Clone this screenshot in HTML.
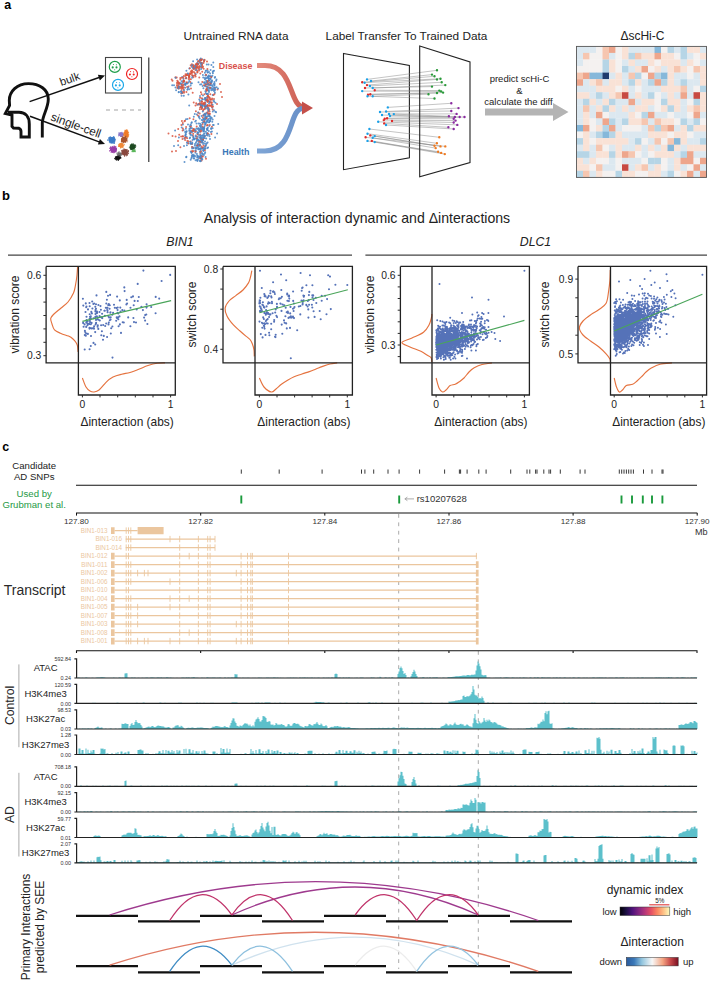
<!DOCTYPE html>
<html><head><meta charset="utf-8"><style>
html,body{margin:0;padding:0;background:#fff;}
svg{display:block;font-family:"Liberation Sans", sans-serif;}
</style></head><body>
<svg width="710" height="981" viewBox="0 0 710 981">
<rect width="710" height="981" fill="#fff"/>
<text x="4.3" y="9.3" font-size="12.5" fill="#000" font-weight="bold" >a</text>
<path d="M42.3 137.5 L42.3 123 C42.3 116 48.3 108 48.3 99 C48.3 89.5 39.5 83.6 28.5 83.6 C17 83.6 9.3 91.5 9.3 100.5 L9.6 105.5 L5.3 113.6 L12 115.2 L12 126.5 L13.5 128 L19 128.3 Q21 129 21 131.5 L21 137 L29.3 137 L29.3 124 C29.3 117 25.5 112.3 19 112.3 L8 112.3" fill="none" stroke="#111" stroke-width="2.9" stroke-linejoin="miter"/>
<line x1="29.6" y1="101.6" x2="99.8" y2="77.3" stroke="#111" stroke-width="1.5" /><path d="M105 75.5 L99.8 80.5 L97.9 74.8Z" fill="#111"/>
<line x1="30" y1="116.3" x2="99.8" y2="142.1" stroke="#111" stroke-width="1.5" /><path d="M105 144 L97.9 144.6 L99.9 138.9Z" fill="#111"/>
<text x="70" y="82.8" font-size="11.2" text-anchor="middle" fill="#222" transform="rotate(-19.5 70 79.8)">bulk</text>
<text x="75.8" y="129.3" font-size="11.8" text-anchor="middle" fill="#222" transform="rotate(20 76 126)">single-cell</text>
<rect x="105.5" y="57.5" width="36" height="35.5" fill="none" stroke="#444" stroke-width="1.1"/>
<circle cx="114.8" cy="66.9" r="5.5" fill="none" stroke="#1f9e4a" stroke-width="1.2"/>
<path d="M112.7 67.4h0M116.5 67.4h0" stroke="#1f9e4a" stroke-width="2.1" stroke-linecap="round"/>
<path d="M113.4 64.5h0M116.4 64.8h0M114.7 69.7h0" stroke="#1f9e4a" stroke-width="1.1" stroke-linecap="round"/>
<circle cx="132" cy="74" r="5.5" fill="none" stroke="#ee2222" stroke-width="1.2"/>
<path d="M129.9 74.5h0M133.7 74.5h0" stroke="#ee2222" stroke-width="2.1" stroke-linecap="round"/>
<path d="M130.6 71.6h0M133.6 71.9h0M131.9 76.8h0" stroke="#ee2222" stroke-width="1.1" stroke-linecap="round"/>
<circle cx="118" cy="84.9" r="5.5" fill="none" stroke="#1ca8e8" stroke-width="1.2"/>
<path d="M115.9 85.4h0M119.7 85.4h0" stroke="#1ca8e8" stroke-width="2.1" stroke-linecap="round"/>
<path d="M116.6 82.5h0M119.6 82.8h0M117.9 87.7h0" stroke="#1ca8e8" stroke-width="1.1" stroke-linecap="round"/>
<line x1="106" y1="110" x2="141" y2="110" stroke="#999" stroke-width="0.9" stroke-dasharray="4 4"/>
<line x1="148.8" y1="57.5" x2="148.8" y2="162" stroke="#222" stroke-width="1.1" />
<ellipse cx="112" cy="140.1" rx="3.44" ry="3.04" fill="#3d7dc8"/>
<path d="M107.8 139.8h0M114.6 143h0M110.9 142.4h0M113.3 138h0M111.3 139.9h0M112.1 137.3h0M110.2 143.1h0M111.1 142.5h0M113.8 141.9h0M112.6 142h0M112 138.1h0M107.8 140.4h0M115.6 139.3h0M109.8 139.6h0M114.3 143.3h0M110.5 140h0M109.3 137.8h0M108.9 137.7h0M115 140.8h0M111 140.3h0M109.5 137.4h0M110.2 139h0M113.6 137.8h0M108.3 139.9h0M114.3 142.9h0M110.4 137h0M113.4 143.3h0M112.4 141.1h0M114.5 137.3h0M114.1 138.3h0M111.9 140.4h0M109.8 137.5h0M113.2 138.4h0M112.7 143.1h0M113.4 136.6h0M113.7 142.2h0M114.2 138.6h0M111.4 139.8h0M110.1 136.9h0M113.9 136.9h0M110.9 138.5h0M112.2 138.4h0M112.5 139.3h0M112.8 138.7h0M110.3 141.6h0M111.3 138.6h0M111.7 140.3h0M111.8 142.6h0M114.7 142h0M109.3 142.3h0M110.4 138h0M114.3 137.9h0M112.9 138h0M110.2 139.6h0M114.1 140.1h0M111.9 141.1h0M111.8 143.4h0M111.5 138.8h0M110 141.8h0M110.5 137.9h0M108.6 138.3h0M111.6 137.8h0M109.5 140.8h0M113.5 141.2h0M111.5 142.2h0" stroke="#3d7dc8" stroke-width="1" stroke-linecap="round"/>
<ellipse cx="121.2" cy="134.3" rx="2.5600000000000005" ry="1.92" fill="#8c78c8"/>
<path d="M120.3 136h0M124 133.9h0M121.9 132.3h0M118.7 133h0M120.4 132.7h0M123.2 135.1h0M121.5 135.2h0M118.4 134.2h0M120.4 136.3h0M120 134.2h0M123.2 134h0M120.4 136.4h0M123.1 135.7h0M122 135.7h0M121.5 136.5h0M118.8 135.8h0M119.3 132.9h0M119.4 134.1h0M118.7 135.7h0M122.2 136.6h0M121.3 132.9h0M120 133.1h0M119.5 135.5h0M123.4 134.5h0M122.9 134.1h0M121.2 132.7h0M122 136.5h0M123 134.4h0M122.8 134.3h0M122.7 132.8h0" stroke="#8c78c8" stroke-width="1" stroke-linecap="round"/>
<ellipse cx="126.3" cy="133.8" rx="2.2399999999999998" ry="3.6" fill="#f07c28"/>
<path d="M127.1 130.4h0M124.7 136.8h0M128.1 134.3h0M125 136h0M127.2 135.3h0M124.7 132.7h0M126.9 130.4h0M127.8 130.9h0M125.1 132.4h0M126.6 131.6h0M128.7 135.8h0M123.9 132.8h0M124.1 133.2h0M127.5 134.2h0M125.3 130.8h0M127.8 137.5h0M127.4 136.5h0M127.8 136.8h0M126.1 135.4h0M127.4 134.3h0M127 136.9h0M123.7 135.1h0M128.7 132.7h0M125.1 130.2h0M126.7 133.5h0M127.5 135.6h0M128.1 135.7h0M126.2 136.1h0M126.1 135.2h0M126.2 130.2h0M125.9 133.3h0M124.2 135.4h0M127.3 136.1h0M127.1 134h0M126.7 136.6h0M123.7 134.8h0M126.1 134.4h0M126.6 132.8h0M128.6 136.2h0M126.3 131.2h0M127.5 135.9h0M124.9 137.4h0M125.6 134.4h0M128.3 132.2h0M127 134.8h0M125.5 134.1h0M124.8 131.2h0M128.8 134.6h0M126.9 129.6h0M125.2 130.5h0" stroke="#f07c28" stroke-width="1" stroke-linecap="round"/>
<ellipse cx="124.3" cy="139.5" rx="3.04" ry="2.8000000000000003" fill="#a8552e"/>
<path d="M124.6 140h0M127.7 140.9h0M122 136.8h0M122.4 142h0M125.7 140.1h0M123.8 142.1h0M121.8 138.6h0M121.7 140.7h0M126.8 139h0M124.8 138.8h0M122.2 141.2h0M122.9 138.3h0M121.3 141.5h0M122.6 137.3h0M125.1 139.8h0M124.6 140.8h0M124.5 139.5h0M123.7 140.1h0M123.8 138.9h0M125.3 139.9h0M123.9 142.1h0M125 137.8h0M123.6 142.6h0M124.3 138.3h0M125.5 136.5h0M125.6 142h0M124.9 141.1h0M121.6 139.6h0M121.5 139.8h0M125.1 142.5h0M123.7 142.8h0M122.2 139.3h0M125.5 141.7h0M122.2 141.4h0M123.6 139.5h0M124.7 138.8h0M125.9 136.7h0M127.1 138.2h0M125.6 141.5h0M121.5 140.5h0M122 141.5h0M124.9 141.5h0M121.9 138.9h0M127 141.9h0M123 136.5h0M122 142.2h0M125.7 136.3h0M125.2 141.8h0M122.1 141.3h0M124.3 140.6h0M121.3 139.9h0M121.5 141.8h0M122.6 140.6h0" stroke="#a8552e" stroke-width="1" stroke-linecap="round"/>
<ellipse cx="121.3" cy="145.3" rx="2.5600000000000005" ry="2.2399999999999998" fill="#f08a38"/>
<path d="M122.2 143.5h0M121.1 146.8h0M124.3 144.4h0M120.3 144.1h0M120.9 144h0M120.3 147.2h0M119.8 146.3h0M122.6 145.1h0M120.8 144.9h0M122.5 146h0M124 145.2h0M121.8 144.8h0M120.4 143.6h0M119 146.5h0M120.5 147.2h0M121.2 147h0M120.1 145.1h0M121 147.1h0M118.5 145.7h0M119.8 143.7h0M122.3 144.4h0M122.9 146.4h0M122.9 146.9h0M120.3 144.8h0M120.8 143.3h0M118.6 146.5h0M122.2 144.3h0M122.8 147.6h0M122.8 147.3h0M120.6 146.9h0M118.4 144.4h0M122.6 145.3h0M120.9 143.6h0M120.6 148h0M121.1 147.7h0" stroke="#f08a38" stroke-width="1" stroke-linecap="round"/>
<ellipse cx="132.5" cy="146.8" rx="2.8000000000000003" ry="2.64" fill="#1e4a22"/>
<path d="M135.5 146.2h0M131.7 144.1h0M133.1 145.2h0M130.3 144.7h0M135 144.8h0M133.4 146.2h0M130.8 148.4h0M134.3 145.5h0M132.5 147.3h0M131.8 149.6h0M133.9 147h0M131.5 149h0M130.4 149.2h0M133.2 149.2h0M133.1 143.7h0M133.4 145.9h0M133.2 144.2h0M132 147h0M134 149.3h0M134.2 147.7h0M132.4 149.6h0M131.8 147.6h0M131.1 148.2h0M132.1 145h0M131.6 144.5h0M134.8 145h0M130.5 148.1h0M129.3 147.4h0M134 148.4h0M130.2 146.3h0M130.5 145.5h0M130 148.2h0M131.2 149.1h0M132.3 145.6h0M130.9 149.6h0M135.9 146.1h0M135.6 147.6h0M135.6 145.6h0M131.9 144.2h0M132 144.3h0M133.1 144.5h0M132.7 147.8h0M135 145.2h0M133.9 149.5h0M131.6 149.3h0M131.5 148h0" stroke="#1e4a22" stroke-width="1" stroke-linecap="round"/>
<ellipse cx="133.8" cy="151" rx="1.7600000000000002" ry="1.2000000000000002" fill="#5cb85c"/>
<path d="M134.1 151.4h0M134.3 151.2h0M135.5 151.7h0M133 150.9h0M132.2 150.8h0M132.8 151h0M131.9 151.6h0M132.6 151.7h0M134.8 150.7h0M133.6 150h0M134.1 150.1h0M132.5 150.8h0M135.2 149.9h0" stroke="#5cb85c" stroke-width="1" stroke-linecap="round"/>
<ellipse cx="113.5" cy="149.6" rx="3.44" ry="2.8000000000000003" fill="#9a3fa8"/>
<path d="M110.6 147h0M113.1 146.4h0M115.3 148.5h0M116.2 149.4h0M111.7 149.6h0M114.6 147.8h0M112.8 148.1h0M111.9 151.3h0M113.6 150.3h0M114 146.2h0M113.8 151h0M112.8 150.4h0M112 147.9h0M109.7 148.3h0M116.2 147h0M116.5 148.5h0M112.7 149.6h0M116 151.1h0M115.2 147.8h0M115.5 149.6h0M113.6 148.2h0M114.2 151.4h0M110.5 147.6h0M114.1 152.3h0M110.7 149.2h0M110.1 148.1h0M114.1 152h0M116 151h0M114.6 146.2h0M111.2 149.9h0M111.2 148.6h0M115.8 151.3h0M114.7 146.5h0M116.1 149.3h0M113.5 150.8h0M109.9 150.8h0M113.9 152.8h0M113 148.1h0M110.9 147.3h0M115.1 149h0M115.2 146.8h0M113.6 151.5h0M116 149h0M112.6 152.5h0M115.5 151.4h0M111.5 151.6h0M110.8 147.9h0M109.8 151h0M115.6 146.7h0M110 150.6h0M111.4 150.4h0M111.1 146.8h0M114.3 147.8h0M114 152.6h0M112.4 146.5h0M115.9 152.2h0M111.5 150.4h0M111.1 152.5h0M114.7 149.3h0M112 152.3h0" stroke="#9a3fa8" stroke-width="1" stroke-linecap="round"/>
<ellipse cx="124.8" cy="152.4" rx="3.2" ry="3.04" fill="#8a4a40"/>
<path d="M125.5 152.6h0M128.4 153.4h0M123.7 154.3h0M125.4 150.3h0M124.6 150.1h0M124.1 154.7h0M125.3 153.3h0M127.4 149.8h0M121.6 153.2h0M126.4 150.6h0M124 149.2h0M126.1 153.1h0M124.8 149.2h0M126.2 155.6h0M125.5 150.3h0M124.1 153.5h0M123.6 152.8h0M121.8 151.6h0M123.9 151.9h0M122.3 150.1h0M126.7 154.7h0M125.5 150.9h0M128.2 150.5h0M123.9 149h0M124.4 155.5h0M125.6 152h0M125.6 150.7h0M125.8 149.5h0M125.6 150.1h0M121.1 153.5h0M126.2 153h0M128.6 151.8h0M127.2 155.4h0M124.4 156h0M125.3 152.1h0M127.1 152.5h0M128 151h0M122 154.7h0M124 154.5h0M126.2 155.9h0M125.7 150h0M124.4 156.1h0M123.3 153.5h0M121.8 153.9h0M125 151.2h0M127.9 151.4h0M128.2 153.7h0M128.4 151.8h0M127.5 152.6h0M121.6 150.5h0M123.7 152.4h0M128.4 150.9h0M123.9 152.5h0M126.6 149.6h0M125.1 152.3h0M122.8 153.2h0M127.5 154.4h0M124.4 153h0M127.2 154.9h0M123.3 151.3h0" stroke="#8a4a40" stroke-width="1" stroke-linecap="round"/>
<ellipse cx="119.3" cy="154.5" rx="2.2399999999999998" ry="2.08" fill="#707070"/>
<path d="M119 153.6h0M118.2 152.6h0M121.3 154.6h0M118.9 152.3h0M118.6 152.1h0M119.4 152h0M118.9 154.7h0M119.9 155.8h0M120.2 154.7h0M117.9 154.3h0M118.8 156.7h0M120.9 152.6h0M117.7 156.1h0M120 153.7h0M120 156.5h0M119.2 155.6h0M119.1 154.7h0M118.7 154.7h0M119.3 155.7h0M118.8 155.3h0M117 154.9h0M117.9 156.6h0M120.3 153.4h0M121.7 155.1h0M119.4 156h0M116.8 153.3h0M118.7 156.2h0M117.7 153h0M119.8 156.4h0" stroke="#707070" stroke-width="1" stroke-linecap="round"/>
<ellipse cx="117.8" cy="158" rx="2.5600000000000005" ry="2.08" fill="#111"/>
<path d="M115.3 157.4h0M118.7 158.6h0M120.7 157.6h0M119.2 155.8h0M119.7 157.6h0M117.9 155.9h0M115.3 157.2h0M116.5 160.2h0M116.8 158.6h0M120.4 158.1h0M118.2 160.5h0M118.4 159.4h0M120.1 157.8h0M120.3 156.9h0M118.9 158.8h0M115.5 159.6h0M116.7 159.5h0M116 158.2h0M118 157.4h0M118.2 160.3h0M116.1 156.8h0M117 158.7h0M114.7 158.7h0M115.8 156.9h0M120.8 157.8h0M120.9 158h0M116.9 156.8h0M116.5 156.9h0M118.2 157.1h0M114.9 158.6h0M115.4 158.6h0M119.2 158.8h0M120.3 157.4h0" stroke="#111" stroke-width="1" stroke-linecap="round"/>
<text x="236" y="39.5" font-size="11.8" text-anchor="middle" fill="#222" >Untrained RNA data</text>
<text x="406.5" y="39.5" font-size="11.8" text-anchor="middle" fill="#222" >Label Transfer To Trained Data</text>
<text x="642.4" y="39.5" font-size="12" text-anchor="middle" fill="#222" >ΔscHi-C</text>
<path d="M207.2 121.8h0M201 158.6h0M207.6 93.7h0M197.1 157.5h0M202.1 148h0M200.3 126.5h0M212.7 94.9h0M193.7 129.5h0M203 130h0M212.3 107.8h0M200.1 141.2h0M202 129h0M189.4 76.9h0M206.9 89.5h0M196.6 141.5h0M204.5 126.3h0M203.8 138.3h0M204.8 118.1h0M190.7 134.6h0M201.3 105.7h0M198.9 116.3h0M210.4 88h0M209.9 76.2h0M204.9 72.7h0M192 128.3h0M194.7 155.5h0M204.6 136.7h0M200 148.5h0M200.7 150.1h0M189.3 68.4h0M185.6 133.9h0M207 113.5h0M213 125.1h0M182.5 83h0M199.9 101h0M206.1 117.7h0M207.5 135.4h0" stroke="#4a86c5" stroke-width="2" stroke-linecap="round" stroke-opacity="0.85"/>
<path d="M192 73.1h0M199.3 77.5h0M193.7 102.6h0M208 95.2h0M189.3 76.7h0M192.7 75.8h0M203.1 110.4h0M200.1 134.5h0M188.7 78.9h0M205.6 98h0M207.9 106.1h0M168.5 133.5h0M205.8 100.3h0M199.7 113.4h0M186.3 77.9h0M212.1 98.4h0M214 99h0M189.5 79h0M190.7 65.3h0M203.7 68.8h0M189.1 75.7h0M205.1 113.4h0M179.7 86.4h0" stroke="#d9553f" stroke-width="2" stroke-linecap="round" stroke-opacity="0.85"/>
<path d="M202.9 75h0M211.3 76.4h0M202.9 99.2h0M207.4 120.3h0M195.4 152.8h0M203.9 155h0M187.5 119h0M195 144.1h0M193.7 158.3h0M198.7 142.8h0M202.2 107.2h0M206 118.4h0M200.9 104.4h0M203.3 150.1h0M193.5 156.3h0M215.5 102.7h0M183.6 130.1h0M195.2 150.8h0M192.6 147.1h0M200.9 106.5h0M202.1 140h0M206.8 116.7h0M181.6 95.7h0M214.8 77.8h0M185.8 134.3h0M199.6 156.9h0M201.1 59.4h0M190.7 159.7h0M200.9 136.3h0M207.6 70.5h0M199.7 145.5h0M211.3 82.1h0M209 134.7h0M199.9 137.7h0" stroke="#4a86c5" stroke-width="2" stroke-linecap="round" stroke-opacity="0.85"/>
<path d="M192.3 71.1h0M196.4 67.3h0M196.8 67h0M209.7 105.8h0M190.7 141.6h0M189.6 74.8h0M205.6 99.1h0M208.8 108.6h0M206.6 94.1h0M193.4 119.2h0M198.4 67.5h0M193 75.7h0M178.1 82.5h0M180.3 78.1h0M202 142.2h0M207.7 107.6h0M205.3 145.9h0M182.5 87.7h0M204.7 135.9h0M182.2 87.9h0M217.5 89.5h0M183.9 75.9h0M198.9 67.1h0M209.3 109.7h0M193.3 147.9h0M200.3 104.7h0" stroke="#d9553f" stroke-width="2" stroke-linecap="round" stroke-opacity="0.85"/>
<path d="M204.9 82.2h0M214.6 85h0M210.4 84h0M205.4 148.5h0M201.6 116.1h0M185.1 83.9h0M202.6 85.9h0M195.6 160.2h0M200.5 158h0M206.6 112.8h0M181.7 127.5h0M196.3 128.4h0M200.9 66.4h0M207.7 76.8h0M178.5 83.8h0M200.4 155.8h0M183.4 80.6h0M184.5 81.7h0M209.2 113.7h0M205.4 75.6h0M209.9 85h0M203.4 88.2h0M200.5 142.6h0M205.7 71h0M199.4 69.2h0M202.2 99.3h0M193.8 116.8h0M206.6 118.1h0M212.4 75.8h0M213.9 88.1h0M214.1 101.8h0M211.4 77.1h0M184 145.9h0M205.6 98.4h0M174 85.3h0M182.9 124.6h0M191.4 158.2h0M200.9 59.8h0M208.8 78.6h0M216.5 79.4h0M206.8 64.6h0M208.5 75.6h0M214 91.1h0" stroke="#4a86c5" stroke-width="2" stroke-linecap="round" stroke-opacity="0.85"/>
<path d="M178 87.6h0M176.9 85.8h0M208.6 96.7h0M193.2 65h0M200.1 107.4h0M211.9 126.8h0M207.7 100.2h0M210.4 102.6h0M183.6 81h0M182.4 92.9h0M207.4 69h0M178 141h0M196.2 103.2h0M211.5 103.1h0M182.5 139.1h0M187.1 86.9h0M196.9 64.6h0" stroke="#d9553f" stroke-width="2" stroke-linecap="round" stroke-opacity="0.85"/>
<path d="M210.9 117.2h0M195.5 138.5h0M186.2 157.2h0M209.7 116.4h0M189.2 130.8h0M200.7 127.9h0M207.4 97.8h0M195.2 65.2h0M214.5 116.1h0M191 83.4h0M209.5 136.2h0M202.3 140.2h0M209.1 122.2h0M210.4 120.4h0M212.8 86.3h0M196.9 114.5h0M193.1 61.3h0M199.8 148.7h0M202.7 147.9h0M193.5 137.1h0M213.3 67h0M197.4 138.9h0M197.4 160.2h0M193.5 139h0M210.8 79.1h0M190.1 141.8h0M178.8 92h0M206.7 135h0M176.1 90.3h0M204.1 129.2h0M208.4 109.8h0M209 80.6h0M195.9 142.7h0M209 89h0M203.4 118.9h0M207.7 116.2h0M206.8 143.3h0M208.1 84.5h0M198.1 149.1h0M188 142.9h0" stroke="#4a86c5" stroke-width="2" stroke-linecap="round" stroke-opacity="0.85"/>
<path d="M204.6 109.1h0M183.8 84.4h0M172 151.5h0M201.5 63.1h0M191.7 72.3h0M179.2 82.7h0M209.8 82.6h0M203 66.7h0M199 104.4h0M191.9 147h0M182.9 128.4h0M210.6 105.8h0M201.5 63.9h0M201.6 94.3h0M201.5 60.1h0M175.5 77.3h0M209.6 98h0M177 82.8h0M190.3 82.1h0M193.9 72h0" stroke="#d9553f" stroke-width="2" stroke-linecap="round" stroke-opacity="0.85"/>
<path d="M186.3 83.3h0M200.4 148.5h0M205.8 93h0M206.8 121.3h0M172.2 85.3h0M206 117h0M206.8 81.5h0M204.2 127.8h0M200.1 84.6h0M214.5 87.3h0M197.7 144.7h0M211.1 129.1h0M205.3 107.2h0M190.3 128.2h0M199.7 148.7h0M197.8 128.9h0M196.5 148h0M213.1 89.2h0M206.1 84.4h0M209.2 116.3h0M175.5 87.6h0M213.7 124.9h0M189.6 133.2h0M202.1 140.9h0M203.4 150.4h0M212.8 88.9h0M205.6 124.6h0M212.1 80.4h0M214 70.8h0M197.9 136.9h0M202.7 105h0M183.5 78.8h0M208.6 80.1h0M210.1 73.6h0M211.9 131.4h0M208.1 147.5h0M198.9 144.4h0M197 147.3h0M204.5 133.2h0" stroke="#4a86c5" stroke-width="2" stroke-linecap="round" stroke-opacity="0.85"/>
<path d="M199.8 109.3h0M203.5 122.2h0M199.6 144.4h0M179 83.7h0M206.2 106.8h0M211.8 102.2h0M196 64.3h0M194.7 72.9h0M201.4 130.4h0M203.9 60.8h0M199.2 66h0M182.6 88.1h0M201.5 146.4h0M183.8 80.6h0M198.4 64.1h0M177.1 84h0M208.9 84.8h0M183.6 89.3h0M205.5 83.9h0M210.3 94.3h0M209.4 114.6h0" stroke="#d9553f" stroke-width="2" stroke-linecap="round" stroke-opacity="0.85"/>
<path d="M202.4 135.7h0M188 124.6h0M195.2 121.4h0M197 140.6h0M210.4 76.2h0M186.3 132.3h0M191.6 66.8h0M197.9 61.9h0M195.9 151h0M195 132.1h0M192.5 139.9h0M204.9 114.1h0M195 66h0M210.1 118.5h0M201.3 148.5h0M203.4 150.9h0M211.2 89.2h0M214 110.2h0M211.3 90.2h0M215.4 111.8h0M194.2 139.2h0M196.6 145.6h0M204.1 59.7h0M189.2 80.9h0M201.1 138h0M203 95.4h0M201.2 140.9h0M199.7 118.4h0M199.4 140.5h0M199.9 131.5h0M195.9 120.8h0M200.8 135.6h0" stroke="#4a86c5" stroke-width="2" stroke-linecap="round" stroke-opacity="0.85"/>
<path d="M199.3 61.5h0M185.4 75.9h0M196 64.5h0M210 102h0M185.1 140.1h0M187.1 75.1h0M178.1 85.8h0M202.3 82h0M171.7 79.6h0M179.2 134.8h0M177.3 88.1h0M188.6 86.4h0M181.7 84.5h0M207.9 101h0M207.8 105h0M208.3 110.8h0M217 104h0M211.9 104.5h0M202 108.4h0M203.6 145.8h0M192.2 65.8h0M209.9 113.8h0M215 89h0M202.1 64.2h0M202.4 67.6h0M208.3 114.5h0M192.7 92.7h0M198.2 112.7h0" stroke="#d9553f" stroke-width="2" stroke-linecap="round" stroke-opacity="0.85"/>
<path d="M203.4 142.9h0M191.8 131.1h0M199.7 59.9h0M210.3 84.3h0M204.5 138h0M197.5 143.9h0M202.4 135.4h0M205.5 119.4h0M205.2 85.4h0M204.9 147.1h0M197.9 132.2h0M207.1 128.7h0M206.2 138.4h0M205.8 117.9h0M199 128.5h0M203.1 144.1h0M206.3 106.2h0M205.2 123.2h0M206.6 89.7h0M204.1 130.9h0M193.7 138.4h0M208.4 90.5h0M188.4 94.4h0M186.1 131.5h0M206.2 80.7h0M211.9 87.9h0M198.8 123.6h0M207.3 133.2h0M216.2 80.8h0M193.3 154.7h0M192.4 76.1h0" stroke="#4a86c5" stroke-width="2" stroke-linecap="round" stroke-opacity="0.85"/>
<path d="M202.9 156.5h0M194.9 75.5h0M190.9 79.2h0M188.8 75.2h0M180.4 147.3h0M201.7 67.5h0M203.8 103.6h0M207.6 112.3h0M207 61.6h0M187.3 141.1h0M187.3 73.8h0M193.5 129.3h0M191.9 143.9h0M202.2 59.2h0M192.3 75.2h0M211.5 105.4h0M206.8 84.2h0M203.7 109.4h0M207.2 90.2h0M208.3 96.8h0M177.9 81.5h0M183.3 81.7h0M212 105.9h0M197.2 104.8h0M198.5 141h0M195.9 131.5h0M188.3 143.5h0M199.9 62.5h0M193.4 77.2h0" stroke="#d9553f" stroke-width="2" stroke-linecap="round" stroke-opacity="0.85"/>
<path d="M190.6 143.5h0M186.7 136.9h0M212.3 121.8h0M192.4 131.4h0M198.2 64.1h0M184.3 138.4h0M185.1 132.1h0M205.3 114.6h0M211.1 128.2h0M195.3 147.6h0M203.5 128.6h0M198.3 112.5h0M193.3 137.2h0M187.4 89.8h0M175.1 130.5h0M182.2 76.9h0M191.8 157.3h0M207.2 129.4h0M191 125.4h0M182.1 92.9h0M198.8 149.3h0M210.6 85.3h0M201 129.5h0M199.9 61h0M217.1 133.4h0M200 131.7h0M195.7 66.9h0M194.8 114h0M189.7 138.3h0M201.2 64.4h0M208.7 118.9h0M203.2 77.4h0M197.1 59.5h0M200.3 59.5h0M208.6 111h0M200.8 58.6h0" stroke="#4a86c5" stroke-width="2" stroke-linecap="round" stroke-opacity="0.85"/>
<path d="M185.5 74.2h0M178.2 129h0M205.1 106.5h0M183 85.6h0M196.7 136.6h0M196.6 68.9h0M203.6 103.3h0M201.6 157.7h0M207.8 95.9h0M186.4 92h0M196.8 138.4h0M205.3 108.3h0M196.7 126.5h0M189.9 68.2h0M220 84h0M186.1 127.1h0M207.5 105.8h0M181 87.1h0M210.3 99.6h0M203.1 127.6h0M206.2 89.8h0M203 139.2h0M208.6 101.3h0M212 99.8h0" stroke="#d9553f" stroke-width="2" stroke-linecap="round" stroke-opacity="0.85"/>
<path d="M198.1 157.3h0M204.7 83.6h0M190.4 134.7h0M200.7 158.3h0M213.6 84h0M211.4 65.1h0M193.5 148.3h0M198.5 144.9h0M205.8 131.7h0M207.2 96.9h0M198.6 158.7h0M204.5 105.8h0M205.1 104.8h0M197.1 63.2h0M201.9 159h0M203 153.9h0M210.7 119.1h0M212 85.3h0M178.9 137.5h0M190.6 143.5h0M187.7 74.3h0M194.4 68.4h0M203.6 134.4h0M210.2 78.7h0M208.7 76.1h0M191.7 152.3h0M186.9 142.7h0M212.6 104.7h0M211.8 85.6h0M200.1 123.7h0M204 134.1h0M206.4 99.7h0M189.2 105.4h0M207.6 142.6h0M184.5 162h0M214.2 85.1h0M202.4 105.2h0M201.2 125h0M198.9 146.1h0M192.2 142.4h0" stroke="#4a86c5" stroke-width="2" stroke-linecap="round" stroke-opacity="0.85"/>
<path d="M176.7 77.6h0M202.3 126.5h0M204.4 94.2h0M194.4 130.7h0M191.4 151.2h0M197.5 70.9h0M192.9 135.5h0M201.6 160.5h0M206.3 90.9h0M182.3 85.9h0M178.4 86.4h0M176.1 77.7h0M200 103h0M209.8 105.2h0M203.7 104.5h0M199.2 70.6h0M200.3 59.6h0M182.6 130.6h0M181 88.2h0M199.9 141.7h0" stroke="#d9553f" stroke-width="2" stroke-linecap="round" stroke-opacity="0.85"/>
<path d="M181.5 86h0M208.5 64.5h0M201.2 65.9h0M207.2 130.1h0M204.7 119.3h0M175.5 77.8h0M207.3 148h0M199.9 125.7h0M202.5 138.9h0M198.8 140.4h0M190.3 130.4h0M202.3 159.3h0M189.8 126.3h0M193.9 68.6h0M201.8 106.3h0M210.8 82.8h0M203.3 115.6h0M206 108.6h0M209 103.2h0M205.4 91.2h0M201.9 155.8h0M190.1 137.6h0M198.1 128.3h0M201.1 156.9h0M191.9 132h0M206.1 86.4h0M174 146h0M178.4 88.6h0M207.5 133.7h0M207.9 127.7h0M203.1 137.4h0M198.7 156.6h0M203 140h0M195.7 73.9h0M203.9 115.8h0M203.7 118.7h0M190.6 132.6h0M211.8 117.9h0" stroke="#4a86c5" stroke-width="2" stroke-linecap="round" stroke-opacity="0.85"/>
<path d="M184 92.7h0M195.7 67.4h0M208.4 113.5h0M211.4 134.1h0M186.5 75.2h0M188.9 77.3h0M197.7 64.1h0M182.8 123h0M209.5 97.4h0M204.7 104.6h0M172.5 80.8h0M193.5 68.3h0M181.7 90h0M207.4 105.7h0M172.5 136h0M183.3 77.6h0M181.9 121h0M195.5 69.9h0M181.8 77.8h0M185.1 137.8h0M195.4 68.2h0M202.5 103.5h0" stroke="#d9553f" stroke-width="2" stroke-linecap="round" stroke-opacity="0.85"/>
<path d="M210 139.1h0M202.3 148.5h0M199.9 161.1h0M192.2 155h0M213.7 100.6h0M203.3 131.5h0M200.9 105.4h0M178.2 145.2h0M206.8 133.6h0M209.8 87.7h0M204.7 99.5h0M196.1 66.5h0M213.3 62.4h0M188.2 87.4h0M203.5 147.9h0M201.7 119.9h0M208 77h0M188.4 82.6h0M208.8 87.2h0M206.2 100.9h0M195.9 136.6h0M205.8 145.7h0M206.4 122.8h0M206.3 78.1h0M195.7 148.8h0M192.1 148.4h0M202 107.3h0M202 62.9h0M206.8 93.9h0M216.6 87.2h0M180.6 83.5h0M201.4 101h0M196.4 70.2h0M185.9 128.8h0M197.2 139.8h0M198.1 147.5h0M205.2 116.2h0M190.6 143.5h0" stroke="#4a86c5" stroke-width="2" stroke-linecap="round" stroke-opacity="0.85"/>
<path d="M197.3 67h0M202.2 71.8h0M199.9 130.1h0M185 120.7h0M204.9 106.5h0M193 151.1h0M201.3 107.2h0M203.4 115.2h0M201.1 151.4h0M182.3 92.1h0M199.9 144.9h0M191 74.1h0M181.1 136.4h0M184.1 81.1h0M210.3 99.5h0M209.8 124.9h0M221 92h0M198.5 104h0M201 106.8h0M208.2 108.7h0M206 158.7h0M210.1 87.8h0" stroke="#d9553f" stroke-width="2" stroke-linecap="round" stroke-opacity="0.85"/>
<path d="M210.1 121.3h0M181.6 81.2h0M186.4 156.8h0M204.7 78h0M211.8 81.5h0M203.5 137.3h0M200.4 160.6h0M204.6 121.8h0M203.5 130.7h0M206.1 105.3h0M211.1 81h0M186.4 70.7h0M199.6 129.5h0M204.9 79.2h0M202 127.8h0M185.4 85h0M218 88.4h0M204.8 153.5h0M212.7 72h0M206.1 75.3h0M185.4 135.5h0M197.7 133.4h0M200.2 154h0M200.6 156.1h0M205.4 103h0M186.5 83.2h0M202.1 153.9h0M197.1 159.7h0M195.6 135.4h0M197.4 145.7h0M208.9 90.7h0M203.3 137.4h0M194.9 130.1h0M186.2 78.3h0M214.4 81.9h0M207.8 78.1h0M197.5 155.8h0M200 95.9h0" stroke="#4a86c5" stroke-width="2" stroke-linecap="round" stroke-opacity="0.85"/>
<path d="M188.3 141.2h0M197.1 65.6h0M200.9 60.5h0M200.9 92.2h0M201.8 156.5h0M211.2 77h0M199.3 104h0M195.5 105.4h0M210.9 83.4h0M179.6 87.5h0M214.5 93.9h0M193.3 131h0M190.8 71.5h0M191 88.4h0M203.5 63h0M206.8 99.9h0M193.4 69h0M191.9 64.2h0M178.9 88.5h0M197.4 71.9h0M202.5 147.6h0M193.2 133.8h0" stroke="#d9553f" stroke-width="2" stroke-linecap="round" stroke-opacity="0.85"/>
<path d="M190.7 127.5h0M190.6 85.6h0M206.8 133.5h0M199.3 99.4h0M178.7 92.2h0M203.9 135.7h0M185.7 83.8h0M191.6 152.9h0M186.9 145.3h0M187.4 83.5h0M188 73.5h0M191.8 122.3h0M203.3 128.8h0M201.4 84.2h0M207.9 107.7h0M198.3 134.4h0M203.8 82.4h0M205 135.8h0M207.5 72.3h0M212.6 128.3h0M205.1 148.6h0M185.2 87.8h0M206.7 82.6h0M205 143.8h0M200.7 161.3h0M200 151.4h0M212.9 89.9h0M214.9 89.4h0M199 117.3h0M207.4 88.4h0M186.7 131.2h0M202.8 111.5h0M199.9 157h0M209.2 126.1h0" stroke="#4a86c5" stroke-width="2" stroke-linecap="round" stroke-opacity="0.85"/>
<path d="M181.6 84.6h0M204.9 150.2h0M197.5 134.3h0M191.7 72.3h0M204.8 103.1h0M176 151h0M200.9 131.6h0M183.4 81.7h0M197 67.7h0M195.4 74.8h0M195.5 151.4h0M185.8 78.3h0M190.4 133.1h0M184 91.5h0M210.6 99.5h0M190.2 73.5h0M186.5 75h0M193.6 67.1h0M196.8 63.5h0M203.1 139.7h0M207.9 99h0M180.3 79.6h0M181.2 93.6h0M181.4 124.9h0M207.7 102.1h0M200.3 152.6h0" stroke="#d9553f" stroke-width="2" stroke-linecap="round" stroke-opacity="0.85"/>
<path d="M200.2 145.6h0M214.9 90.4h0M203.4 128h0M189.4 129h0M194.3 139.2h0M197.6 160.2h0M196.6 123.4h0M190.8 151.7h0M198.1 104.5h0M195 156.6h0M216.1 112.3h0M208.8 131.1h0M181.3 91.5h0M205.2 152.2h0M200.2 137.4h0M200.5 104.1h0M212.7 119.4h0M189.2 89.2h0M205.6 157h0M205.8 78.4h0M197.4 161.1h0M214.9 92.8h0M192.3 143.8h0M209 92.1h0M205 85.9h0M206.1 70.6h0M211.4 82.5h0M208 120.1h0M209 72h0M213.2 71.1h0M192.1 65.3h0M207.4 129.4h0M210.6 70h0M196.5 148.4h0M204.9 97.9h0M180.5 83.4h0M204.9 122.5h0" stroke="#4a86c5" stroke-width="2" stroke-linecap="round" stroke-opacity="0.85"/>
<path d="M204.7 59.9h0M187.1 138.3h0M209.6 111.4h0M204.1 61.6h0M207 125.4h0M190.8 126.5h0M200.3 73.5h0M207.4 100.4h0M204.7 102.6h0M199.8 67.2h0M206.6 118.3h0M200.1 97.7h0M200.8 138.9h0M197.9 115.4h0M208.4 84.6h0M193.9 129.4h0M182.8 136.5h0M202.7 117.6h0M195.6 76.4h0M191.7 70.6h0M193.9 129.1h0M213.6 95h0M202.2 65.4h0" stroke="#d9553f" stroke-width="2" stroke-linecap="round" stroke-opacity="0.85"/>
<path d="M209.6 115.9h0M193.3 155.9h0M205.1 124.6h0M215.1 77.1h0M199.5 135.8h0M212.9 73.3h0M197.4 132.9h0M209.5 120.9h0M202 153.1h0M190.5 124.7h0M207.7 82h0M202.9 120.2h0M180.8 91.6h0M209.1 78.3h0M183.8 95.8h0M195.7 130.3h0M207.9 94.1h0M208.3 83.9h0M192.1 77.8h0M199.3 135.6h0M191.4 123.1h0M192.8 67.7h0M206.2 144.4h0M191.8 156h0M202 142.6h0M201.1 138.9h0M215.2 87.8h0M198.8 130.3h0M194.9 145.6h0M203.4 121.9h0M192.1 135.5h0M218.2 123.9h0M185 84.6h0M208.7 80.7h0M178.8 86.6h0M184 90.2h0M194.2 158.5h0M204.3 106.3h0M178.8 88.1h0M196.9 154.1h0" stroke="#4a86c5" stroke-width="2" stroke-linecap="round" stroke-opacity="0.85"/>
<path d="M202.1 101.4h0M201.1 62.8h0M213 106.4h0M175.6 136.5h0M188.9 76.3h0M201.5 109.1h0M207.9 82.9h0M200.3 158.2h0M204.3 121h0M198.2 61.1h0M207.2 86.8h0M198.8 68.8h0M211.9 106.9h0M202.7 124.1h0M193.8 65.9h0M195.9 111.2h0M197.4 145.4h0M206 74.7h0M187.2 74.8h0M179.1 83.8h0" stroke="#d9553f" stroke-width="2" stroke-linecap="round" stroke-opacity="0.85"/>
<path d="M201.1 68.9h0M209.1 122.2h0M200.9 126.5h0M202.3 122.8h0M194.6 68.3h0M204.3 128.5h0M186 119.3h0M204.5 119.8h0M202.8 140.8h0M207.8 72.4h0M207.5 87.4h0M200.6 63.3h0M215.1 137.4h0M212.8 111.6h0M185.3 136.1h0M204.4 149.1h0M181.5 92.7h0M191.9 83.3h0M209.6 101.6h0M197.3 156h0M201.1 157.2h0M198 139.5h0M214.6 83.4h0M198.1 132.5h0M198.5 82.2h0M187.7 88.9h0M210.9 132.1h0M190.3 131.4h0M207.2 128.4h0M208.8 115.1h0M205.5 115.1h0M205 141.5h0M208.3 109.2h0M208.9 80.6h0M203.9 114.5h0M207.7 84.4h0" stroke="#4a86c5" stroke-width="2" stroke-linecap="round" stroke-opacity="0.85"/>
<path d="M182 86.9h0M207.7 125h0M189.9 73.4h0M207.7 80.9h0M184.5 121.3h0M212.7 109.6h0M182.9 136.2h0M177.3 80.7h0M207.5 96.5h0M206.6 88.7h0M186.8 82.2h0M207.9 133.5h0M201.9 98.2h0M183.8 87.3h0M185.6 137.5h0M192.3 130.6h0M192.7 151.4h0M201.6 101.7h0M189 76.1h0M197.4 72.6h0M201.5 103.6h0M204 85.3h0M189.7 118.2h0M193.7 67h0" stroke="#d9553f" stroke-width="2" stroke-linecap="round" stroke-opacity="0.85"/>
<path d="M201.5 137.7h0" stroke="#4a86c5" stroke-width="2" stroke-linecap="round" stroke-opacity="0.85"/>
<path d="M222 97h0" stroke="#d9553f" stroke-width="2" stroke-linecap="round" stroke-opacity="0.85"/>
<text x="218.8" y="68.9" font-size="8.9" fill="#d9504a" font-weight="bold" >Disease</text>
<text x="222.3" y="154.7" font-size="8.9" fill="#3a78b8" font-weight="bold" >Health</text>
<defs><linearGradient id="ga" x1="0" x2="1" y1="0" y2="0"><stop offset="0" stop-color="#e48c7e"/><stop offset="1" stop-color="#cc5d52"/></linearGradient><linearGradient id="gb" x1="0" x2="1" y1="0" y2="0"><stop offset="0" stop-color="#80a6d6"/><stop offset="1" stop-color="#6890c8"/></linearGradient></defs>
<path d="M257 65.5 L265 65.5 C295 65.5 288 107.5 305 107.5" fill="none" stroke="url(#ga)" stroke-width="5.2"/>
<path d="M257 151 L265 151 C295 151 288 108.5 303 108.5" fill="none" stroke="url(#gb)" stroke-width="5.2"/>
<path d="M313 108 L302 101.5 L302 114.5Z" fill="#c4504a"/>
<path d="M343.5 53.5 L409.4 65.5 L409.4 157.7 L343.5 169.7Z" fill="none" stroke="#222" stroke-width="1.1"/>
<path d="M367 79.4L437 70.3M371 81L432 74.6M362.2 82.3L434.5 76.3M364.6 82.7L440.5 78.7M367 85.1L437 79.4M369.9 85.9L441.7 82.3M372.7 88L445.3 85.1M365 88L432 86.6M374.7 90.2L439.3 90.6M362.2 91.1L441.2 91.4M370.3 94.2L443.1 92.6M368 94.7L437 93M372.7 96.2L428.5 94.2M367.5 96.2L434.5 98.5M387.8 107.4L451.3 103.3M386.1 111.5L458.5 108.1M380 112L451.3 111M389 113.9L456.6 113.9M393.8 114.1L448.9 116.3M382 115L454.9 117M390 116L459.7 117M387.1 118.2L464.5 117M384.7 118.7L453.7 118.7M383.8 120.1L455.6 120.6M392 121L453.7 122.5M378.2 121.8L457.3 124.9M384.2 123.4L448.4 127.3M386 125L453.7 129M369.4 129L439.3 137.3M367.5 133.7L436.9 143.3M370.3 135.4L434.5 145.7M374.7 136.1L440.5 146.4M365.6 137.3L445.3 146.4M372.7 137.8L435.7 148.1M367.5 140.9L438.1 151.7M371.8 140.9L441.2 152.9M374.7 142.1L444.8 154.1" stroke="#8a8a8a" stroke-width="0.5" fill="none"/>
<path d="M362.2 82.3h0M367 85.1h0M365 88h0M374.7 90.2h0M370.3 94.2h0M368 94.7h0M387.1 118.2h0M384.7 118.7h0M383.8 120.1h0M392 121h0M384.2 123.4h0M370.3 135.4h0M365.6 137.3h0M371.8 140.9h0" stroke="#e02a2a" stroke-width="2.4" stroke-linecap="round"/>
<path d="M367 79.4h0M371 81h0M364.6 82.7h0M369.9 85.9h0M372.7 88h0M362.2 91.1h0M372.7 96.2h0M367.5 96.2h0M387.8 107.4h0M386.1 111.5h0M380 112h0M389 113.9h0M393.8 114.1h0M382 115h0M390 116h0M378.2 121.8h0M386 125h0M369.4 129h0M367.5 133.7h0M374.7 136.1h0M372.7 137.8h0M367.5 140.9h0M374.7 142.1h0" stroke="#1aa0e8" stroke-width="2.4" stroke-linecap="round"/>
<path d="M419.7 45.9 L470 61.9 L470 162.5 L419.7 176.8Z" fill="none" stroke="#222" stroke-width="1.1"/>
<path d="M437 70.3h0M432 74.6h0M434.5 76.3h0M440.5 78.7h0M437 79.4h0M441.7 82.3h0M445.3 85.1h0M432 86.6h0M439.3 90.6h0M441.2 91.4h0M443.1 92.6h0M437 93h0M428.5 94.2h0M434.5 98.5h0" stroke="#2a9a3a" stroke-width="2.4" stroke-linecap="round"/>
<path d="M451.3 103.3h0M458.5 108.1h0M451.3 111h0M456.6 113.9h0M448.9 116.3h0M454.9 117h0M459.7 117h0M464.5 117h0M453.7 118.7h0M455.6 120.6h0M453.7 122.5h0M457.3 124.9h0M448.4 127.3h0M453.7 129h0" stroke="#8a2aa0" stroke-width="2.4" stroke-linecap="round"/>
<path d="M439.3 137.3h0M436.9 143.3h0M434.5 145.7h0M440.5 146.4h0M445.3 146.4h0M435.7 148.1h0M438.1 151.7h0M441.2 152.9h0M444.8 154.1h0" stroke="#f07a20" stroke-width="2.4" stroke-linecap="round"/>
<path d="M485 108.5 L553 108.5 L553 103 L568.5 112 L553 121 L553 115.5 L485 115.5Z" fill="#b4b4b4"/>
<text x="519.5" y="81.5" font-size="9.5" text-anchor="middle" fill="#222" >predict scHi-C</text>
<text x="519.5" y="93.5" font-size="9.5" text-anchor="middle" fill="#222" >&amp;</text>
<text x="518.5" y="105" font-size="9.5" text-anchor="middle" fill="#222" >calculate the diff</text>
<g><rect x="576.5" y="46.4" width="6.8" height="6.8" fill="#dce8f0"/><rect x="583" y="46.4" width="6.8" height="6.8" fill="#dce8f0"/><rect x="589.5" y="46.4" width="6.8" height="6.8" fill="#dce8f0"/><rect x="596" y="46.4" width="6.8" height="6.8" fill="#f4f1f0"/><rect x="602.5" y="46.4" width="6.8" height="6.8" fill="#f6c6b0"/><rect x="609" y="46.4" width="6.8" height="6.8" fill="#eea68c"/><rect x="615.5" y="46.4" width="6.8" height="6.8" fill="#f4f1f0"/><rect x="622" y="46.4" width="6.8" height="6.8" fill="#f9e2d6"/><rect x="628.5" y="46.4" width="6.8" height="6.8" fill="#dce8f0"/><rect x="635" y="46.4" width="6.8" height="6.8" fill="#dce8f0"/><rect x="641.5" y="46.4" width="6.8" height="6.8" fill="#dce8f0"/><rect x="648" y="46.4" width="6.8" height="6.8" fill="#dce8f0"/><rect x="654.5" y="46.4" width="6.8" height="6.8" fill="#86b8da"/><rect x="661" y="46.4" width="6.8" height="6.8" fill="#f4f1f0"/><rect x="667.5" y="46.4" width="6.8" height="6.8" fill="#b6d5e6"/><rect x="674" y="46.4" width="6.8" height="6.8" fill="#dce8f0"/><rect x="680.5" y="46.4" width="6.8" height="6.8" fill="#b6d5e6"/><rect x="687" y="46.4" width="6.8" height="6.8" fill="#f9e2d6"/><rect x="693.5" y="46.4" width="6.8" height="6.8" fill="#f9e2d6"/><rect x="700" y="46.4" width="6.8" height="6.8" fill="#dce8f0"/><rect x="576.5" y="52.9" width="6.8" height="6.8" fill="#dce8f0"/><rect x="583" y="52.9" width="6.8" height="6.8" fill="#f6c6b0"/><rect x="589.5" y="52.9" width="6.8" height="6.8" fill="#f4f1f0"/><rect x="596" y="52.9" width="6.8" height="6.8" fill="#f4f1f0"/><rect x="602.5" y="52.9" width="6.8" height="6.8" fill="#f6c6b0"/><rect x="609" y="52.9" width="6.8" height="6.8" fill="#dce8f0"/><rect x="615.5" y="52.9" width="6.8" height="6.8" fill="#f4f1f0"/><rect x="622" y="52.9" width="6.8" height="6.8" fill="#f9e2d6"/><rect x="628.5" y="52.9" width="6.8" height="6.8" fill="#b6d5e6"/><rect x="635" y="52.9" width="6.8" height="6.8" fill="#f6c6b0"/><rect x="641.5" y="52.9" width="6.8" height="6.8" fill="#f9e2d6"/><rect x="648" y="52.9" width="6.8" height="6.8" fill="#f9e2d6"/><rect x="654.5" y="52.9" width="6.8" height="6.8" fill="#eea68c"/><rect x="661" y="52.9" width="6.8" height="6.8" fill="#f9e2d6"/><rect x="667.5" y="52.9" width="6.8" height="6.8" fill="#f9e2d6"/><rect x="674" y="52.9" width="6.8" height="6.8" fill="#f4f1f0"/><rect x="680.5" y="52.9" width="6.8" height="6.8" fill="#b6d5e6"/><rect x="687" y="52.9" width="6.8" height="6.8" fill="#dce8f0"/><rect x="693.5" y="52.9" width="6.8" height="6.8" fill="#f4f1f0"/><rect x="700" y="52.9" width="6.8" height="6.8" fill="#f9e2d6"/><rect x="576.5" y="59.5" width="6.8" height="6.8" fill="#dce8f0"/><rect x="583" y="59.5" width="6.8" height="6.8" fill="#f4f1f0"/><rect x="589.5" y="59.5" width="6.8" height="6.8" fill="#f4f1f0"/><rect x="596" y="59.5" width="6.8" height="6.8" fill="#f4f1f0"/><rect x="602.5" y="59.5" width="6.8" height="6.8" fill="#b6d5e6"/><rect x="609" y="59.5" width="6.8" height="6.8" fill="#f9e2d6"/><rect x="615.5" y="59.5" width="6.8" height="6.8" fill="#f4f1f0"/><rect x="622" y="59.5" width="6.8" height="6.8" fill="#dce8f0"/><rect x="628.5" y="59.5" width="6.8" height="6.8" fill="#f9e2d6"/><rect x="635" y="59.5" width="6.8" height="6.8" fill="#dce8f0"/><rect x="641.5" y="59.5" width="6.8" height="6.8" fill="#dce8f0"/><rect x="648" y="59.5" width="6.8" height="6.8" fill="#f9e2d6"/><rect x="654.5" y="59.5" width="6.8" height="6.8" fill="#f4f1f0"/><rect x="661" y="59.5" width="6.8" height="6.8" fill="#f9e2d6"/><rect x="667.5" y="59.5" width="6.8" height="6.8" fill="#f9e2d6"/><rect x="674" y="59.5" width="6.8" height="6.8" fill="#f9e2d6"/><rect x="680.5" y="59.5" width="6.8" height="6.8" fill="#dce8f0"/><rect x="687" y="59.5" width="6.8" height="6.8" fill="#f9e2d6"/><rect x="693.5" y="59.5" width="6.8" height="6.8" fill="#f4f1f0"/><rect x="700" y="59.5" width="6.8" height="6.8" fill="#dce8f0"/><rect x="576.5" y="66" width="6.8" height="6.8" fill="#f4f1f0"/><rect x="583" y="66" width="6.8" height="6.8" fill="#f4f1f0"/><rect x="589.5" y="66" width="6.8" height="6.8" fill="#f4f1f0"/><rect x="596" y="66" width="6.8" height="6.8" fill="#f4f1f0"/><rect x="602.5" y="66" width="6.8" height="6.8" fill="#b6d5e6"/><rect x="609" y="66" width="6.8" height="6.8" fill="#f9e2d6"/><rect x="615.5" y="66" width="6.8" height="6.8" fill="#f4f1f0"/><rect x="622" y="66" width="6.8" height="6.8" fill="#b6d5e6"/><rect x="628.5" y="66" width="6.8" height="6.8" fill="#dce8f0"/><rect x="635" y="66" width="6.8" height="6.8" fill="#f9e2d6"/><rect x="641.5" y="66" width="6.8" height="6.8" fill="#eea68c"/><rect x="648" y="66" width="6.8" height="6.8" fill="#f4f1f0"/><rect x="654.5" y="66" width="6.8" height="6.8" fill="#f9e2d6"/><rect x="661" y="66" width="6.8" height="6.8" fill="#dce8f0"/><rect x="667.5" y="66" width="6.8" height="6.8" fill="#f9e2d6"/><rect x="674" y="66" width="6.8" height="6.8" fill="#f6c6b0"/><rect x="680.5" y="66" width="6.8" height="6.8" fill="#f9e2d6"/><rect x="687" y="66" width="6.8" height="6.8" fill="#f4f1f0"/><rect x="693.5" y="66" width="6.8" height="6.8" fill="#f6c6b0"/><rect x="700" y="66" width="6.8" height="6.8" fill="#f9e2d6"/><rect x="576.5" y="72.6" width="6.8" height="6.8" fill="#f6c6b0"/><rect x="583" y="72.6" width="6.8" height="6.8" fill="#eea68c"/><rect x="589.5" y="72.6" width="6.8" height="6.8" fill="#86b8da"/><rect x="596" y="72.6" width="6.8" height="6.8" fill="#86b8da"/><rect x="602.5" y="72.6" width="6.8" height="6.8" fill="#1e3a6c"/><rect x="609" y="72.6" width="6.8" height="6.8" fill="#dce8f0"/><rect x="615.5" y="72.6" width="6.8" height="6.8" fill="#f9e2d6"/><rect x="622" y="72.6" width="6.8" height="6.8" fill="#dce8f0"/><rect x="628.5" y="72.6" width="6.8" height="6.8" fill="#f6c6b0"/><rect x="635" y="72.6" width="6.8" height="6.8" fill="#b6d5e6"/><rect x="641.5" y="72.6" width="6.8" height="6.8" fill="#f4f1f0"/><rect x="648" y="72.6" width="6.8" height="6.8" fill="#eea68c"/><rect x="654.5" y="72.6" width="6.8" height="6.8" fill="#b6d5e6"/><rect x="661" y="72.6" width="6.8" height="6.8" fill="#86b8da"/><rect x="667.5" y="72.6" width="6.8" height="6.8" fill="#f9e2d6"/><rect x="674" y="72.6" width="6.8" height="6.8" fill="#dce8f0"/><rect x="680.5" y="72.6" width="6.8" height="6.8" fill="#dce8f0"/><rect x="687" y="72.6" width="6.8" height="6.8" fill="#f4f1f0"/><rect x="693.5" y="72.6" width="6.8" height="6.8" fill="#dce8f0"/><rect x="700" y="72.6" width="6.8" height="6.8" fill="#f9e2d6"/><rect x="576.5" y="79.2" width="6.8" height="6.8" fill="#eea68c"/><rect x="583" y="79.2" width="6.8" height="6.8" fill="#dce8f0"/><rect x="589.5" y="79.2" width="6.8" height="6.8" fill="#f9e2d6"/><rect x="596" y="79.2" width="6.8" height="6.8" fill="#f6c6b0"/><rect x="602.5" y="79.2" width="6.8" height="6.8" fill="#dce8f0"/><rect x="609" y="79.2" width="6.8" height="6.8" fill="#f9e2d6"/><rect x="615.5" y="79.2" width="6.8" height="6.8" fill="#f9e2d6"/><rect x="622" y="79.2" width="6.8" height="6.8" fill="#dce8f0"/><rect x="628.5" y="79.2" width="6.8" height="6.8" fill="#b6d5e6"/><rect x="635" y="79.2" width="6.8" height="6.8" fill="#f9e2d6"/><rect x="641.5" y="79.2" width="6.8" height="6.8" fill="#dce8f0"/><rect x="648" y="79.2" width="6.8" height="6.8" fill="#b6d5e6"/><rect x="654.5" y="79.2" width="6.8" height="6.8" fill="#eea68c"/><rect x="661" y="79.2" width="6.8" height="6.8" fill="#b6d5e6"/><rect x="667.5" y="79.2" width="6.8" height="6.8" fill="#f9e2d6"/><rect x="674" y="79.2" width="6.8" height="6.8" fill="#dce8f0"/><rect x="680.5" y="79.2" width="6.8" height="6.8" fill="#b6d5e6"/><rect x="687" y="79.2" width="6.8" height="6.8" fill="#dce8f0"/><rect x="693.5" y="79.2" width="6.8" height="6.8" fill="#dce8f0"/><rect x="700" y="79.2" width="6.8" height="6.8" fill="#f9e2d6"/><rect x="576.5" y="85.7" width="6.8" height="6.8" fill="#dce8f0"/><rect x="583" y="85.7" width="6.8" height="6.8" fill="#dce8f0"/><rect x="589.5" y="85.7" width="6.8" height="6.8" fill="#dce8f0"/><rect x="596" y="85.7" width="6.8" height="6.8" fill="#f9e2d6"/><rect x="602.5" y="85.7" width="6.8" height="6.8" fill="#f9e2d6"/><rect x="609" y="85.7" width="6.8" height="6.8" fill="#f9e2d6"/><rect x="615.5" y="85.7" width="6.8" height="6.8" fill="#f4f1f0"/><rect x="622" y="85.7" width="6.8" height="6.8" fill="#f9e2d6"/><rect x="628.5" y="85.7" width="6.8" height="6.8" fill="#dce8f0"/><rect x="635" y="85.7" width="6.8" height="6.8" fill="#f4f1f0"/><rect x="641.5" y="85.7" width="6.8" height="6.8" fill="#dce8f0"/><rect x="648" y="85.7" width="6.8" height="6.8" fill="#dce8f0"/><rect x="654.5" y="85.7" width="6.8" height="6.8" fill="#dce8f0"/><rect x="661" y="85.7" width="6.8" height="6.8" fill="#f9e2d6"/><rect x="667.5" y="85.7" width="6.8" height="6.8" fill="#f9e2d6"/><rect x="674" y="85.7" width="6.8" height="6.8" fill="#f9e2d6"/><rect x="680.5" y="85.7" width="6.8" height="6.8" fill="#f6c6b0"/><rect x="687" y="85.7" width="6.8" height="6.8" fill="#dce8f0"/><rect x="693.5" y="85.7" width="6.8" height="6.8" fill="#f4f1f0"/><rect x="700" y="85.7" width="6.8" height="6.8" fill="#b6d5e6"/><rect x="576.5" y="92.2" width="6.8" height="6.8" fill="#f9e2d6"/><rect x="583" y="92.2" width="6.8" height="6.8" fill="#f9e2d6"/><rect x="589.5" y="92.2" width="6.8" height="6.8" fill="#dce8f0"/><rect x="596" y="92.2" width="6.8" height="6.8" fill="#b6d5e6"/><rect x="602.5" y="92.2" width="6.8" height="6.8" fill="#dce8f0"/><rect x="609" y="92.2" width="6.8" height="6.8" fill="#f9e2d6"/><rect x="615.5" y="92.2" width="6.8" height="6.8" fill="#f6c6b0"/><rect x="622" y="92.2" width="6.8" height="6.8" fill="#c84a42"/><rect x="628.5" y="92.2" width="6.8" height="6.8" fill="#dce8f0"/><rect x="635" y="92.2" width="6.8" height="6.8" fill="#f9e2d6"/><rect x="641.5" y="92.2" width="6.8" height="6.8" fill="#dce8f0"/><rect x="648" y="92.2" width="6.8" height="6.8" fill="#b6d5e6"/><rect x="654.5" y="92.2" width="6.8" height="6.8" fill="#f4f1f0"/><rect x="661" y="92.2" width="6.8" height="6.8" fill="#dce8f0"/><rect x="667.5" y="92.2" width="6.8" height="6.8" fill="#f9e2d6"/><rect x="674" y="92.2" width="6.8" height="6.8" fill="#dce8f0"/><rect x="680.5" y="92.2" width="6.8" height="6.8" fill="#eea68c"/><rect x="687" y="92.2" width="6.8" height="6.8" fill="#dce8f0"/><rect x="693.5" y="92.2" width="6.8" height="6.8" fill="#c84a42"/><rect x="700" y="92.2" width="6.8" height="6.8" fill="#f9e2d6"/><rect x="576.5" y="98.8" width="6.8" height="6.8" fill="#dce8f0"/><rect x="583" y="98.8" width="6.8" height="6.8" fill="#b6d5e6"/><rect x="589.5" y="98.8" width="6.8" height="6.8" fill="#f9e2d6"/><rect x="596" y="98.8" width="6.8" height="6.8" fill="#dce8f0"/><rect x="602.5" y="98.8" width="6.8" height="6.8" fill="#f9e2d6"/><rect x="609" y="98.8" width="6.8" height="6.8" fill="#b6d5e6"/><rect x="615.5" y="98.8" width="6.8" height="6.8" fill="#dce8f0"/><rect x="622" y="98.8" width="6.8" height="6.8" fill="#dce8f0"/><rect x="628.5" y="98.8" width="6.8" height="6.8" fill="#eea68c"/><rect x="635" y="98.8" width="6.8" height="6.8" fill="#dce8f0"/><rect x="641.5" y="98.8" width="6.8" height="6.8" fill="#f9e2d6"/><rect x="648" y="98.8" width="6.8" height="6.8" fill="#f9e2d6"/><rect x="654.5" y="98.8" width="6.8" height="6.8" fill="#f4f1f0"/><rect x="661" y="98.8" width="6.8" height="6.8" fill="#b6d5e6"/><rect x="667.5" y="98.8" width="6.8" height="6.8" fill="#f9e2d6"/><rect x="674" y="98.8" width="6.8" height="6.8" fill="#f9e2d6"/><rect x="680.5" y="98.8" width="6.8" height="6.8" fill="#dce8f0"/><rect x="687" y="98.8" width="6.8" height="6.8" fill="#f4f1f0"/><rect x="693.5" y="98.8" width="6.8" height="6.8" fill="#b6d5e6"/><rect x="700" y="98.8" width="6.8" height="6.8" fill="#f9e2d6"/><rect x="576.5" y="105.3" width="6.8" height="6.8" fill="#dce8f0"/><rect x="583" y="105.3" width="6.8" height="6.8" fill="#f6c6b0"/><rect x="589.5" y="105.3" width="6.8" height="6.8" fill="#dce8f0"/><rect x="596" y="105.3" width="6.8" height="6.8" fill="#f9e2d6"/><rect x="602.5" y="105.3" width="6.8" height="6.8" fill="#b6d5e6"/><rect x="609" y="105.3" width="6.8" height="6.8" fill="#f9e2d6"/><rect x="615.5" y="105.3" width="6.8" height="6.8" fill="#dce8f0"/><rect x="622" y="105.3" width="6.8" height="6.8" fill="#f9e2d6"/><rect x="628.5" y="105.3" width="6.8" height="6.8" fill="#dce8f0"/><rect x="635" y="105.3" width="6.8" height="6.8" fill="#f9e2d6"/><rect x="641.5" y="105.3" width="6.8" height="6.8" fill="#f9e2d6"/><rect x="648" y="105.3" width="6.8" height="6.8" fill="#dce8f0"/><rect x="654.5" y="105.3" width="6.8" height="6.8" fill="#f4f1f0"/><rect x="661" y="105.3" width="6.8" height="6.8" fill="#f9e2d6"/><rect x="667.5" y="105.3" width="6.8" height="6.8" fill="#b6d5e6"/><rect x="674" y="105.3" width="6.8" height="6.8" fill="#f9e2d6"/><rect x="680.5" y="105.3" width="6.8" height="6.8" fill="#dce8f0"/><rect x="687" y="105.3" width="6.8" height="6.8" fill="#f9e2d6"/><rect x="693.5" y="105.3" width="6.8" height="6.8" fill="#f6c6b0"/><rect x="700" y="105.3" width="6.8" height="6.8" fill="#f9e2d6"/><rect x="576.5" y="111.9" width="6.8" height="6.8" fill="#dce8f0"/><rect x="583" y="111.9" width="6.8" height="6.8" fill="#f9e2d6"/><rect x="589.5" y="111.9" width="6.8" height="6.8" fill="#dce8f0"/><rect x="596" y="111.9" width="6.8" height="6.8" fill="#eea68c"/><rect x="602.5" y="111.9" width="6.8" height="6.8" fill="#f4f1f0"/><rect x="609" y="111.9" width="6.8" height="6.8" fill="#dce8f0"/><rect x="615.5" y="111.9" width="6.8" height="6.8" fill="#dce8f0"/><rect x="622" y="111.9" width="6.8" height="6.8" fill="#dce8f0"/><rect x="628.5" y="111.9" width="6.8" height="6.8" fill="#f9e2d6"/><rect x="635" y="111.9" width="6.8" height="6.8" fill="#f4f1f0"/><rect x="641.5" y="111.9" width="6.8" height="6.8" fill="#b6d5e6"/><rect x="648" y="111.9" width="6.8" height="6.8" fill="#eea68c"/><rect x="654.5" y="111.9" width="6.8" height="6.8" fill="#dce8f0"/><rect x="661" y="111.9" width="6.8" height="6.8" fill="#dce8f0"/><rect x="667.5" y="111.9" width="6.8" height="6.8" fill="#f4f1f0"/><rect x="674" y="111.9" width="6.8" height="6.8" fill="#dce8f0"/><rect x="680.5" y="111.9" width="6.8" height="6.8" fill="#dce8f0"/><rect x="687" y="111.9" width="6.8" height="6.8" fill="#f4f1f0"/><rect x="693.5" y="111.9" width="6.8" height="6.8" fill="#eea68c"/><rect x="700" y="111.9" width="6.8" height="6.8" fill="#dce8f0"/><rect x="576.5" y="118.4" width="6.8" height="6.8" fill="#dce8f0"/><rect x="583" y="118.4" width="6.8" height="6.8" fill="#f9e2d6"/><rect x="589.5" y="118.4" width="6.8" height="6.8" fill="#f4f1f0"/><rect x="596" y="118.4" width="6.8" height="6.8" fill="#dce8f0"/><rect x="602.5" y="118.4" width="6.8" height="6.8" fill="#eea68c"/><rect x="609" y="118.4" width="6.8" height="6.8" fill="#b6d5e6"/><rect x="615.5" y="118.4" width="6.8" height="6.8" fill="#dce8f0"/><rect x="622" y="118.4" width="6.8" height="6.8" fill="#b6d5e6"/><rect x="628.5" y="118.4" width="6.8" height="6.8" fill="#f9e2d6"/><rect x="635" y="118.4" width="6.8" height="6.8" fill="#f9e2d6"/><rect x="641.5" y="118.4" width="6.8" height="6.8" fill="#f6c6b0"/><rect x="648" y="118.4" width="6.8" height="6.8" fill="#dce8f0"/><rect x="654.5" y="118.4" width="6.8" height="6.8" fill="#f6c6b0"/><rect x="661" y="118.4" width="6.8" height="6.8" fill="#f9e2d6"/><rect x="667.5" y="118.4" width="6.8" height="6.8" fill="#f9e2d6"/><rect x="674" y="118.4" width="6.8" height="6.8" fill="#f4f1f0"/><rect x="680.5" y="118.4" width="6.8" height="6.8" fill="#b6d5e6"/><rect x="687" y="118.4" width="6.8" height="6.8" fill="#dce8f0"/><rect x="693.5" y="118.4" width="6.8" height="6.8" fill="#b6d5e6"/><rect x="700" y="118.4" width="6.8" height="6.8" fill="#f4f1f0"/><rect x="576.5" y="125" width="6.8" height="6.8" fill="#86b8da"/><rect x="583" y="125" width="6.8" height="6.8" fill="#eea68c"/><rect x="589.5" y="125" width="6.8" height="6.8" fill="#f4f1f0"/><rect x="596" y="125" width="6.8" height="6.8" fill="#f9e2d6"/><rect x="602.5" y="125" width="6.8" height="6.8" fill="#b6d5e6"/><rect x="609" y="125" width="6.8" height="6.8" fill="#eea68c"/><rect x="615.5" y="125" width="6.8" height="6.8" fill="#dce8f0"/><rect x="622" y="125" width="6.8" height="6.8" fill="#f4f1f0"/><rect x="628.5" y="125" width="6.8" height="6.8" fill="#f4f1f0"/><rect x="635" y="125" width="6.8" height="6.8" fill="#f4f1f0"/><rect x="641.5" y="125" width="6.8" height="6.8" fill="#dce8f0"/><rect x="648" y="125" width="6.8" height="6.8" fill="#f6c6b0"/><rect x="654.5" y="125" width="6.8" height="6.8" fill="#b6d5e6"/><rect x="661" y="125" width="6.8" height="6.8" fill="#f6c6b0"/><rect x="667.5" y="125" width="6.8" height="6.8" fill="#eea68c"/><rect x="674" y="125" width="6.8" height="6.8" fill="#dce8f0"/><rect x="680.5" y="125" width="6.8" height="6.8" fill="#f9e2d6"/><rect x="687" y="125" width="6.8" height="6.8" fill="#b6d5e6"/><rect x="693.5" y="125" width="6.8" height="6.8" fill="#f9e2d6"/><rect x="700" y="125" width="6.8" height="6.8" fill="#f9e2d6"/><rect x="576.5" y="131.5" width="6.8" height="6.8" fill="#f4f1f0"/><rect x="583" y="131.5" width="6.8" height="6.8" fill="#f9e2d6"/><rect x="589.5" y="131.5" width="6.8" height="6.8" fill="#dce8f0"/><rect x="596" y="131.5" width="6.8" height="6.8" fill="#b6d5e6"/><rect x="602.5" y="131.5" width="6.8" height="6.8" fill="#86b8da"/><rect x="609" y="131.5" width="6.8" height="6.8" fill="#b6d5e6"/><rect x="615.5" y="131.5" width="6.8" height="6.8" fill="#f9e2d6"/><rect x="622" y="131.5" width="6.8" height="6.8" fill="#dce8f0"/><rect x="628.5" y="131.5" width="6.8" height="6.8" fill="#dce8f0"/><rect x="635" y="131.5" width="6.8" height="6.8" fill="#dce8f0"/><rect x="641.5" y="131.5" width="6.8" height="6.8" fill="#dce8f0"/><rect x="648" y="131.5" width="6.8" height="6.8" fill="#f9e2d6"/><rect x="654.5" y="131.5" width="6.8" height="6.8" fill="#f9e2d6"/><rect x="661" y="131.5" width="6.8" height="6.8" fill="#f9e2d6"/><rect x="667.5" y="131.5" width="6.8" height="6.8" fill="#f4f1f0"/><rect x="674" y="131.5" width="6.8" height="6.8" fill="#f9e2d6"/><rect x="680.5" y="131.5" width="6.8" height="6.8" fill="#f9e2d6"/><rect x="687" y="131.5" width="6.8" height="6.8" fill="#f4f1f0"/><rect x="693.5" y="131.5" width="6.8" height="6.8" fill="#dce8f0"/><rect x="700" y="131.5" width="6.8" height="6.8" fill="#dce8f0"/><rect x="576.5" y="138.1" width="6.8" height="6.8" fill="#b6d5e6"/><rect x="583" y="138.1" width="6.8" height="6.8" fill="#f9e2d6"/><rect x="589.5" y="138.1" width="6.8" height="6.8" fill="#f4f1f0"/><rect x="596" y="138.1" width="6.8" height="6.8" fill="#f9e2d6"/><rect x="602.5" y="138.1" width="6.8" height="6.8" fill="#f9e2d6"/><rect x="609" y="138.1" width="6.8" height="6.8" fill="#f9e2d6"/><rect x="615.5" y="138.1" width="6.8" height="6.8" fill="#f9e2d6"/><rect x="622" y="138.1" width="6.8" height="6.8" fill="#f9e2d6"/><rect x="628.5" y="138.1" width="6.8" height="6.8" fill="#dce8f0"/><rect x="635" y="138.1" width="6.8" height="6.8" fill="#b6d5e6"/><rect x="641.5" y="138.1" width="6.8" height="6.8" fill="#f4f1f0"/><rect x="648" y="138.1" width="6.8" height="6.8" fill="#dce8f0"/><rect x="654.5" y="138.1" width="6.8" height="6.8" fill="#f6c6b0"/><rect x="661" y="138.1" width="6.8" height="6.8" fill="#f4f1f0"/><rect x="667.5" y="138.1" width="6.8" height="6.8" fill="#f6c6b0"/><rect x="674" y="138.1" width="6.8" height="6.8" fill="#86b8da"/><rect x="680.5" y="138.1" width="6.8" height="6.8" fill="#f9e2d6"/><rect x="687" y="138.1" width="6.8" height="6.8" fill="#dce8f0"/><rect x="693.5" y="138.1" width="6.8" height="6.8" fill="#dce8f0"/><rect x="700" y="138.1" width="6.8" height="6.8" fill="#b6d5e6"/><rect x="576.5" y="144.7" width="6.8" height="6.8" fill="#dce8f0"/><rect x="583" y="144.7" width="6.8" height="6.8" fill="#f9e2d6"/><rect x="589.5" y="144.7" width="6.8" height="6.8" fill="#dce8f0"/><rect x="596" y="144.7" width="6.8" height="6.8" fill="#f6c6b0"/><rect x="602.5" y="144.7" width="6.8" height="6.8" fill="#f4f1f0"/><rect x="609" y="144.7" width="6.8" height="6.8" fill="#dce8f0"/><rect x="615.5" y="144.7" width="6.8" height="6.8" fill="#f9e2d6"/><rect x="622" y="144.7" width="6.8" height="6.8" fill="#dce8f0"/><rect x="628.5" y="144.7" width="6.8" height="6.8" fill="#dce8f0"/><rect x="635" y="144.7" width="6.8" height="6.8" fill="#f9e2d6"/><rect x="641.5" y="144.7" width="6.8" height="6.8" fill="#dce8f0"/><rect x="648" y="144.7" width="6.8" height="6.8" fill="#f9e2d6"/><rect x="654.5" y="144.7" width="6.8" height="6.8" fill="#dce8f0"/><rect x="661" y="144.7" width="6.8" height="6.8" fill="#f9e2d6"/><rect x="667.5" y="144.7" width="6.8" height="6.8" fill="#86b8da"/><rect x="674" y="144.7" width="6.8" height="6.8" fill="#f9e2d6"/><rect x="680.5" y="144.7" width="6.8" height="6.8" fill="#dce8f0"/><rect x="687" y="144.7" width="6.8" height="6.8" fill="#f9e2d6"/><rect x="693.5" y="144.7" width="6.8" height="6.8" fill="#f9e2d6"/><rect x="700" y="144.7" width="6.8" height="6.8" fill="#f9e2d6"/><rect x="576.5" y="151.2" width="6.8" height="6.8" fill="#b6d5e6"/><rect x="583" y="151.2" width="6.8" height="6.8" fill="#b6d5e6"/><rect x="589.5" y="151.2" width="6.8" height="6.8" fill="#dce8f0"/><rect x="596" y="151.2" width="6.8" height="6.8" fill="#f9e2d6"/><rect x="602.5" y="151.2" width="6.8" height="6.8" fill="#f9e2d6"/><rect x="609" y="151.2" width="6.8" height="6.8" fill="#b6d5e6"/><rect x="615.5" y="151.2" width="6.8" height="6.8" fill="#f9e2d6"/><rect x="622" y="151.2" width="6.8" height="6.8" fill="#eea68c"/><rect x="628.5" y="151.2" width="6.8" height="6.8" fill="#f6c6b0"/><rect x="635" y="151.2" width="6.8" height="6.8" fill="#f4f1f0"/><rect x="641.5" y="151.2" width="6.8" height="6.8" fill="#dce8f0"/><rect x="648" y="151.2" width="6.8" height="6.8" fill="#f4f1f0"/><rect x="654.5" y="151.2" width="6.8" height="6.8" fill="#f9e2d6"/><rect x="661" y="151.2" width="6.8" height="6.8" fill="#f9e2d6"/><rect x="667.5" y="151.2" width="6.8" height="6.8" fill="#f9e2d6"/><rect x="674" y="151.2" width="6.8" height="6.8" fill="#dce8f0"/><rect x="680.5" y="151.2" width="6.8" height="6.8" fill="#b6d5e6"/><rect x="687" y="151.2" width="6.8" height="6.8" fill="#eea68c"/><rect x="693.5" y="151.2" width="6.8" height="6.8" fill="#dce8f0"/><rect x="700" y="151.2" width="6.8" height="6.8" fill="#dce8f0"/><rect x="576.5" y="157.8" width="6.8" height="6.8" fill="#f9e2d6"/><rect x="583" y="157.8" width="6.8" height="6.8" fill="#dce8f0"/><rect x="589.5" y="157.8" width="6.8" height="6.8" fill="#f9e2d6"/><rect x="596" y="157.8" width="6.8" height="6.8" fill="#f4f1f0"/><rect x="602.5" y="157.8" width="6.8" height="6.8" fill="#f4f1f0"/><rect x="609" y="157.8" width="6.8" height="6.8" fill="#dce8f0"/><rect x="615.5" y="157.8" width="6.8" height="6.8" fill="#f4f1f0"/><rect x="622" y="157.8" width="6.8" height="6.8" fill="#dce8f0"/><rect x="628.5" y="157.8" width="6.8" height="6.8" fill="#dce8f0"/><rect x="635" y="157.8" width="6.8" height="6.8" fill="#dce8f0"/><rect x="641.5" y="157.8" width="6.8" height="6.8" fill="#f4f1f0"/><rect x="648" y="157.8" width="6.8" height="6.8" fill="#b6d5e6"/><rect x="654.5" y="157.8" width="6.8" height="6.8" fill="#b6d5e6"/><rect x="661" y="157.8" width="6.8" height="6.8" fill="#f4f1f0"/><rect x="667.5" y="157.8" width="6.8" height="6.8" fill="#dce8f0"/><rect x="674" y="157.8" width="6.8" height="6.8" fill="#f9e2d6"/><rect x="680.5" y="157.8" width="6.8" height="6.8" fill="#eea68c"/><rect x="687" y="157.8" width="6.8" height="6.8" fill="#eea68c"/><rect x="693.5" y="157.8" width="6.8" height="6.8" fill="#f4f1f0"/><rect x="700" y="157.8" width="6.8" height="6.8" fill="#eea68c"/><rect x="576.5" y="164.3" width="6.8" height="6.8" fill="#f9e2d6"/><rect x="583" y="164.3" width="6.8" height="6.8" fill="#f9e2d6"/><rect x="589.5" y="164.3" width="6.8" height="6.8" fill="#f4f1f0"/><rect x="596" y="164.3" width="6.8" height="6.8" fill="#f6c6b0"/><rect x="602.5" y="164.3" width="6.8" height="6.8" fill="#dce8f0"/><rect x="609" y="164.3" width="6.8" height="6.8" fill="#dce8f0"/><rect x="615.5" y="164.3" width="6.8" height="6.8" fill="#f4f1f0"/><rect x="622" y="164.3" width="6.8" height="6.8" fill="#c84a42"/><rect x="628.5" y="164.3" width="6.8" height="6.8" fill="#dce8f0"/><rect x="635" y="164.3" width="6.8" height="6.8" fill="#f9e2d6"/><rect x="641.5" y="164.3" width="6.8" height="6.8" fill="#f6c6b0"/><rect x="648" y="164.3" width="6.8" height="6.8" fill="#dce8f0"/><rect x="654.5" y="164.3" width="6.8" height="6.8" fill="#f9e2d6"/><rect x="661" y="164.3" width="6.8" height="6.8" fill="#f4f1f0"/><rect x="667.5" y="164.3" width="6.8" height="6.8" fill="#dce8f0"/><rect x="674" y="164.3" width="6.8" height="6.8" fill="#f9e2d6"/><rect x="680.5" y="164.3" width="6.8" height="6.8" fill="#dce8f0"/><rect x="687" y="164.3" width="6.8" height="6.8" fill="#f4f1f0"/><rect x="693.5" y="164.3" width="6.8" height="6.8" fill="#eea68c"/><rect x="700" y="164.3" width="6.8" height="6.8" fill="#dce8f0"/><rect x="576.5" y="170.8" width="6.8" height="6.8" fill="#b6d5e6"/><rect x="583" y="170.8" width="6.8" height="6.8" fill="#f6c6b0"/><rect x="589.5" y="170.8" width="6.8" height="6.8" fill="#dce8f0"/><rect x="596" y="170.8" width="6.8" height="6.8" fill="#f9e2d6"/><rect x="602.5" y="170.8" width="6.8" height="6.8" fill="#f4f1f0"/><rect x="609" y="170.8" width="6.8" height="6.8" fill="#f4f1f0"/><rect x="615.5" y="170.8" width="6.8" height="6.8" fill="#b6d5e6"/><rect x="622" y="170.8" width="6.8" height="6.8" fill="#f9e2d6"/><rect x="628.5" y="170.8" width="6.8" height="6.8" fill="#f9e2d6"/><rect x="635" y="170.8" width="6.8" height="6.8" fill="#f4f1f0"/><rect x="641.5" y="170.8" width="6.8" height="6.8" fill="#f4f1f0"/><rect x="648" y="170.8" width="6.8" height="6.8" fill="#f9e2d6"/><rect x="654.5" y="170.8" width="6.8" height="6.8" fill="#f9e2d6"/><rect x="661" y="170.8" width="6.8" height="6.8" fill="#dce8f0"/><rect x="667.5" y="170.8" width="6.8" height="6.8" fill="#b6d5e6"/><rect x="674" y="170.8" width="6.8" height="6.8" fill="#f4f1f0"/><rect x="680.5" y="170.8" width="6.8" height="6.8" fill="#f9e2d6"/><rect x="687" y="170.8" width="6.8" height="6.8" fill="#eea68c"/><rect x="693.5" y="170.8" width="6.8" height="6.8" fill="#dce8f0"/><rect x="700" y="170.8" width="6.8" height="6.8" fill="#eea68c"/></g>
<rect x="576.5" y="46.4" width="130" height="131" fill="none" stroke="#555" stroke-width="0.9"/>
<text x="2" y="199.8" font-size="13" fill="#000" font-weight="bold" >b</text>
<text x="357" y="222.8" font-size="14.1" text-anchor="middle" fill="#222" >Analysis of interaction dynamic and Δinteractions</text>
<text x="180" y="246" font-size="12.3" text-anchor="middle" fill="#222" font-style="italic" >BIN1</text>
<text x="535.5" y="246" font-size="12.3" text-anchor="middle" fill="#222" font-style="italic" >DLC1</text>
<line x1="8" y1="255.1" x2="352" y2="255.1" stroke="#444" stroke-width="1.1" />
<line x1="365.4" y1="255.1" x2="707" y2="255.1" stroke="#444" stroke-width="1.1" />
<path d="M107.1 307.9h0M95.6 324.5h0M92.4 308.5h0M106.3 291.9h0M95.5 314.1h0M85.8 303.4h0M127.1 303.5h0M118.1 317.3h0M87.7 323.8h0M101.3 335.2h0M130.5 307.8h0M92.2 301.5h0M85.5 312h0M109 304.6h0M96 304.2h0M87.5 325.2h0M137.8 301h0M96.5 295.4h0M89.5 327.8h0M99.6 316.1h0M89.2 323.9h0M108.5 316.5h0M116.2 320.7h0M146.7 306.8h0M84.8 335.1h0M90.8 324.3h0M96.1 322.7h0M116.9 318h0M89.5 303h0M122.3 310.1h0M102.1 313.8h0M109.1 317.5h0M83.3 305.6h0M110.8 333.5h0M102 318h0M86.5 306.5h0M108 295.7h0M107.6 312.3h0M95.4 317.3h0M134.6 300.9h0M89.8 320.7h0M100.9 309.7h0M118.3 319.3h0M95.5 310h0M97.6 317.4h0M98.3 328.9h0M89.6 349.3h0M95.3 306.8h0M104.8 310.8h0M109.8 305.3h0M155.6 313.3h0M86.2 307.3h0M104.4 310.7h0M86.6 320.1h0M108.8 304h0M100.5 306.1h0M89.7 314.2h0M124.3 287.4h0M117.1 296.6h0M159.2 298.6h0M83.1 322.9h0M146.6 304.2h0M124.6 291.1h0M99.5 312h0M91.5 328.4h0M86.2 326.9h0M141.4 306.7h0M108.2 305.1h0M108.8 322.5h0M126.4 304.4h0M89.7 306.2h0M114 304.8h0M91 336h0M110.7 317.3h0M118.6 326.3h0M107.2 310.1h0M123.8 322.5h0M95.4 311.4h0M96.8 316.2h0M84.7 349.5h0M97.6 326.7h0M91.9 313.4h0M124.4 310.6h0M119.5 316.4h0M145.1 320.6h0M96.8 312.4h0M110.1 294.9h0M90.8 316.2h0M101.2 317.2h0M146.5 307.6h0M85.8 335.7h0M91.6 322.9h0M92.9 328.3h0M131.3 297.3h0M105.2 326h0M93.5 342.9h0M89.5 328.6h0M142.9 310.1h0M151.2 307h0M121 332.9h0M88 309.4h0M113.1 312.9h0M109.8 320.3h0M90.2 328.1h0M97.1 312.9h0M84.6 324.4h0M117.6 310h0M102.3 318.1h0M95.4 316.8h0M133 296.4h0M117.5 312.9h0M84.9 330.9h0M126.7 299.9h0M90 316.8h0M97.8 325.4h0M106.3 303.5h0M98.5 319.7h0M119.8 300.4h0M86.4 333.5h0M90.8 346h0M103 339.8h0M110.5 312.3h0M133.4 318h0M97.7 319.2h0M87.6 321.4h0M147.4 324h0M94.1 303.5h0M112.4 326.5h0M93.5 318.2h0M130.4 326.3h0M86.3 322.6h0M107.5 307.8h0M99.8 320.5h0M103.2 325h0M118.3 313.4h0M83.6 326.7h0M114.8 307.8h0M137.7 283.9h0M122.7 322.3h0M146.3 314.5h0M96 319.9h0M136.7 309.5h0M85.4 332.6h0M116.6 308.1h0M105.8 307.8h0M110.3 312.7h0M111.2 328.3h0M106.9 299.7h0M95.2 332.1h0M155.7 296.9h0M98.4 305h0M101.9 331.3h0M90.9 318.3h0M93.4 303.9h0M133.7 305.2h0M144.1 317.6h0M136 322.5h0M120.3 307.6h0M110.6 319.5h0M101.1 325.2h0M91.3 311.9h0M116.7 317.4h0M104.9 315.7h0M109.6 308.8h0M117.7 307.5h0M86.7 321.2h0M112.3 314.7h0M97 311.5h0M107.5 310.6h0M134 322.1h0M90 322.1h0M94 328.8h0M87.9 333.9h0M128.2 317.4h0M95.2 344.5h0M96 308.7h0M93.7 328.1h0M86.5 316.8h0M107.1 337h0M103.8 335.9h0M82.9 298.8h0M138.8 297h0M106.2 323.5h0M108.5 324.4h0M145.2 315.1h0M120.5 311.6h0M96 323.5h0M94.1 326.2h0M89.6 318.8h0M119.9 324.4h0M112.5 357.6h0M143.4 270.6h0M170.2 274.9h0M161.6 281h0" stroke="#5572b8" stroke-width="2.1" stroke-linecap="round"/>
<line x1="82.4" y1="321.4" x2="171.1" y2="300.6" stroke="#4aa55a" stroke-width="1.1" />
<path d="M77.6 266.4C77.5 267.8 77.3 271.9 77 275C76.7 278.1 76.1 282 75.5 285C74.9 288 74.8 290.2 73.5 293C72.2 295.8 70.1 299.5 68 302C65.9 304.5 63.1 306.2 60.8 308.2C58.5 310.2 55.7 312.3 54 314C52.3 315.7 51 316.7 50.7 318.4C50.4 320.1 51.4 322.1 52 324C52.6 325.9 53 328.2 54.5 329.8C56 331.4 58.7 332.4 61 333.5C63.3 334.6 66.5 335.2 68.5 336.1C70.5 337 71.8 337.9 73 339C74.2 340.1 75.2 341.3 76 342.5C76.8 343.7 77.2 344.4 77.5 346C77.8 347.6 78 351 78.1 352" fill="none" stroke="#e5733f" stroke-width="1.15"/>
<path d="M82.4 378C83 379.5 84.7 384.8 86 387C87.3 389.2 88.7 390.2 90 391C91.3 391.8 92.3 392.2 93.8 392C95.3 391.8 96.9 391.7 99 390C101.1 388.3 104.2 384 106.5 381.8C108.8 379.6 110.5 378.3 113 377C115.5 375.7 118.9 374.9 121.7 374.2C124.5 373.4 127 373.4 130 372.5C132.9 371.6 136.4 370.2 139.4 369C142.4 367.8 145 366.5 148 365.5C151 364.5 154.4 363.6 157.2 363.2C160 362.8 163.7 362.9 165 362.9" fill="none" stroke="#e5733f" stroke-width="1.15"/>
<path d="M46.1 266.4H175.3V395H78.4V266.4M46.1 266.4V362.9H175.3" fill="none" stroke="#222" stroke-width="1.3"/>
<path d="M46.1 275.3h-2.7M46.1 288.7h-2.7M46.1 302.1h-2.7M46.1 315.5h-2.7M46.1 328.9h-2.7M46.1 342.3h-2.7M46.1 355.7h-2.7M82.4 395v2.4M100 395v2.4M117.7 395v2.4M135.3 395v2.4M153 395v2.4M170.6 395v2.4" stroke="#2a2a2a" stroke-width="1"/>
<text x="41.3" y="279" font-size="10.3" text-anchor="end" fill="#222" >0.6</text>
<text x="41.3" y="359.4" font-size="10.3" text-anchor="end" fill="#222" >0.3</text>
<text x="82.4" y="408.3" font-size="10.3" text-anchor="middle" fill="#222" >0</text>
<text x="170.6" y="408.3" font-size="10.3" text-anchor="middle" fill="#222" >1</text>
<text x="127.1" y="425.5" font-size="11.9" text-anchor="middle" fill="#222" >Δinteraction (abs)</text>
<text x="19" y="314.5" font-size="12" text-anchor="middle" fill="#222" transform="rotate(-90 19 314.5)">vibration score</text>
<path d="M273.3 291.4h0M266.5 323.2h0M278.8 299.3h0M275.5 337.1h0M275.7 309.5h0M268.5 302.4h0M265.8 321.1h0M320.7 319.3h0M287.8 311.5h0M264.6 296.2h0M269.9 314.7h0M264.6 328.6h0M272 303.3h0M262.9 302.2h0M288.5 317.9h0M266.7 312.6h0M312.4 285.2h0M308.9 295.1h0M260.2 303.1h0M265.8 314.8h0M264.4 312.9h0M294 318.1h0M259.5 321.6h0M328.2 275.3h0M316.3 303h0M274.2 320.1h0M311.9 304.8h0M267.7 323.5h0M268 303.7h0M260.1 300.7h0M264.3 323.2h0M271.2 296.4h0M273.1 282.2h0M274.1 321.8h0M288.5 296.2h0M280.4 303.5h0M272.9 291.8h0M274.4 292.3h0M268.8 295.9h0M303.8 296.7h0M293 308.7h0M308.3 309.4h0M265.6 296.4h0M267.9 297.3h0M312.3 307.5h0M266.1 310.1h0M270.5 290.7h0M290 327.9h0M259.5 302h0M267.6 313.7h0M266.1 313.5h0M286.2 323.4h0M303.4 295.6h0M293 316.6h0M279.3 298.3h0M263.9 325.7h0M289 295.5h0M266.6 306.4h0M265.5 334.9h0M327.1 299.1h0M313.5 300h0M275 336.7h0M293.7 308.3h0M281.9 296.7h0M266.6 320.1h0M274.9 294h0M271.2 323.8h0M264.2 326.6h0M262.4 304.8h0M309.3 291.9h0M290.5 306.9h0M308.8 300.1h0M271.5 297.4h0M293.6 311h0M286.2 280.3h0M329 289.2h0M263.8 306.6h0M280.6 303.8h0M275.2 312.5h0M306.4 285.2h0M263.9 319h0M282.6 304.5h0M335.4 284.8h0M281.3 290h0M260.4 297.7h0M270.4 314.4h0M287.2 293.5h0M307.8 301h0M291.8 317.6h0M264.9 324.3h0M271.2 329.2h0M312.3 295.3h0M302.1 288.1h0M290.6 317.4h0M300.4 306h0M284 320.4h0M325.1 295.8h0M330.8 309.1h0M261.9 322.7h0M277.1 317.1h0M307.6 306.5h0M309.1 304.8h0M302.6 304.4h0M265.9 313.9h0M289.6 317.3h0M289.3 298.6h0M260.8 334.1h0M301.5 300.5h0M300.3 314.4h0M284.3 305.2h0M293.2 300.9h0M262.6 337.4h0M264.4 307.6h0M264.8 295.4h0M280.7 298.3h0M288.9 301.1h0M282.3 333.8h0M268.1 313.1h0M290.9 316.3h0M259.7 300.2h0M306.3 304.9h0M267.7 319h0M269.1 332.8h0M289.1 296.3h0M288 312.9h0M269 314.1h0M267.4 297.9h0M293.9 303.5h0M313.2 295.4h0M300.6 273h0M276.4 315.8h0M269.1 317h0M260.6 307h0M270.3 293.2h0M314.6 316.9h0M294.5 307h0M313.6 311.3h0M281.7 324.6h0M263.1 305.3h0M285.4 316.2h0M261.5 309.2h0M321.7 295.7h0M303.6 300.2h0M267 310.8h0M319.7 311h0M302.8 303h0M260.1 310.7h0M280.5 303.8h0M321.7 300.8h0M287.2 294.4h0M259.8 306.4h0M260.6 311.8h0M269.8 303h0M312.5 297.4h0M271.9 301.9h0M269.4 335.2h0M284.6 322.8h0M263.2 317.4h0M277.1 307.5h0M297.2 330.3h0M298.8 306.5h0M262.1 311h0M272.6 313.2h0M281.5 310.9h0M308.4 317.6h0M315.8 297.8h0M275.7 334.8h0M301.7 290.7h0M290.2 313.4h0M293.1 291.5h0M286.8 328.4h0M260.8 308.3h0M303.1 300.7h0M262.8 323.5h0M262.3 327.7h0M302.6 287.6h0M276.9 303.9h0M264.3 294.1h0M285.7 307.7h0M277 306.9h0M263.9 307.3h0M289 296.5h0M287.4 300.7h0M259.4 303.5h0M286.7 312.3h0M326.5 314.2h0M261.8 288h0M260 311.2h0M304.1 295.9h0M290.8 358.3h0M260 270.7h0M347.3 285h0M281 274.5h0M310 275.3h0M330 276.6h0" stroke="#5572b8" stroke-width="2.1" stroke-linecap="round"/>
<line x1="259.4" y1="312.8" x2="347.8" y2="289.7" stroke="#4aa55a" stroke-width="1.1" />
<path d="M251.8 270.7C251.6 271.8 251.1 275 250.5 277C249.9 279 249.8 280.7 248.5 282.9C247.2 285.1 245.1 287.9 243 290C240.9 292.1 238.1 293.8 235.8 295.6C233.5 297.4 230.8 298.9 229 301C227.2 303.1 225.4 305.7 225.1 308.2C224.8 310.7 225.7 313.2 227 316C228.3 318.8 231 322.2 233.2 324.7C235.4 327.2 237.9 329.1 240 331C242.1 332.9 244.2 334.7 245.9 336.1C247.6 337.5 248.9 338.2 250 339.5C251.1 340.8 251.6 341.9 252.3 343.7C253 345.4 253.7 347.9 254 350C254.3 352.1 254.2 355.3 254.3 356.4" fill="none" stroke="#e5733f" stroke-width="1.15"/>
<path d="M259.4 378C260.2 379.5 262 384.7 264 387C266 389.3 269.3 391.7 271.3 392C273.3 392.3 274.3 390.3 276 389C277.7 387.7 279.4 385.8 281.4 384.3C283.4 382.8 285.9 381.3 288 380C290.1 378.7 291.8 377.7 294.1 376.7C296.4 375.7 299.5 374.9 302 374C304.5 373.1 307 372.4 309.3 371.6C311.6 370.8 313.9 369.8 316 369C318.1 368.2 319.7 367.4 322 366.6C324.3 365.8 327.5 364.6 330 364C332.5 363.4 336 363.1 337.2 362.9" fill="none" stroke="#e5733f" stroke-width="1.15"/>
<path d="M223 266.4H352.4V395H255V266.4M223 266.4V362.9H352.4" fill="none" stroke="#222" stroke-width="1.3"/>
<path d="M223 269h-2.7M223 289.1h-2.7M223 309.2h-2.7M223 329.2h-2.7M223 349.3h-2.7M259.4 395v2.4M277 395v2.4M294.6 395v2.4M312.1 395v2.4M329.7 395v2.4M347.3 395v2.4" stroke="#2a2a2a" stroke-width="1"/>
<text x="218.2" y="272.7" font-size="10.3" text-anchor="end" fill="#222" >0.8</text>
<text x="218.2" y="353" font-size="10.3" text-anchor="end" fill="#222" >0.4</text>
<text x="259.4" y="408.3" font-size="10.3" text-anchor="middle" fill="#222" >0</text>
<text x="347.3" y="408.3" font-size="10.3" text-anchor="middle" fill="#222" >1</text>
<text x="303.9" y="425.5" font-size="11.9" text-anchor="middle" fill="#222" >Δinteraction (abs)</text>
<text x="196" y="314.5" font-size="12" text-anchor="middle" fill="#222" transform="rotate(-90 196 314.5)">switch score</text>
<path d="M445.2 344.2h0M453.7 334.1h0M481.1 329h0M468.4 327.7h0M449 345.2h0M437.9 357.3h0M439.1 343h0M443 351.3h0M477.1 326.5h0M464.9 340.1h0M441.4 332.6h0M439 354.9h0M454.4 350.2h0M458.7 323.9h0M456.4 328.2h0M450.6 333.6h0M464.8 345.6h0M462.4 334.8h0M449.8 340.4h0M458 345.3h0M447.9 343.3h0M445.3 344.9h0M465.5 334.8h0M436.7 354.7h0M459.8 332.6h0M458.5 353.1h0M453.1 338.1h0M448.8 335.6h0M437.4 350.6h0M451.8 344.9h0M451.2 325.2h0M442.3 345.7h0M436.9 334.3h0M451.4 334.5h0M465.5 343.9h0M448.2 335.2h0M456.6 342.8h0M436.2 342.5h0M449.3 357.8h0M445 342.3h0M470 326.5h0M461.5 329.4h0M446.1 335.4h0M437.8 346.2h0M459.9 338.9h0M440.7 352.2h0M438.9 346.2h0M486.2 332.7h0M486 334.3h0M444.3 342.2h0M448.6 344.5h0M438.2 351.4h0M459.4 345.5h0M452.2 336.6h0M442.9 329.2h0M442.4 337.1h0M439.2 347h0M452.6 320.5h0M450.7 337.6h0M446.1 346.4h0M445.4 338.3h0M461.7 329.2h0M450.7 355.8h0M448.2 353.5h0M466.1 335h0M437.4 356h0M449.4 352.4h0M443.1 334.3h0M456.8 332h0M460.4 336.6h0M456.5 330.8h0M440.5 344.9h0M468.6 325.6h0M455.5 340h0M454.2 349.3h0M482.5 334.3h0M441.6 341.8h0M459.2 351.7h0M447.4 335h0M448.9 349.8h0M436.1 343h0M443.9 345h0M464.4 337.8h0M453.5 341.6h0M460.6 338.2h0M457.4 333.1h0M461.2 333.8h0M442.6 347.2h0M448.2 341.1h0M480.1 323.6h0M451.1 335.4h0M439 338.9h0M444.9 342.5h0M475.3 335.9h0M438.7 345.4h0M450.1 336.1h0M438 345h0M455.4 328.8h0M450.2 317.8h0M443.3 342.9h0M446.4 328.9h0M444.5 335.2h0M467 326.8h0M442.2 348.8h0M451 331.2h0M445.9 344.8h0M445.1 338.8h0M463.1 327.6h0M436.5 332.2h0M470.5 339.4h0M453.7 343.5h0M440.8 350.3h0M471.4 350.4h0M442.5 345.7h0M445.7 344.8h0M463 336.7h0M466.4 337.6h0M436.2 342.3h0M442.8 336h0M449.8 357.7h0M470 320.4h0M437.2 346.9h0M468.2 339.8h0M438.1 345.8h0M436.5 337.1h0M448.3 340.1h0M454.8 336.1h0M461.8 329.1h0M470.8 335h0M461 334.8h0M465 332.5h0M447.2 347.6h0M480.8 323.9h0M457.6 342.7h0M455.4 334.6h0M468.2 339.6h0M453.4 340.8h0M441.6 345.4h0M455.6 331.5h0M442.3 336.9h0M473.2 327.6h0M446.7 343.5h0M446.2 348.3h0M459.3 347.4h0M475 330h0M449.6 341.9h0M477 320.3h0M438.4 326.1h0M438.7 337.1h0M476.7 328.2h0M442.4 330.5h0M436.3 330.3h0M447.1 346.2h0M465.5 330.1h0M437.3 330.8h0M455.4 358.5h0M445.7 343.6h0M441.6 340.8h0M437.5 350h0M436.6 338.5h0M453.1 353.1h0M458.6 326h0M461.8 327h0M457.2 337.8h0M453.8 333.6h0M437.8 355.9h0M450.3 327.8h0M440.3 337.7h0M444.9 344.3h0M449.9 345.6h0M441.4 351.5h0M454.5 342.5h0M440.4 339.7h0M465.2 338.1h0M469 342.6h0M438.9 341.4h0M443.8 340.2h0M457.6 334.9h0M448.9 335.9h0M488.3 320.9h0M436.8 340h0M463.1 324.5h0M455.9 342.3h0M482.3 318.8h0M445.7 358.9h0M437.5 358.2h0M440.8 352.4h0M442.6 341.1h0M448.1 336.5h0M460 348h0M454.4 341h0M465.2 341.1h0M453.4 333.9h0M441.2 351.9h0M457.6 332.1h0M449.3 341.8h0M453.5 325.6h0M449.1 335.6h0M444.7 346.3h0M437 340.7h0M457.4 335h0M460.1 344.4h0M444.8 341.6h0M447.4 351.6h0M446.5 322h0M444.7 346.8h0M464.3 340.9h0M445.1 329.5h0M452 329.6h0M446.5 348.8h0M469.3 326.6h0M471.3 329.6h0M459.9 342.8h0M440.9 340.5h0M441.3 347h0M454.1 332.5h0M470.8 337.3h0M443.2 351.4h0M448.8 343.7h0M445.3 324.1h0M463.4 342.3h0M462.6 337.6h0M441.1 335.8h0M440.7 354.7h0M442.8 328.5h0M450.7 355.8h0M457.1 333.6h0M446.2 354.6h0M436.2 344.2h0M461.7 326.6h0M462.3 338h0M441 345.9h0M452.7 344.4h0M439.1 352.4h0M470.7 327.6h0M447.7 345.3h0M441.9 349h0M466.2 333.9h0M462.3 329.6h0M467.4 328h0M449.6 346.9h0M450.3 347.1h0M448.6 334.3h0M447.6 330.4h0M437.8 354.2h0M462.1 324.6h0M448.8 342.3h0M442.4 336.2h0M451.1 326.1h0M452.3 341h0M455.1 337.7h0M457.1 350.4h0M461.8 355.9h0M462.2 335.7h0M444.8 350.5h0M483.7 339.8h0M454.6 335.1h0M453.7 332.6h0M440.8 356.4h0M456.5 335.9h0M441.2 342.9h0M440.4 341h0M448.9 339.9h0M471.9 329.6h0M471.4 340.8h0M443.2 352.8h0M442.2 339.8h0M446.8 330.3h0M438.9 344.2h0M452.4 327.9h0M438.9 338.5h0M443.8 352.4h0M473.8 337.1h0M463.5 328.2h0M477 339.5h0M454.3 321.1h0M454.9 333.6h0M462.2 349.7h0M438.3 350h0M451.2 329.1h0M447 327.9h0M454 346.5h0M451 340h0M438.5 339h0M471.5 338h0M439 339h0M437.8 328.4h0M445.3 348.6h0M449.4 335.5h0M471.1 326.6h0M458.5 327.4h0M455.6 341.2h0M451.1 333.8h0M458.3 343.4h0M468 333.5h0M460 346.7h0M449.4 337.7h0M444 337h0M455.8 323h0M453 330.9h0M463 342.9h0M437.4 334h0M448.1 332.7h0M450 343.4h0M464.9 340.4h0M453.6 334.1h0M458 339.1h0M443.1 329.5h0M450.3 338.1h0M444.5 349.6h0M437.2 357.6h0M445.6 340.5h0M465.7 334.2h0M453.6 343.4h0M463 346.1h0M472.5 338.4h0M480.1 326.2h0M458.1 341.3h0M445.7 349.8h0M437.5 338.3h0M441.3 332.2h0M478.6 336.9h0M454.5 342.4h0M437.9 351.9h0M442 343.6h0M455.8 333.8h0M443.3 339h0M441 334.8h0M455 331.6h0M436.2 340h0M441.7 339.1h0M438.5 353h0M439.3 333.7h0M448.5 340.7h0M443.6 337.7h0M450 352.8h0M448.1 343.4h0M460 334.9h0M467.5 342.5h0M440.5 343.9h0M443.8 338.6h0M439.3 356.2h0M444.5 348.1h0M445.6 356.1h0M450.6 350h0M439.4 350h0M457.7 339.7h0M460.8 328.9h0M454.6 345.2h0M446.7 342.2h0M451.5 345.8h0M449.7 340.8h0M457 333.2h0M440.1 335.3h0M451 346.2h0M443 353.2h0M450.3 338.3h0M439.7 347.3h0M439.3 355h0M436.8 337.7h0M446.4 339h0M504 316.6h0M437.8 353.8h0M471.3 337h0M440.6 339.6h0M457.1 325.3h0M441.2 341.8h0M443.3 350.8h0M439.4 341.3h0M473.5 330.8h0M449 346.3h0M446.9 331.6h0M453.2 340.3h0M458.1 343.4h0M448.8 334.8h0M453.8 333h0M440.7 345.4h0M437.4 343.5h0M439.3 341.9h0M444.7 344h0M451.4 342.2h0M440.5 335.9h0M448.6 335.8h0M450.6 344.3h0M466.9 345.2h0M441.3 354.3h0M441.5 336.3h0M463.3 346h0M456.3 345.3h0M446 341.7h0M443.5 346.6h0M479.7 339.3h0M443.4 357.2h0M455.9 330.6h0M439.3 348.7h0M462.3 336.3h0M460.9 336.1h0M443.6 351.9h0M443.4 349.4h0M440.6 335.2h0M457.8 336.4h0M462.8 339.1h0M442.2 331.6h0M463.1 344.2h0M452.8 339.5h0M457.5 340.1h0M488.6 332.8h0M452.4 354.9h0M447.1 342h0M452.3 337.3h0M500.1 341h0M447.1 337.6h0M439.4 339.6h0M454 328.5h0M447.4 350.4h0M447 343.9h0M440.1 347.5h0M448.4 342.7h0M462.9 336.2h0M455.8 332.9h0M444.6 336.1h0M461.8 341.1h0M466.1 337.4h0M460.1 351.3h0M450 334.7h0M458.3 334.6h0M439.3 335.6h0M440.5 354.7h0M437.6 334.3h0M439.6 350.1h0M439.6 355.5h0M443.4 341.6h0M451.9 346.2h0M488.4 312.9h0M441.5 340.1h0M481 318.8h0M444.3 343.9h0M451.2 340.6h0M441.1 337.1h0M441.6 350.9h0M443.4 345.6h0M463.6 332.9h0M440 339.5h0M455.7 327.4h0M448.7 339.8h0M443.9 359.8h0M466.8 330.5h0M453.6 343.3h0M445.6 337.7h0M451.3 347.1h0M458 342.2h0M449.8 339.1h0M440.5 329.1h0M443.3 338.6h0M444.1 352.3h0M468.9 333.7h0M450 346h0M476.2 329.7h0M446.9 326.7h0M474.7 337.5h0M444.6 345h0M456.3 334.5h0M439.2 340.9h0M484.8 333.6h0M440.9 338.7h0M450.4 343.6h0M446.2 340.3h0M482.1 312.9h0M441.7 342.1h0M442.3 338.2h0M443.1 336.1h0M442.4 346.3h0M438.4 340.2h0M479 337.2h0M461.8 346.5h0M440 344.9h0M450.5 328.2h0M440.2 337.8h0M439.2 351.4h0M446.5 339.8h0M437.1 338h0M461.2 337.1h0M440.3 347.7h0M450.5 342.9h0M472.6 339.9h0M449.2 334.5h0M441.1 341.2h0M458.1 336.7h0M455 339.4h0M457.5 321.9h0M455.2 337.6h0M438.3 333.3h0M440.9 354.8h0M476.4 346.2h0M462.2 351.2h0M487.1 337.2h0M450.6 336.9h0M475.1 341.7h0M448.6 339.7h0M473.7 339.3h0M472.9 327.3h0M436.2 340.1h0M467.2 340h0M448.9 355.7h0M452.2 340.2h0M467 358.6h0M484.9 320.9h0M458.5 338.4h0M455.3 331.8h0M444.3 341.5h0M443.9 338.4h0M453.4 339.5h0M449.4 349h0M447.1 349.4h0M451.4 342.7h0M450.1 341h0M437.9 345.3h0M463 338.4h0M480.9 337h0M446.8 341.9h0M437.4 348.6h0M443.2 332.3h0M471.1 341.5h0M450.6 355h0M446.4 343.5h0M436.7 333.2h0M447 352.8h0M453.4 337.4h0M437.2 320.3h0M436.4 343h0M436.4 349.7h0M486.9 333.8h0M444.8 352.5h0M456.9 344.1h0M480.3 333.6h0M439 328.1h0M436.9 335.6h0M445.7 343.7h0M454.9 345.1h0M453.6 331.7h0M443.1 338h0M452.4 344.2h0M438.3 328.8h0M459.3 322.6h0M436.6 342.9h0M474.6 336.2h0M460.9 334.1h0M438.1 325.7h0M457.8 339h0M487 319.9h0M452.5 345.6h0M475 333.2h0M445.3 344.5h0M465.2 342h0M446.2 337.8h0M443.5 349.6h0M471.6 345.1h0M455.6 342.7h0M477.8 344.1h0M437.3 339.5h0M442.6 350.5h0M443.8 344.9h0M475.8 325.8h0M444 342.1h0M467.1 332h0M471.5 330.6h0M457.8 339.6h0M446.6 350.6h0M479.7 330.2h0M444.2 343.7h0M439.6 332h0M456.6 340.1h0M445.9 351.6h0M447.1 348.4h0M449.3 345.1h0M445.6 338h0M469.3 327.8h0M473.8 333.6h0M442.6 332.2h0M447.4 331.7h0M442.4 350.8h0M465 329.4h0M461.2 352.5h0M445.4 330.7h0M445.7 345.7h0M437.4 335h0M456.9 340.5h0M444.9 334h0M445.2 342.7h0M447.3 340.5h0M456.2 335.6h0M440.3 347.9h0M453.6 352.3h0M455.8 334.6h0M444.5 349.7h0M436.4 345.5h0M460.9 337.7h0M450.3 323.3h0M449.2 335.7h0M438.3 329.6h0M451.2 338.2h0M453.3 338.3h0M447.1 344.7h0M457.6 353.5h0M441.6 353.9h0M441.8 339.7h0M438.4 348.2h0M450.1 354.6h0M444.3 344h0M439.1 345.8h0M464.5 341.1h0M463.9 324.9h0M440.9 337h0M466 339.3h0M459.9 342.7h0M443.2 335.5h0M452.5 337.7h0M441.5 342.4h0M480.9 331.2h0M440.6 349.3h0M458.3 339.6h0M460.3 339.5h0M443.7 331.3h0M441.7 334.8h0M491.6 332.1h0M454.7 326.8h0M451.3 342.9h0M450.9 335.4h0M481.9 325.5h0M467.5 341.4h0M466.2 331h0M453.5 333.1h0M449.9 335.5h0M442.7 343.5h0M443.4 325.6h0M460.8 337.8h0M442.8 341h0M439.5 351.7h0M451.3 337.6h0M444.2 322.5h0M443.6 353.5h0M465.2 327.9h0M456.7 338.6h0M439.4 332.8h0M464.2 328.1h0M440.2 339.6h0M447.4 348.7h0M448 348.4h0M458.8 333.6h0M442.1 347.2h0M438.7 341.1h0M450.9 341.6h0M448.1 342.7h0M457.7 343.8h0M454.7 334.6h0M486 329.8h0M443 344.7h0M447.4 342.4h0M443.6 336.2h0M438.1 358.2h0M451.6 336.7h0M459.3 344.5h0M438.3 345.8h0M439 353.9h0M456.7 321.3h0M475.9 350.4h0M436.7 342.9h0M443.7 332.6h0M443.4 343.8h0M462.4 355.8h0M466.9 340.3h0M461.5 327.7h0M441.4 339.5h0M456.1 350.1h0M458.4 327.1h0M467.1 334.7h0M440.5 341.1h0M475.4 331.4h0M447.5 352.3h0M452.3 334.7h0M451 334h0M474.5 342.2h0M463.7 342.1h0M479.5 318.6h0M442.1 348.3h0M449.4 346.3h0M446.5 336.8h0M469.7 337.2h0M441.4 345.5h0M458.7 334.5h0M455.1 334.7h0M461.9 332.1h0M462.6 335.2h0M463.4 326.3h0M445.6 341.8h0M440.3 331.4h0M439.2 344.5h0M448.9 340.5h0M464.6 328.4h0M448.3 348.3h0M445.5 357.9h0M468.1 346.6h0M455.5 328.2h0M445.5 352.5h0M438.7 345.8h0M457.8 338.3h0M445.6 337.2h0M476.7 333.4h0M445.7 353.4h0M438.5 348.5h0M452.6 336.7h0M453.9 334.3h0M447.7 338.1h0M466.1 341.1h0M445.4 357.3h0M458 330h0M451.4 340.4h0M445.2 339.1h0M441.6 337.1h0M451.1 343.8h0M494.5 332.9h0M450.5 329.2h0M449.5 332.6h0M452.7 349.8h0M448 344h0M455.8 343.5h0M446 337.9h0M452.8 337h0M448.3 345h0M440 339.6h0M454.7 330.5h0M462.4 337.4h0M461.3 345h0M444.5 334h0M451.4 349h0M455.1 345.1h0M455.5 332.3h0M442.4 343h0M452.4 339.8h0M462.8 342.4h0M478.4 338.3h0M458.3 328h0M440.1 332.7h0M457.7 347.1h0M443.1 343.7h0M470.8 338.4h0M450.6 343.4h0M450 353.3h0M437.5 334.5h0M445.2 351h0M453.7 333.2h0M455.4 345.3h0M441.4 354.1h0M445.3 330.9h0M451.8 343.6h0M444.7 340.1h0M457.9 336.3h0M471.4 335.2h0M446.9 333.2h0M473 326.6h0M456.4 344.4h0M447.3 348.4h0M458.3 333.9h0M461 326h0M448.7 350.1h0M459.7 341.1h0M458.1 330.3h0M444.4 337.7h0M440.6 345.4h0M443.1 335h0M447.1 354.6h0M469.4 336.5h0M466.1 339.5h0M446.5 333.5h0M444 335.2h0M455.1 333h0M467.5 338.2h0M461.3 335.5h0M446.2 339.6h0M442.4 345.5h0M457.1 340.7h0M445.9 354h0M465.1 335h0M442.2 334.8h0M446.9 341.6h0M461.1 349.6h0M444.7 337.9h0M436.9 344.9h0M447.4 338.7h0M464.9 340h0M457.8 340.8h0M445 335.7h0M452.4 338.3h0M442.7 350.5h0M455.8 348.1h0M455.9 346.7h0M440.2 350.5h0M454.8 336.8h0M476.1 330.7h0M445.8 349.5h0M453.8 330.3h0M448.2 340.9h0M481.4 317.1h0M459.2 335.2h0M456.7 333.3h0M438 334.5h0M438.2 348.8h0M456.3 333.2h0M445.3 339.2h0M440.2 341.5h0M455 333.5h0M436.9 356h0M484.7 327.2h0M448.6 342.8h0M457.7 328.2h0M461.6 333.8h0M436.9 341.9h0M451.4 338h0M473.5 329.6h0M458.7 339.6h0M440.8 356h0M440.4 342.5h0M486 329.7h0M437 341.3h0M459.9 351.1h0M449.5 345.5h0M455.4 345h0M450.8 334.9h0M449.1 339.9h0M456.4 340.8h0M456 340.2h0M456.2 332.3h0M445 336h0M456.1 343.3h0M459.2 340.8h0M440.1 326.7h0M441.2 344.1h0M465.6 346.8h0M449.4 335.9h0M457 340.9h0M444.8 330.6h0M449.5 347.7h0M452.2 331.3h0M454.4 329.6h0M454.4 337.1h0M450.7 359.7h0M437.2 339.5h0M455.2 329.3h0M448.3 345.1h0M450 342.7h0M451.5 353.8h0M465.1 326.5h0M457.5 326h0M484.3 328.8h0M463 340.3h0M454.9 342.4h0M438.7 352.8h0M447.5 329.6h0M438.8 337.4h0M449.1 340.1h0M438.9 350.7h0M453.9 343.6h0M437 341.1h0M460.9 329.6h0M485.8 338h0M451.2 348.2h0M454.6 338.2h0M444.2 355.5h0M466.6 326.5h0M449.6 336.6h0M449.8 335.5h0M452.5 336.5h0M444 335.5h0M450.8 336.3h0M461 337.4h0M457.9 335.1h0M437.3 349.7h0M440.1 343h0M457.1 338.9h0M447.8 353.3h0M455.7 341.8h0M440.9 344.7h0M436.2 344.6h0M473.3 334.9h0M460 342.7h0M449.8 334.5h0M462 346.7h0M439.9 356.3h0M450.2 350.1h0M443.7 338.7h0M443 330h0M448.4 337.8h0M454.2 341h0M451 347.3h0M440.4 342.1h0M442.2 340.6h0M446.4 354.1h0M442.1 337.7h0M451.5 349h0M467.9 343.2h0M440.9 332.7h0M436.3 346.9h0M463.5 332.7h0M455.1 331.9h0M437.7 329.4h0M446 329.4h0M455.9 342.6h0M448 338.3h0M478 335.3h0M457.8 330.2h0M471.3 332.4h0M448.7 339.1h0M451.5 328.1h0M454.3 326.3h0M439.7 347.3h0M441 344.6h0M469.5 328h0M469 334.8h0M442.7 348.2h0M452.4 354.9h0M447.2 334.5h0M449.3 346h0M454.4 356.7h0M474.6 334.6h0M437.9 356.1h0M477.2 312.5h0M439.6 355.4h0M443.5 342.6h0M445.5 327.1h0M449.8 347.2h0M482.9 340.1h0M467.6 345.7h0M447.6 351.2h0M464.9 336.5h0M451.1 334.6h0M449 337.5h0M448.9 340.9h0M466.7 339.5h0M484.3 327.5h0M484.1 331.8h0M462.7 344.4h0M465 339.3h0M453.1 358.5h0M442.7 333.7h0M452.7 335.6h0M471 324.5h0M456.9 329.6h0M441.2 347.7h0M454.6 331.6h0M456.8 330.6h0M442.9 340.7h0M439.1 350.4h0M461 335h0M457.7 335.9h0M442.4 350.4h0M464.2 340.7h0M437 348.2h0M450.5 348.4h0M448.3 333.2h0M437.5 346.1h0M449.3 336h0M454 348h0M461.9 344.1h0M454.3 331.3h0M436.9 355.3h0M452 330.9h0M446.1 351.4h0M445.5 343.8h0M455.5 332.3h0M446.8 332.8h0M453.5 337.5h0M475.4 333.6h0M476.3 327.8h0M478.2 337.6h0M440 332.4h0M443.3 342.7h0M436.6 344.6h0M463.2 322.1h0M453.6 342.4h0M451.6 330.2h0M472.4 314.5h0M461.5 332.7h0M441.8 341.3h0M440.4 350.9h0M458.1 334.7h0M443.3 354.6h0M441.3 354.9h0M444.7 351.2h0M472.5 345.3h0M452.1 343.1h0M457.4 334.3h0M446.6 347.1h0M449.9 348.7h0M449.6 342.9h0M468.4 333.8h0M476.5 320.8h0M487.4 335.9h0M437.7 347.1h0M463.5 326.6h0M444.6 343.2h0M442.9 348.7h0M436.4 343.8h0M474 340.5h0M445.9 348.1h0M447.1 329.7h0M438.7 341.6h0M439.7 347.7h0M454 347.2h0M456.5 350.5h0M460.2 322.5h0M444.1 342h0M445.6 347.9h0M453.9 349.7h0M444.7 356h0M459.2 330.8h0M457.8 335.7h0M469.9 326.8h0M440.8 350.1h0M462.4 326.7h0M442.6 352.5h0M442.8 350.5h0M470.3 339.2h0M478.6 315.3h0M465.8 331h0M441.1 349.4h0M462.5 325.9h0M440.7 341.5h0M441.4 342.4h0M447.2 348.9h0M475.1 336.2h0M441.7 345.4h0M451.5 336.9h0M459 338.4h0M446.2 340.8h0M438.4 350h0M441 341.9h0M463.1 345.6h0M445.1 328.5h0M473.5 344.1h0M455.7 337.9h0M438.3 353.3h0M441.2 344h0M447.2 348.6h0M470.6 347.2h0M483.3 327.1h0M454.6 340.2h0M450.7 339.3h0M457.1 340.6h0M447.4 328.5h0M438.1 342.8h0M449.3 339h0M447.7 335.1h0M436.5 343h0M453.4 327.4h0M476.6 344.8h0M452.7 343.7h0M462.1 352.7h0M470.9 328h0M450.5 331.3h0M461.9 339.8h0M441.7 329.7h0M437.9 346.1h0M445.1 336.5h0M444.5 339.7h0M461.9 339.6h0M470 335.6h0M440.9 358.5h0M478.7 338h0M481.1 321.7h0M436.5 352.6h0M449.6 330.1h0M470 336h0M458.1 328.5h0M437.7 337.6h0M439.6 354.4h0M446.5 337.3h0M439.1 338.7h0M448.3 336.7h0M443.9 340h0M437 356.1h0M448.5 331.7h0M437.7 334.2h0M438.7 348.7h0M438.7 331h0M457.8 335.7h0M437.9 353.4h0M438.6 344h0M461.8 333.6h0M436.7 338.7h0M450 333.4h0M445.5 337.3h0M436.4 345.7h0M440.7 353.4h0M439.3 351.6h0M446.8 337.1h0M436.9 338.5h0M473.8 339.8h0M477.6 318.4h0M437.3 340.7h0M444.2 339.8h0M455.6 330.2h0M461.5 329.5h0M476.1 336.3h0M443 329.3h0M474.7 326.5h0M446 336.6h0M437.5 344.9h0M444.9 331h0M447.9 350.1h0M458 336h0M444.2 340.2h0M438.8 340.9h0M439.4 338.2h0M461.2 329.6h0M451.2 349.6h0M454.7 341h0M447.9 340.3h0M453.9 347.6h0M447.7 335.5h0M443.1 347.6h0M453.8 339.7h0M441 335.9h0M444 348.4h0M454.6 327.2h0M436.3 349.7h0M474.6 326.6h0M437.5 347.4h0M495.3 339.1h0M454.7 343.9h0M445.3 337h0M445.4 341.6h0M488.5 326.9h0M488.1 320.5h0M439.4 334.5h0M471.7 334.8h0M461.7 341.6h0M471.4 320.3h0M440.8 342.5h0M449.5 344.7h0M483.2 332.1h0M438.7 335.5h0M442.5 350.9h0M448.8 331h0M437.8 349.1h0M457.3 351.3h0M453.7 323h0M449 342.8h0M447.2 343.8h0M454.8 340.9h0M456.5 332.4h0M436.5 341.7h0M461.3 326h0M461.8 338.2h0M461.1 341.6h0M449.3 335.2h0M438 336.3h0M467.5 331.7h0M480.8 331.7h0M436.6 344.6h0M442.3 341.7h0M449.1 341.2h0M476.2 322.5h0M440.3 321.1h0M447.3 346.1h0M460.2 349h0M449.6 329.1h0M449.4 335.2h0M450.2 342.7h0M440.1 350.8h0M437.1 349.2h0M441.8 352.9h0M456.6 338.1h0M460.2 340.8h0M443 345.6h0M482 327.9h0M450.1 350h0M438.7 348.5h0M452.5 347.5h0M440.6 339.8h0M461.8 345.3h0M453.7 330.8h0M474 336.8h0M442.5 321.4h0M437.9 335.6h0M454.7 344.9h0M454.5 335.4h0M484 332.2h0M436.6 331h0M440.8 355.3h0M446.3 346.1h0M453.2 339.2h0M437.2 347.2h0M444.4 344.5h0M442.1 353.9h0M461.7 338.8h0M454.7 327.2h0M450.3 338.2h0M444.4 352.2h0M465.6 340.5h0M437.1 340.5h0M452.1 344.6h0M460.6 338.3h0M454.5 343.9h0M447.4 328.3h0M439.5 336h0M438.5 348.9h0M454.4 337.3h0M444.9 344.6h0M455.1 354.6h0M445 339.2h0M472.7 335.9h0M441.5 338.2h0M439.9 338.1h0M440.5 342.4h0M449.2 328.9h0M483.6 314.1h0M470.9 345.4h0M466.9 334.8h0M447.4 350.1h0M446.1 342.4h0M476.8 334h0M462.3 342.3h0M437.8 349.5h0M475.9 323.5h0M453.8 348.9h0M436.7 336.2h0M467 337.2h0M451.6 340.5h0M440.4 356.4h0M440 340.3h0M448.2 345.7h0M453.2 339.8h0M449.3 343.9h0M445.2 334.8h0M484.7 323.3h0M437.8 346.4h0M474.8 320.9h0M448.9 333.9h0M471 339.6h0M458.1 333.1h0M437.2 336.8h0M441.7 333.8h0M448 342.1h0M482.6 328.3h0M452.6 340.8h0M455.7 337.2h0M447.7 355.8h0M443.5 338.6h0M445 326h0M436.5 345h0M465.6 336h0M447.5 342.3h0M442.5 329.6h0M459.3 346.8h0M452.8 339.3h0M444.7 341.5h0M442.2 329.8h0M468.7 338.9h0M445.6 341h0M437.7 354.5h0M451.9 336.5h0M442.4 332.6h0M455.5 339.8h0M438.1 336.3h0M440.9 346.2h0M474.1 325h0M443.8 341h0M448.2 339h0M439.2 343h0M453.8 335.2h0M480.8 325.3h0M449 340.1h0M458.8 333.2h0M439.5 344.5h0M436.3 342h0M454.4 321.2h0M457.8 337.7h0M440 354.2h0M458.2 340.5h0M448.2 345.6h0M452.7 343.2h0M439.4 339.5h0M469 324.4h0M438.2 350.1h0M448.1 349.2h0M438.8 347.9h0M444.7 345.2h0M452.3 342.8h0M462 336.8h0M447.9 343.1h0M457.6 338.3h0M455.2 341.5h0M444.6 334.3h0M458.4 333h0M442.1 347h0M464.1 333.7h0M445.1 322.5h0M444.5 342.9h0M449.1 322.5h0M437 359.1h0M447.6 346.7h0M463 342h0M440.9 337.6h0M437.1 335h0M437.5 342.1h0M443.7 342.3h0M463.5 330.5h0M444 343.3h0M449.5 345.9h0M459.2 342.5h0M462.5 328.7h0M442.4 325.4h0M468.4 335.3h0M447.2 335.9h0M447.5 344.6h0M436.4 357.1h0M464.9 349.1h0M461.4 339.4h0M448.7 349.5h0M447.7 354h0M460.6 337.8h0M437.5 346h0M455.2 345.6h0M448.1 340.6h0M462.2 333.1h0M456.7 332.7h0M450.6 340.3h0M455.1 334.1h0M458.4 344.4h0M460.9 334.8h0M441.2 354.4h0M455.3 348.5h0M438.3 334h0M454.3 347.7h0M463.1 333.7h0M442 353.4h0M445.2 345.8h0M443.5 341.9h0M473.4 339.2h0M450.4 336h0M456.8 341.2h0M443 345.5h0M437.9 342.7h0M451 343.3h0M443.3 334.6h0M465.1 340.7h0M453.9 330h0M453.1 344.5h0M440.3 346.9h0M449.1 346.3h0M444.1 337.8h0M468.2 333.7h0M469.1 336.4h0M436.4 338.5h0M436.9 355.4h0M437.7 340.4h0M439.6 351.3h0M442.4 335.3h0M454.7 341.7h0M444.7 339.2h0M438.5 351.1h0M436.1 342.2h0M438.1 337.2h0M439.3 347.2h0M454.6 330.1h0M436.3 337h0M439.3 349.6h0M437.1 329.7h0M454.7 345.3h0M442.4 339.7h0M455.6 332h0M439.7 345.5h0M449.3 345.8h0M455.8 334.6h0M440.5 342h0M445.8 348.1h0M468.8 341.4h0M467.4 335.5h0M436.7 338.5h0M438.1 336.7h0M455.9 334.5h0M437.4 349.6h0M447.3 346h0M476.8 335.7h0M439.5 284h0M472 297.5h0M488.5 299.8h0M524.4 270.7h0M462 313h0M478 316h0" stroke="#5572b8" stroke-width="2" stroke-linecap="round"/>
<line x1="436.1" y1="345" x2="524.4" y2="320.4" stroke="#4aa55a" stroke-width="1.1" />
<path d="M431.8 314C431.8 314.5 432.1 315.2 431.6 317C431.1 318.8 430.4 322.4 429 325C427.6 327.6 426.3 330.1 423.5 332.3C420.7 334.5 415.6 336.3 412 338C408.4 339.7 402.2 341 401.9 342.5C401.6 344 406.8 345.5 410 347C413.2 348.5 418.1 350 420.9 351.3C423.7 352.6 425.3 353.9 427 355C428.7 356.1 430.3 356.5 431.1 357.7C431.9 358.9 431.7 361.3 431.8 362" fill="none" stroke="#e5733f" stroke-width="1.15"/>
<path d="M436.1 378C436.6 379.7 437.9 385.7 439 388C440.1 390.3 441.3 391.7 442.5 392C443.7 392.3 444.7 391.1 446 390C447.3 388.9 448.6 386.6 450.1 385.6C451.6 384.7 453.7 384.9 455.2 384.3C456.7 383.7 457.5 383.1 459 382C460.5 380.9 462.3 379.7 464 378C465.7 376.3 467.3 373.7 469 372C470.7 370.3 472 369.1 474.2 367.8C476.4 366.6 479.1 365.3 482 364.5C484.9 363.7 490.2 363.2 491.9 362.9" fill="none" stroke="#e5733f" stroke-width="1.15"/>
<path d="M400.4 266.4H529.4V395H432V266.4M400.4 266.4V362.9H529.4" fill="none" stroke="#222" stroke-width="1.3"/>
<path d="M400.4 275.3h-2.7M400.4 286.9h-2.7M400.4 298.5h-2.7M400.4 310.2h-2.7M400.4 321.8h-2.7M400.4 333.4h-2.7M400.4 345h-2.7M400.4 356.6h-2.7M436.1 395v2.4M453.8 395v2.4M471.4 395v2.4M489.1 395v2.4M506.7 395v2.4M524.4 395v2.4" stroke="#2a2a2a" stroke-width="1"/>
<text x="395.6" y="279" font-size="10.3" text-anchor="end" fill="#222" >0.6</text>
<text x="395.6" y="348.7" font-size="10.3" text-anchor="end" fill="#222" >0.3</text>
<text x="436.1" y="408.3" font-size="10.3" text-anchor="middle" fill="#222" >0</text>
<text x="524.4" y="408.3" font-size="10.3" text-anchor="middle" fill="#222" >1</text>
<text x="480.9" y="425.5" font-size="11.9" text-anchor="middle" fill="#222" >Δinteraction (abs)</text>
<text x="374" y="314.5" font-size="12" text-anchor="middle" fill="#222" transform="rotate(-90 374 314.5)">vibration score</text>
<path d="M636.7 316.7h0M619.9 327.9h0M621.2 318.1h0M621.3 327.1h0M645.4 308.1h0M649.2 306.6h0M618.4 314.9h0M621 322.7h0M614.6 348.5h0M652.5 314.3h0M633.1 324.8h0M626.5 347.2h0M629.7 318.3h0M621.9 318h0M620.9 333h0M614.4 318.9h0M617 332.8h0M622.7 338.4h0M624.3 316.2h0M640.9 314.7h0M631 340.1h0M617.4 319.3h0M646.7 310.7h0M631.9 325.7h0M631.7 320.5h0M617.8 321.1h0M622.5 342.7h0M624.8 320.8h0M628 328.3h0M627.1 321.5h0M632.4 321h0M629.8 311.1h0M614.2 339.7h0M638.6 316.5h0M627.2 337.7h0M622.8 316h0M636.3 317h0M632.4 327.8h0M623.7 327.9h0M623.1 320.8h0M617.5 328.1h0M622 315.1h0M623.1 327.6h0M642.7 293.5h0M636.3 323.3h0M627.1 338.5h0M641.3 328.1h0M649.5 324.3h0M637.1 317.3h0M627.3 330.1h0M654.8 310.1h0M620.6 327.3h0M621.7 326.7h0M627.2 293h0M622.4 336.3h0M618.9 333.2h0M616.8 337.8h0M630.6 314.8h0M617.1 336.3h0M615.6 334.8h0M625.5 304.6h0M628.2 308h0M619.2 329.2h0M628.6 318.4h0M619.6 328.4h0M628.4 318.7h0M626.5 340.1h0M616.9 311.4h0M623.9 313.6h0M633.4 313.4h0M629.2 311.4h0M616.6 324.2h0M624.1 326.4h0M628.7 311.9h0M647.2 320.6h0M629.6 337h0M643.4 329.2h0M621.2 347.2h0M623.4 337.9h0M633.1 322.7h0M615.5 347.4h0M617.1 336.4h0M616.5 347.9h0M620.5 326.4h0M614.7 310.4h0M617.9 318.1h0M616.5 331.6h0M622.6 332.6h0M632.8 321.1h0M614.3 340.5h0M616.2 319h0M622.2 320.8h0M656 323h0M635.5 322.5h0M620.2 329.3h0M628.3 338.6h0M623.2 337.7h0M621.9 320h0M615 332.5h0M620.5 311.9h0M640.5 319.8h0M621.6 331.6h0M626.5 309.1h0M657.9 327.8h0M616.1 349.4h0M627.5 330.2h0M626.4 334.8h0M643.3 333.3h0M617.1 328.1h0M622.1 337.7h0M622.5 331.2h0M625 311.8h0M629.5 315.9h0M619.8 323.2h0M623.7 337.3h0M618.7 330.1h0M618.4 338.7h0M614.7 326.2h0M626.4 313.6h0M656 333.5h0M623 353.6h0M631.5 327.5h0M617.7 327.6h0M650.6 327.3h0M614.3 320.3h0M644.6 316.3h0M647 303.6h0M617.3 334.4h0M634 325.2h0M627.3 321.7h0M627.1 319.4h0M623.5 312.5h0M614.6 322.9h0M633.6 334.8h0M625.2 323.1h0M636.3 334h0M636.3 313.5h0M615.2 329.8h0M631.1 319.5h0M644.1 316.1h0M640.8 327.4h0M638.1 301.3h0M634.9 329.5h0M641.3 326.4h0M617 329.9h0M617.8 330.2h0M615.6 328.3h0M618.6 335.8h0M637.8 321.8h0M616.7 321.8h0M644.6 319.9h0M648.7 325.9h0M628.7 328.5h0M632.1 323.8h0M620.1 330.6h0M621.8 323.1h0M615 326.3h0M627.6 307.3h0M618.1 327.6h0M624.1 336.4h0M627.4 321.8h0M628.2 316.5h0M615.9 339h0M651.3 317.2h0M627.5 326.9h0M627.7 329.9h0M615 337.4h0M626.7 325.4h0M636.6 313.7h0M616.2 346.9h0M628.9 325.4h0M619.5 321.4h0M631 325.8h0M634.4 334.1h0M636.9 308h0M625.5 338.9h0M618.8 327.8h0M636.6 340.8h0M643 325.4h0M624.1 325.9h0M617 341.9h0M644.7 330.5h0M644.6 315h0M629.5 326.9h0M617.6 324.7h0M617.8 338.3h0M621 314.8h0M638.9 319.1h0M629.1 304.5h0M615.6 336.1h0M619.3 307.6h0M632.9 313.1h0M623.5 329.7h0M615.1 327.3h0M618.7 324.9h0M637 312.3h0M616 325.8h0M626.9 309h0M614.3 334.1h0M636.2 329.6h0M626.6 333.1h0M617.5 329.3h0M637.8 332.9h0M616.2 334.6h0M625.8 335.3h0M636.8 325.4h0M626.5 326.2h0M622.6 320.3h0M644.8 293.2h0M638.1 327.2h0M626.1 325h0M625.6 345.2h0M638.2 302.2h0M614.7 338.9h0M620.1 319.5h0M624.9 326.5h0M619 320.6h0M641.7 322.9h0M645.1 317.9h0M633.1 331.5h0M625.4 327.8h0M623.7 331.7h0M641.3 331.9h0M629.5 329.6h0M629.8 323.3h0M619.4 340.7h0M632.1 322.5h0M631.2 327.9h0M645 315.2h0M637.3 315.1h0M615.1 302.1h0M626.5 332.6h0M629.3 313.8h0M623.8 334.1h0M639.2 337.8h0M635.4 309.7h0M623.8 335.4h0M643.5 318h0M625.5 330.7h0M616.8 318.6h0M651.9 315.7h0M616.2 331.7h0M621.5 341.7h0M626 346.6h0M628.4 328.1h0M641.4 316.3h0M626.7 347h0M639.2 319.7h0M622.6 327h0M629.3 325.8h0M631.8 328.2h0M645.3 324.9h0M621.6 322.5h0M635.2 321.3h0M643.3 336.9h0M624.6 342h0M618.4 333.6h0M634.6 325.2h0M616.7 327.9h0M615.6 340.3h0M621.2 323.3h0M626.6 327.2h0M615.5 326.3h0M636.7 315.8h0M630.6 324.7h0M624.9 326.7h0M622.7 322.1h0M628.5 324.6h0M625.2 327.2h0M623.6 322.8h0M626.8 319.7h0M624.7 325.5h0M625.3 333.2h0M620.3 339.1h0M622.6 329.4h0M618.2 326.9h0M615.4 330.4h0M632.9 341.5h0M628.8 333.8h0M629 315.9h0M621.5 327.6h0M631.1 319.1h0M631.9 320.3h0M629.5 308.8h0M636.4 322.2h0M647.5 304.4h0M633.5 317.6h0M629.7 339.2h0M619.6 338.4h0M627.2 317.5h0M635.3 312.6h0M615.8 321.8h0M637.2 303.7h0M621 319h0M637.7 318.8h0M661.7 301.4h0M617.5 337h0M657.6 312.6h0M621.8 322.9h0M637.6 338.1h0M615.8 337.3h0M615.9 331.2h0M634.9 340.1h0M633.7 335.6h0M618.7 322.6h0M617.5 332.9h0M658.3 308.7h0M630.7 310.6h0M614.7 349h0M614.4 345.4h0M619.2 317h0M666.8 314h0M657.4 297.6h0M631.8 334.1h0M632.5 323.1h0M622.1 325.1h0M619 341.2h0M628.2 325.5h0M636.7 319.4h0M623.1 336.2h0M621.4 325.3h0M651.3 324.1h0M629.1 325h0M647.2 325.3h0M635.5 328.3h0M617.4 337.4h0M627 316.3h0M618.9 347.2h0M658.8 311.1h0M635.1 339.4h0M637.3 315.9h0M616.4 327.6h0M635.4 319.9h0M643.9 329.9h0M662.3 307.1h0M655.8 317.9h0M641.1 305h0M615 326.3h0M620.7 330.6h0M617.7 328.7h0M632.1 305.8h0M639.4 325.5h0M646.5 308.5h0M646.7 336.3h0M619 327.3h0M642 341.3h0M618.3 335.9h0M639.8 325h0M624.8 322.2h0M622.8 326.5h0M641.1 324.3h0M631.9 305.1h0M622.2 337.4h0M629.7 313.5h0M625.8 323.9h0M639 294.6h0M623.3 331.8h0M638.6 328.2h0M629 327.8h0M636.1 325.2h0M629.3 321.3h0M626 327.7h0M622.2 339.5h0M657.6 309h0M631.9 328.7h0M629.7 331.8h0M622.9 325.3h0M644.4 320.9h0M640.2 322.5h0M631.9 319h0M628.2 348.8h0M622.8 323.4h0M618.5 345.9h0M621.1 338.6h0M623.7 307.6h0M619.7 331.3h0M629.4 334.8h0M618.7 337.2h0M621.5 319.4h0M623.9 329.7h0M626.8 314.3h0M628.4 315.2h0M646.4 315.5h0M643.4 320.8h0M622.1 343.4h0M620.6 332h0M636.7 332.1h0M653 303.4h0M631.8 312.7h0M635.6 317.6h0M637.2 338.6h0M653.3 301.9h0M626.1 310.9h0M615.9 329.7h0M622 339.4h0M637.8 305.5h0M626.1 323.7h0M635.8 309h0M624.1 341.1h0M639.8 327.2h0M631.7 326.5h0M622.5 327.3h0M615.9 328.2h0M631.7 325.2h0M617.4 323.5h0M630.2 315.9h0M641.9 308.8h0M668 308.9h0M620.1 320.9h0M622.3 336.3h0M620.6 308.1h0M632 329.2h0M636.6 327h0M648.3 328.8h0M616 327.9h0M666.8 294.7h0M629.1 315.9h0M648.9 327.7h0M634.5 319.7h0M625 322.6h0M635.7 316.5h0M633.2 322.6h0M630.5 322.1h0M631.1 309h0M629.1 319.1h0M622.8 337.3h0M632 337.8h0M624.1 325.8h0M615.5 325.5h0M623.5 340.5h0M627.6 323.8h0M625.7 314.9h0M621.1 327h0M633.5 329.8h0M628.1 340.5h0M620.6 323.7h0M616.2 335.5h0M616.5 326.9h0M617.4 340.9h0M618.1 332h0M650.7 318.5h0M626.4 316.4h0M625.2 323.4h0M618.5 326.1h0M666.5 274.3h0M631.8 332.1h0M630.2 324.4h0M615.7 328.5h0M635 318.9h0M643.2 319.3h0M635.2 324.7h0M625.1 313.8h0M635.3 323.5h0M637 322.7h0M635.2 322.6h0M629 310.5h0M628.4 323.8h0M615.6 318h0M623.2 330.7h0M633.3 335.9h0M660.2 320.4h0M632.4 320.2h0M630.4 319.1h0M618.6 323.7h0M629.9 327.9h0M619.2 322.5h0M633.9 317.7h0M632.4 299.1h0M630 316.2h0M638.3 313.4h0M628.9 319.7h0M615.3 342.4h0M652.7 301.8h0M626.9 312.9h0M638 327h0M630.2 314.9h0M644.2 317h0M622.8 329.2h0M649.4 316.6h0M622.4 320.1h0M625.9 335.1h0M637.6 335.9h0M625.2 316.7h0M616.9 327.3h0M627.5 334.7h0M614.7 328.8h0M640.8 310.3h0M619.4 324.7h0M626.5 334h0M638.6 311.2h0M617.8 332h0M632 327.4h0M618.6 322.9h0M623.8 332.6h0M622.9 333.9h0M628.2 334.9h0M630.9 333.2h0M615.1 316.2h0M628.6 333.8h0M622.2 333.4h0M633 332.8h0M620.9 320h0M637.7 330.1h0M622.1 331.4h0M644.7 307.1h0M618.3 341.7h0M624.8 319.1h0M647.8 307.2h0M614.3 334.9h0M614.7 325h0M624.6 330.3h0M619.1 326.6h0M623.4 330h0M629.3 332.7h0M614.7 330.5h0M645.1 326.7h0M637.7 329.5h0M633.8 314.8h0M614.9 339.1h0M625.5 332.4h0M637.5 322.7h0M643.6 329.7h0M635.8 338.2h0M640 327.7h0M638 306.9h0M616.4 334.5h0M651.5 314.3h0M615.7 327.9h0M637.3 324.8h0M637.5 318.2h0M617.8 345.4h0M623 330.1h0M614.3 331.3h0M646.1 325.4h0M616.9 337.7h0M640.7 331.6h0M620.2 334.8h0M617.2 329.5h0M635.6 323.5h0M649.2 295.6h0M623.7 312.9h0M620 338.8h0M631.4 320.8h0M624.7 344.3h0M620.5 346h0M624.5 314.7h0M664.1 313.4h0M648 345.1h0M626.2 318.5h0M632.5 327.4h0M635.8 319.9h0M622.7 325.3h0M616.5 327.5h0M656.7 313.3h0M627.6 333h0M655.7 306.1h0M614.5 335.9h0M647.2 310.6h0M619.4 334.1h0M622 331h0M641.7 312.2h0M622.3 329.2h0M618.1 322.4h0M647.8 309h0M619.4 340.4h0M628.9 307.4h0M630.9 329.6h0M643.3 325.9h0M636.2 316.3h0M641.9 330.2h0M615.1 339.6h0M615.4 318.1h0M618.9 334.3h0M620.4 333.1h0M619.5 321.8h0M653.9 320.3h0M623.6 334.5h0M615.9 323.5h0M630 305.3h0M614.7 334.9h0M654.5 307.2h0M621.4 311.5h0M620.3 324.9h0M644.3 295.5h0M627.3 322.4h0M616.2 344.9h0M623.1 299.8h0M617.7 334.2h0M628.7 316.2h0M624.8 322.8h0M626.2 317.3h0M621.4 334.4h0M616.3 330.2h0M620.6 320.9h0M614.2 318.4h0M626 322.1h0M633.9 334.1h0M615.6 318.8h0M631.4 328.1h0M622 331.2h0M617 310.6h0M629.5 335.5h0M624.2 326.6h0M621.9 349.7h0M616.4 347.2h0M616.7 327.7h0M617.2 328.4h0M628.6 315.4h0M639.3 307.3h0M630.3 332.2h0M616.6 327.7h0M631.1 320.2h0M620.4 326.9h0M618.1 336.2h0M616.2 339.5h0M660.4 311.9h0M631.8 322h0M632.6 324.5h0M620.4 348.8h0M625 306.4h0M653.4 303.6h0M622 332.6h0M633.1 324.8h0M636.3 334h0M647.5 330.2h0M641.7 339.1h0M618.7 321.5h0M623.2 333.4h0M656.8 311.2h0M659.9 321.7h0M619.9 330.6h0M616.6 338.9h0M638.5 313.8h0M622 329.6h0M614.6 326h0M627.1 323.3h0M615.1 326.4h0M620.3 318.6h0M624 338.1h0M615.9 333.4h0M623.9 337.9h0M618.7 319.6h0M615.7 311.5h0M622.5 321.5h0M630.7 322.9h0M626.2 334h0M617.2 340.4h0M634 334.9h0M623.5 342.4h0M635.5 329.5h0M617.8 330.8h0M615.5 323.2h0M623.8 334h0M627.9 320.6h0M632.7 315.7h0M632.7 329.3h0M618.3 331.7h0M617.3 338.4h0M631 317.2h0M621.8 339.6h0M662.3 314.8h0M634.6 321.1h0M632.3 316.3h0M671.4 296.9h0M614.4 317.8h0M618.7 343.1h0M617.4 316h0M631.6 330.2h0M634 320.6h0M619.5 323.4h0M614.2 326.6h0M629.7 323.8h0M617.6 338.7h0M622.8 333.2h0M628.5 325.3h0M655.2 300.8h0M631.3 306.7h0M638.7 339.4h0M620.6 318.7h0M642.9 303.9h0M620.8 339.5h0M625.1 312h0M617.3 337.2h0M626.5 335.3h0M615.2 333.3h0M622.4 337.3h0M637.6 307.9h0M614.4 319.2h0M636.5 320.1h0M619.3 329.1h0M623.8 326.4h0M632.6 328.1h0M628 318.3h0M627.7 304.7h0M650.7 320h0M624.6 324.7h0M625.9 334.4h0M642.1 340h0M620.8 329.3h0M616.4 336h0M621.6 319.4h0M622.1 336.9h0M615.3 334.1h0M624.1 329.5h0M621.3 337.3h0M619.8 317.8h0M624.1 332.6h0M625.5 331h0M631.5 339.6h0M634.8 304.9h0M651.6 314.8h0M628.9 346.6h0M616.5 326.3h0M624.7 322.6h0M632.4 341.2h0M627.3 350.4h0M615.6 331.8h0M652.6 308.2h0M636 316.3h0M619.6 325.1h0M619.1 320.9h0M630 316.7h0M622.6 329.4h0M638.7 321.4h0M620.9 333.1h0M627.3 326h0M623 315.7h0M629.6 332h0M614.5 333.5h0M658.6 307h0M621.6 325.5h0M631.1 327.3h0M615.9 331.2h0M653.9 313.4h0M633 330.9h0M614.5 341.5h0M631.2 321h0M651.7 315.4h0M626.9 315h0M630.5 322.7h0M623 332.2h0M618.9 337.7h0M619.3 330.7h0M615.8 329.7h0M633 316.4h0M641 322.2h0M618.2 318.8h0M625.8 327.6h0M628 325.7h0M615.5 321.8h0M625.4 329.7h0M622.1 325.8h0M629.2 330.8h0M639.2 316h0M623.1 332.2h0M625.9 341.7h0M635 324.3h0M624.3 334.7h0M638.5 314.8h0M649.9 312.9h0M620.9 309.9h0M644.5 317.1h0M626.7 314.9h0M622.2 329h0M646.1 297.7h0M629.6 316.3h0M621.2 329.1h0M624.6 330.7h0M620.6 312.3h0M634.9 318.5h0M615.7 355.7h0M615.1 338.5h0M634.2 324.4h0M634.2 295.8h0M622.2 318.8h0M626.2 331.2h0M621.3 330.5h0M628.2 329.8h0M618 339h0M627.8 326.4h0M628 333.7h0M638.7 303.4h0M639.7 345h0M628.8 322.1h0M622.8 321.3h0M639.9 335.1h0M653.3 320.8h0M637.6 330.9h0M637.7 315.3h0M622.5 330.4h0M619.4 335.9h0M625.3 315.4h0M621.1 326.1h0M627 323.4h0M654.7 311.4h0M614.2 324.2h0M616.7 317.7h0M625.4 330.7h0M630.5 326.7h0M661.4 322.8h0M617.8 329h0M625 320.1h0M641.5 305.6h0M621.2 329h0M631.4 320.9h0M625.6 346.1h0M649.2 339h0M616.4 345.6h0M643.8 309.9h0M628.5 311.5h0M664.5 307.9h0M633.5 314.3h0M641 333.9h0M637.7 322.5h0M626.6 322h0M632.7 323.3h0M619.5 341.2h0M626.9 316.6h0M633.7 327.7h0M636 309.1h0M621.7 325.9h0M620.1 322.2h0M625.2 329.6h0M645 319.8h0M644 330.4h0M629.8 331.3h0M616.2 324.3h0M633 310.3h0M620.9 320.3h0M639.3 316.5h0M616.1 328.1h0M617.1 322.5h0M629.9 335.1h0M632.4 332.6h0M624.9 324h0M617.9 324.7h0M649.7 314h0M638.8 320.4h0M619.4 328.7h0M625 310.8h0M619.7 324.6h0M625.4 308h0M616.8 330.3h0M618.8 335.7h0M619.1 318.6h0M623.9 328.7h0M617.6 323.6h0M647.5 310.4h0M620 347.9h0M627 334.5h0M618.3 334.1h0M626.8 321.6h0M620.8 332.3h0M622.3 325.8h0M632.9 327.7h0M654.2 305.6h0M621.6 327.3h0M614.5 327.1h0M615.7 316.6h0M636.1 338.5h0M623.6 335.1h0M633.7 315.2h0M631.6 309.4h0M615.5 323.4h0M625.1 318.3h0M629.8 318.6h0M645 303.4h0M635 314.3h0M616.7 330.6h0M615.9 334.4h0M617.1 310.4h0M618.1 329.4h0M622.5 317.9h0M625.2 316.2h0M625.8 323.1h0M627.6 318.7h0M620.3 335.4h0M623.8 333.9h0M618.2 326.4h0M649.1 310.2h0M627.7 343h0M614.2 349.3h0M616.3 334h0M657.6 311.5h0M629.8 334.5h0M625.9 340.4h0M648 311.8h0M621.7 345.6h0M630.7 322.6h0M645.1 328.9h0M624.6 321.6h0M615.8 331h0M627.9 320.9h0M625 326.8h0M619.8 338.7h0M632.7 314.5h0M636.4 318.8h0M629.7 329.9h0M629.1 320.2h0M634.2 342.8h0M617.5 315.2h0M659.9 337h0M643.1 312.5h0M623.5 336.8h0M618.7 345.1h0M628.9 330.2h0M616.5 316.2h0M615 327.4h0M626.6 326.5h0M615.7 336h0M619.2 338.7h0M627.8 336.5h0M638 335.7h0M633.7 313.5h0M616.9 339.7h0M616.5 312.8h0M617 331.3h0M614.6 320.3h0M642.4 301.7h0M629.3 333.8h0M625.3 326.1h0M616.7 339.8h0M654 298.8h0M618.2 317.3h0M636.7 320.7h0M651.8 308.8h0M639.8 321.1h0M622.2 321.5h0M626.5 322.5h0M640.9 308.6h0M633.8 335.6h0M618.6 326h0M624.2 315.1h0M618.8 335.9h0M627.6 330.2h0M628.9 327.1h0M630.3 326.5h0M629.4 320.8h0M642.3 318h0M629.8 302.6h0M638.7 305.4h0M636.3 309.6h0M643.7 321.6h0M633.4 335.1h0M625.3 324.8h0M618.1 326.8h0M651.2 326.8h0M651 312.1h0M624.6 333.2h0M665.3 314h0M645 305h0M629.1 328h0M619.7 330.7h0M617.2 318.4h0M637.4 311.1h0M629.9 311.8h0M628.5 338.7h0M632.1 344.5h0M621.4 335.1h0M654.9 329.7h0M618.9 315.7h0M619.1 343h0M626 345.7h0M618.6 345.2h0M643.2 309.6h0M625.5 337.1h0M630.4 323.1h0M620.3 339.2h0M622.3 321.3h0M620.4 328.6h0M648.6 311h0M617.6 334.3h0M636.5 320.7h0M643.8 329.8h0M626.2 334.2h0M632.2 327.7h0M627.2 325.2h0M628.4 322.1h0M617.3 329.8h0M639.4 328h0M626.2 327.3h0M644.8 321.2h0M620.8 327.9h0M637.3 320.7h0M615.8 323.7h0M617.1 311.1h0M647.2 323h0M626.5 331.5h0M627 316h0M637.8 340.3h0M623.6 315.5h0M626.3 336h0M619.2 331.5h0M628.6 328.2h0M617.3 341.1h0M632.3 332.7h0M617.2 330h0M617.1 319.3h0M622.7 315.3h0M656.9 315.2h0M618.3 345.1h0M621.9 336.6h0M627.7 325.1h0M620.7 331.6h0M624.1 333.8h0M617.5 346.8h0M641.3 312.2h0M615.8 337.6h0M614.4 333.7h0M642.1 311.9h0M630.1 314.3h0M634.4 335.3h0M624.2 330.2h0M621.1 326.1h0M620 329.6h0M616.1 340.1h0M618.6 330.2h0M625.1 342.5h0M637.6 318.7h0M664 302.5h0M617.3 328.6h0M634 313.4h0M629.9 321h0M622.5 339.8h0M621 345.2h0M618.7 335.5h0M628.2 327.2h0M618.4 320.2h0M616.4 320.1h0M654.9 317.8h0M617.6 331.3h0M616.9 324.2h0M656.7 308.9h0M624.9 342.1h0M615.1 340.6h0M617.3 330.3h0M620 330.9h0M621.6 340.7h0M632.9 326.9h0M655.9 316.1h0M621.8 312.2h0M651.6 298.6h0M645.2 299.1h0M622.9 304.9h0M621.6 327.8h0M648.1 320.2h0M623.4 318.5h0M626.4 330.4h0M631.7 328.2h0M646.8 316.7h0M631.8 309h0M641.2 334.2h0M644.8 332.1h0M659 306.6h0M617.5 349.1h0M623.1 327.8h0M620.5 320.6h0M642.3 315.3h0M617.5 311.2h0M624 323.5h0M614.7 314.9h0M623.2 338.6h0M623.5 330.4h0M627.3 311.7h0M633.9 328.6h0M615.3 313.4h0M636.9 323.2h0M630.2 329.2h0M621.7 328.6h0M631.8 312.5h0M617.3 328.6h0M635.1 320.5h0M651.5 316.1h0M617.1 344.7h0M641.9 336.4h0M642.2 335.2h0M617.6 323.3h0M639.2 313.2h0M615.9 330.6h0M656 318h0M642.6 298.6h0M624 320.8h0M616 348.2h0M615.8 317.9h0M621 320.8h0M633.4 316h0M633 328.1h0M626.4 325.3h0M631.6 320.6h0M617.4 314.5h0M668.5 314.5h0M652.7 315h0M628 318.6h0M626.4 326.2h0M630.7 332h0M621.7 313.1h0M647.5 301.6h0M621.2 317.9h0M616.1 321.5h0M651.3 285.1h0M650.7 309.8h0M619.9 339.8h0M644.5 315.1h0M626 336.3h0M616.3 301.4h0M620.8 327.1h0M647.2 331.2h0M628 341h0M616.5 325h0M635.3 314h0M621.4 331.8h0M638.8 308.6h0M625.1 322.8h0M637.2 304.7h0M625.7 327h0M621.9 327.8h0M620 344.9h0M634.2 326.3h0M615.6 323.8h0M647.7 316.2h0M622.4 314.7h0M665.2 310.1h0M618.3 327.1h0M621.7 332.1h0M639.1 330h0M615 310.6h0M620.1 331.8h0M648.6 324.1h0M622.4 315.6h0M647.5 336.2h0M637.8 314h0M625.4 351h0M629 332.7h0M636.7 331.3h0M617.1 332.5h0M616.5 340.2h0M619.2 318.6h0M635.9 313.9h0M621.2 308.4h0M631.5 329.2h0M641.5 312.5h0M619.9 336.2h0M644.9 324.2h0M642 306h0M615.8 337.4h0M616 332.8h0M622.6 329.5h0M637.5 325.9h0M619.2 328.6h0M623.1 327.4h0M621.6 338.5h0M633.5 313h0M659.3 300.2h0M625.7 318.6h0M631.7 334.1h0M627.9 322.1h0M616.1 349.4h0M616.1 299.3h0M625.4 319.2h0M614.9 326.3h0M638 323.8h0M649.2 329.9h0M615.6 328.6h0M641.8 309.3h0M618.8 337.5h0M637.1 337h0M620.9 302.6h0M640.5 325.8h0M621.1 331.1h0M622.6 319.2h0M624.1 322.1h0M637.3 324.3h0M617.9 329.7h0M629.9 322h0M648.1 305.2h0M620.1 331.4h0M659.3 305.6h0M624.4 327.6h0M639.3 314.7h0M631.5 325.8h0M625.6 333.7h0M627.2 327.9h0M629.8 331.1h0M625.4 312.4h0M616.5 334.7h0M615.4 333.4h0M620.8 322h0M619.2 327.3h0M614.2 302.9h0M622.2 328.5h0M643.2 314.8h0M628.5 302.3h0M624.1 331.9h0M630.1 317.9h0M622.5 330.3h0M620.7 325.9h0M639 325.5h0M647 318.2h0M635.9 319.1h0M625.2 331.3h0M642.2 327.7h0M629.8 301.8h0M620.8 328.5h0M634.2 316.7h0M623.3 316.1h0M655.2 327h0M651.2 325.2h0M664.6 299.6h0M625.4 315.1h0M614.4 339.1h0M625.3 320h0M630.8 320.8h0M630.8 304.3h0M651.6 314h0M617.6 340.9h0M633.3 318.4h0M626.4 324.7h0M620.2 345.9h0M630.5 332.9h0M619.4 343h0M635.7 328.3h0M626.8 337.7h0M638 304.4h0M623.5 318.9h0M645 301.5h0M631.4 346h0M643.7 320.5h0M614.5 329.5h0M640.5 312.4h0M620.2 318.3h0M631.8 295.6h0M633.5 345.3h0M636.7 320.7h0M616.2 330.7h0M656.3 299.3h0M617.8 328.8h0M624.6 330.4h0M621.7 327h0M633.1 329.2h0M619.5 320.3h0M621.6 331.1h0M622.2 336.6h0M625.7 331.8h0M627.5 329.2h0M622 326.6h0M617.1 319.8h0M661.3 316.9h0M617.8 325.5h0M628.5 315.5h0M636.9 329.1h0M670.8 291.3h0M616.8 324.2h0M635.9 329.6h0M632.1 333h0M659.1 308.5h0M619.3 329.4h0M639.7 325.7h0M657.4 312.2h0M627.3 317.8h0M630.8 328.3h0M622.9 328.9h0M617.7 330.5h0M647.6 328.2h0M617.2 332.7h0M626.1 321.4h0M627.9 326.8h0M626.1 345.4h0M675.6 298.2h0M619.8 326h0M623.5 319h0M615.6 333.9h0M627.4 312.8h0M618.3 333.7h0M640.5 327.6h0M617 322h0M629.4 316.1h0M618.7 314.2h0M658.2 313.1h0M643.8 307.4h0M624 320.6h0M645.3 313.8h0M618.4 322.3h0M634.4 330.9h0M634.8 338.3h0M618.9 307.7h0M615.4 322.3h0M636.2 324.3h0M633.6 312.3h0M625.5 320.9h0M631.8 325.7h0M624.7 340.5h0M627.1 337.3h0M627.6 322.4h0M646.4 318.9h0M622.2 324h0M616 328.4h0M631.3 312.1h0M654.1 296.6h0M634.2 318.9h0M618.4 339h0M616.3 337.7h0M622 309h0M620.9 326.2h0M636.3 315.4h0M621.8 330.7h0M634 311.7h0M619.5 337.9h0M614.3 328.8h0M639.8 326h0M645 326.9h0M623.4 307.7h0M666.4 307.1h0M622.3 342.7h0M616.1 330.4h0M673.3 316.8h0M623.6 331.2h0M628 320.2h0M620.8 331h0M636.5 332.2h0M622.6 340.4h0M626.7 340.2h0M661.5 300.2h0M647.4 325.4h0M618.3 315.5h0M615.8 329h0M617 327.7h0M616.8 336.1h0M622.1 330.8h0M615.2 343h0M644.2 312.4h0M628.2 333.6h0M619 332.9h0M637.1 321.5h0M617.5 317.6h0M632.3 329.1h0M645.8 321h0M627.2 333.4h0M627.8 324.9h0M653 312.3h0M632.5 327.2h0M625.1 331.1h0M629.2 331.6h0M627.1 344.5h0M634.3 316.4h0M623.4 347.2h0M619.5 299.2h0M659.3 321.8h0M619.2 320.7h0M615.9 350.3h0M651.7 306.5h0M636.9 332.1h0M624.9 316.6h0M654.5 302.9h0M616.8 337.9h0M637 330.2h0M616.7 323h0M616.8 353.9h0M632.9 320h0M638.9 336.3h0M639 310.5h0M614.3 321.3h0M634.5 323.4h0M632.1 313.4h0M619.6 333.3h0M635.1 300.9h0M615.5 332.2h0M640.9 314.3h0M620.7 318.7h0M623 329.4h0M639.6 318.2h0M640.5 315.6h0M617.7 337.6h0M631.7 326.6h0M625.5 330h0M635.7 335.3h0M647.4 316.4h0M628.6 333.3h0M639.9 316.1h0M630.2 330.4h0M615 335.9h0M617.9 324h0M631.7 308.6h0M632.8 310.5h0M616.6 320.6h0M621.4 333.5h0M644.6 317h0M645.8 314.9h0M624.3 331.5h0M618.2 336.6h0M618.9 342.9h0M626.3 320h0M639.8 325.8h0M619.4 335.9h0M619.6 319.2h0M624.5 327.9h0M640.5 310.9h0M629.4 322.4h0M624.6 330.8h0M619.2 312h0M620.8 319.6h0M627.9 317.2h0M628.8 325.8h0M633.7 315.5h0M625.3 330.1h0M647.2 308.7h0M619.5 323.6h0M617.2 335.7h0M622.3 330.8h0M621.4 329.5h0M627.1 325.2h0M620.9 338.2h0M639.7 334h0M635.9 318.2h0M628.7 317.7h0M618.4 318.9h0M615.7 347.6h0M625.3 317.5h0M663.9 297.1h0M618.7 331.7h0M623.4 337.6h0M637.6 309h0M638.9 319.5h0M629.4 310.4h0M621.8 320.9h0M639.3 336.7h0M637.2 323.1h0M623.9 324.3h0M636.4 322.4h0M626.4 328.7h0M614.2 329.9h0M614.3 319.1h0M644.1 306.8h0M625.9 346.1h0M621.1 320.5h0M633.9 334.7h0M617.3 322.6h0M618.2 342.3h0M623.9 333.9h0M632.2 321.4h0M626.7 345.8h0M631.4 314.5h0M621.8 325.5h0M620.1 320h0M619.3 321.1h0M618 325.8h0M621.9 318.3h0M649.7 313h0M647.6 332.8h0M634.8 305.1h0M619.9 316.1h0M614.9 321.2h0M623.7 322.4h0M618.6 339.2h0M635.7 329.2h0M639.2 325.3h0M616.7 332h0M643.9 342.4h0M628.5 313.8h0M633.3 311.6h0M675.4 305.3h0M661.5 313.4h0M618.5 326.8h0M617.4 321.3h0M615.7 317.4h0M621.1 325.4h0M626.9 318.7h0M629 320.1h0M645.3 307.3h0M614.2 344.3h0M628.9 329.3h0M643.3 337.3h0M617 324.7h0M636.2 322.4h0M638.3 318.5h0M654.9 314.3h0M623.3 324.7h0M637.6 319.6h0M650.9 296.1h0M614.3 328.3h0M617.2 336.6h0M633 303.8h0M618.2 325.8h0M661.4 317h0M637.9 333.7h0M623.4 326.3h0M624.5 331.2h0M638.8 338.2h0M619.3 341.7h0M638.8 316.3h0M638 315.1h0M614.8 340.9h0M629.8 326.7h0M640.3 314.8h0M617.6 327.3h0M622.9 330.5h0M642.4 317.3h0M662 308.6h0M639.5 318.1h0M617.9 314.6h0M660.1 329.1h0M618.8 341.2h0M619 344h0M622.8 326.1h0M626.6 327.1h0M617 335.5h0M626.1 334.2h0M619.2 310.8h0M615.3 334h0M619.2 319h0M618.1 328.6h0M618.6 322.6h0M644.5 335.3h0M614.8 336.1h0M625.1 326.2h0M619.8 342.5h0M646.5 316.9h0M618.1 322.2h0M617.3 327.9h0M619.1 325.3h0M616.7 330.4h0M620.7 336.6h0M621.6 326.7h0M643.5 318.2h0M633.4 333h0M661 314.4h0M627.9 334.7h0M633.3 324.4h0M636.7 308.7h0M616.3 319h0M634 306.3h0M615.3 341.8h0M616.8 334h0M641.8 314.8h0M628.4 315.3h0M625.1 330.1h0M630 323.1h0M643 322.2h0M630 316.1h0M620.3 317.4h0M618.6 344.7h0M628.3 315.7h0M645 318h0M627.9 338.6h0M640 302.1h0M620.2 335.4h0M617.1 330.5h0M617.8 328.1h0M617.6 332.3h0M639.4 308.7h0M631.1 301.9h0M629.4 343.4h0M644.1 315.7h0M631.7 332.5h0M620.6 339.3h0M628.6 327.9h0M642.8 323.6h0M625 333.6h0M626.5 341.5h0M627.5 330.3h0M627.3 338.1h0M614.8 327.9h0M614.7 326.6h0M631.1 324.8h0M620.3 332.4h0M631.1 329.3h0M622.2 347h0M623.5 335.5h0M617.3 330.4h0M617.1 349.5h0M617.3 333h0M616.8 333.5h0M631.1 328.8h0M639.8 317.1h0M619.5 318h0M625.9 327.5h0M617.6 326.5h0M641.1 311.3h0M616.5 331.2h0M629.2 322.8h0M665.9 303.7h0M632.6 305.8h0M631.6 322.1h0M630.3 341.7h0M633.7 331.7h0M651.7 326.1h0M618.2 329.2h0M629.1 335.3h0M636.2 315.2h0M625.7 321.7h0M623.9 332.1h0M632.2 309.4h0M620.9 328.8h0M622.8 330.4h0M639.1 337.4h0M652.9 308h0M622.7 331.7h0M627.8 318.9h0M628.7 319.6h0M616 303.6h0M637.1 312.2h0M619.4 340.2h0M619.9 333.8h0M628.7 326.6h0M616.6 354.4h0M618.4 334.7h0M623.9 314.8h0M643.1 317h0M626.6 325.3h0M624.3 342.7h0M620.7 319.4h0M623.7 331.3h0M620.7 338h0M630.1 316.4h0M638.2 321.9h0M618.2 309.5h0M617.8 330.5h0M619.7 307h0M616.6 326.2h0M649.2 333.5h0M618.5 333.3h0M616.2 330.7h0M639.7 321.9h0M616.4 351.5h0M640.8 325.5h0M621.5 338.3h0M624.1 322.6h0M618.7 324.9h0M628.9 314.6h0M630.8 322.4h0M621.7 321h0M636.4 331.6h0M628 331.7h0M627.1 324.5h0M631.1 318.6h0M616.9 301.3h0M626.8 320h0M621.2 331.1h0M630.6 330.7h0M642.1 288.9h0M615 307h0M620.5 330h0M623.2 317.1h0M641.3 317.6h0M615.2 326h0M618.2 335.2h0M622.4 309.3h0M652.9 309.3h0M616.6 339.4h0M615.3 332.6h0M630.4 316.1h0M615.9 334.8h0M631 326.9h0M627.2 316.9h0M618.2 336.2h0M634.7 329.2h0M654.3 313h0M624.9 335.9h0M657 301.7h0M629.5 332.2h0M621.3 326.2h0M644.3 309.3h0M632 317.8h0M632.4 335h0M624.1 321.4h0M625.4 322.9h0M632.8 316.8h0M617.8 321.7h0M636.8 331.1h0M639.8 342.3h0M618.5 342.5h0M623.8 332.1h0M619.3 336.4h0M647.8 313.7h0M630.1 319.5h0M617.5 318.1h0M631.7 338h0M638 317.8h0M629.7 317.5h0M626.9 319.5h0M616.3 332.1h0M620.4 323.1h0M622.4 327.8h0M614.3 332.7h0M617.9 342.7h0M626.8 313.6h0M619.6 331.7h0M629.1 318h0M635.2 318.1h0M615 346.7h0M620.6 334.6h0M615.8 326.6h0M638.3 325.9h0M625.5 326.2h0M620.5 339.4h0M630.4 319.5h0M624 331.8h0M636 320h0M624.3 327h0M630.9 322.6h0M619 322.9h0M616.3 331.3h0M628.9 334.7h0M617.8 323.6h0M633.2 319.3h0M628 329h0M616.7 322.6h0M619.1 337.7h0M642.5 326.3h0M619.6 306.2h0M622 321.4h0M640.3 309.6h0M649 324.8h0M620.7 337.7h0M630.7 312.4h0M633.5 316.3h0M635 321.6h0M629.2 321.2h0M637.7 328.4h0M625.8 335.9h0M622 333.7h0M639.7 331.2h0M625.7 335.6h0M625.3 325.8h0M632.9 319h0M627.7 318.2h0M634 330.9h0M621.7 336.8h0M616.4 340.2h0M624.8 323.5h0M625.4 322.6h0M627.3 328.3h0M620.1 341h0M633.7 326.5h0M620.2 330.8h0M619 321h0M633.5 327.5h0M628.4 330.5h0M661.9 301.9h0M637.6 338.7h0M627.5 316.5h0M629.9 333.7h0M623.6 325.2h0M653.3 316.4h0M644 311h0M627.4 320.1h0M617.3 336.8h0M625.7 324.4h0M616.5 326.8h0M629.2 333.7h0M618 336.6h0M626.3 327.7h0M639.4 322.9h0M634.8 339.5h0M637 320h0M645 322.2h0M622.6 331.9h0M616.8 316.3h0M647.5 298.2h0M656.8 314.7h0M641.5 328.3h0M626.8 327.9h0M618.1 324.3h0M630.1 318.1h0M640.5 328.2h0M623 324.6h0M635.8 306.3h0M628.8 331.8h0M629.1 327.3h0M645.3 321.9h0M648.2 327.2h0M618.9 342.2h0M620.3 334.1h0M643.8 317.1h0M616.6 309.3h0M641.3 322.8h0M623 326h0M622.4 340.7h0M623.5 339.8h0M660.9 316.4h0M640.3 333.8h0M620.8 327.7h0M625.5 326h0M633.7 314.7h0M619.9 325.7h0M629.4 326.9h0M626.2 336.6h0M657.2 306h0M651.3 323.6h0M641.2 342.9h0M634.3 309.5h0M627.6 323h0M624.9 326.9h0M650.9 325.8h0M625.2 346.1h0M625.1 338.7h0M624.4 326.5h0M616.2 321.9h0M665.4 309.3h0M638.3 320.7h0M628.9 327.4h0M632.5 314.7h0M665.9 324.6h0M662.5 303.9h0M625.9 333h0M620.4 330.6h0M616.2 319.5h0M623.3 328h0M619.4 329.2h0M619.2 327.2h0M614.4 339h0M621.9 323.3h0M629.2 350h0M641 331.1h0M629.1 315.9h0M615.1 306.2h0M619.7 341.2h0M654.4 316.9h0M643.9 319.6h0M657.5 303.5h0M628.4 311h0M626 307.8h0M623.9 352.4h0M620.5 344.3h0M652 309.9h0M621 346.8h0M618.6 311h0M626.7 332.8h0M618.4 336.3h0M618.7 320.7h0M622.5 323.1h0M625.1 316.3h0M626.4 326.4h0M648.8 329.7h0M628.1 335.1h0M636.3 326h0M616.2 341.3h0M640.4 302.5h0M624.5 346.8h0M623.9 326.5h0M620.7 315.3h0M617.3 326h0M620.4 322.1h0M626.7 326.8h0M634.4 325.7h0M620.3 305.4h0M628.1 337.7h0M615 347.9h0M637.5 311.1h0M655.2 328.6h0M615.1 343.2h0M629 334.9h0M638 337.3h0M622 314h0M629.6 331.9h0M626.6 315.8h0M620.3 352h0M632.4 313.8h0M638.2 308.9h0M641 331.1h0M616.5 336.2h0M622.1 328h0M616.6 331.4h0M632 329.7h0M618.9 346.3h0M634.5 315.5h0M635.5 316.6h0M639.2 314.9h0M625.5 325.6h0M650 316.3h0M631.9 310.9h0M626.8 328.8h0M674.4 293.4h0M614.4 327.8h0M631.1 321.5h0M621.1 325.7h0M644.8 333.1h0M615.6 346.8h0M625.4 337.1h0M630.9 339.9h0M617.8 326.7h0M641.5 333.7h0M623.7 326.5h0M617.8 331.8h0M647.7 319.8h0M619.9 315.3h0M635.7 316h0M628.5 323.5h0M626.2 329.7h0M621.3 326.8h0M630.8 315.6h0M653.5 303.1h0M633.7 323h0M617.4 317.9h0M644.7 306.6h0M618.8 328.1h0M628.5 326.8h0M625.7 317.9h0M632.2 305.7h0M630.1 327.2h0M647.6 325.3h0M618.8 325h0M628.6 321.3h0M648 293.7h0M616.3 339.2h0M621.4 317.1h0M626.7 333h0M623.5 321.2h0M634 321.4h0M618.4 327.4h0M617.6 311.6h0M643.9 346.1h0M639.4 304.9h0M641.7 320.6h0M630.7 316h0M643.6 316.4h0M628.9 338.7h0M631.4 305.2h0M647.4 315.7h0M629.3 329.7h0M643 320.2h0M626.8 329.7h0M632.8 315.7h0M631.4 307.4h0M639.3 307.4h0M641.7 315.5h0M625.9 333.6h0M616.5 330.8h0M623 343.4h0M617.2 330.7h0M614.4 332.8h0M649.5 318.3h0M616.6 312.7h0M625.3 332.1h0M658.6 301.4h0M614.2 327.2h0M619.6 352.2h0M621.2 315.7h0M629 326h0M622.1 330.6h0M643.8 320h0M622.5 327.6h0M659.4 306.6h0M626.6 345.8h0M619.3 308.8h0M618 319.2h0M615.5 345.3h0M624.1 332.4h0M633.6 315.3h0M615.8 321.3h0M617.8 327h0M624.8 353h0M637 326.5h0M618.7 318.8h0M648.2 319.2h0M615.8 324.1h0M645.6 332.9h0M635.8 325h0M633.2 335.7h0M625.1 328.1h0M621.2 348.5h0M624.4 330.9h0M614.8 333.6h0M644 308.4h0M623.6 322.9h0M619.4 332.8h0M647.4 312.2h0M666.7 334h0M632.8 323.2h0M625.2 318.8h0M644.1 328.4h0M630.4 319h0M628.1 329.3h0M640.3 319.2h0M627.7 318.2h0M615.9 344.2h0M623.5 328h0M622.3 338.5h0M642.9 315.7h0M629.6 310.3h0M659.5 299.7h0M620.2 323.3h0M648.2 315h0M620 329.2h0M626.1 331.2h0M636.7 309.2h0M633.9 325.1h0M617.7 317.4h0M618.3 322.5h0M643 344.7h0M620.9 341h0M624.5 323.1h0M645.9 335.7h0M644.3 332.7h0M615.2 339.5h0M630.6 338.8h0M619.7 326.2h0M633.4 321.8h0M639.3 312h0M614.6 336.7h0M625.7 313.7h0M650.4 270.7h0M702.4 274.8h0M619 281.6h0M630.3 279.9h0M644.6 279h0M654.7 282.4h0M667.3 280.9h0M672.4 290h0M660 288h0M640 286h0" stroke="#5572b8" stroke-width="2" stroke-linecap="round"/>
<line x1="614.2" y1="331" x2="702.4" y2="294.3" stroke="#4aa55a" stroke-width="1.1" />
<path d="M610.3 270C610.2 271.7 610.2 276.7 609.9 280.4C609.6 284.1 609.1 288.2 608.5 292C607.9 295.8 607.7 300.3 606.1 303.2C604.5 306.1 601.5 307.6 599 309.5C596.5 311.4 593.6 312.7 590.9 314.6C588.2 316.5 584.9 318.8 583 321C581.1 323.2 579.4 325.7 579.4 328C579.4 330.3 581.1 332.8 583 335C584.9 337.2 588.2 339.2 590.9 341.2C593.6 343.2 596.5 344.9 599 347C601.5 349.1 604.3 351.9 606.1 353.9C607.9 355.9 609.2 357.6 609.9 359C610.6 360.4 610.3 361.5 610.4 362" fill="none" stroke="#e5733f" stroke-width="1.15"/>
<path d="M614.2 378C614.6 379.5 615.6 384.7 616.5 387C617.4 389.3 618.3 391.5 619.3 392C620.3 392.5 621.3 391.1 622.5 390C623.7 388.9 624.6 386.6 626.3 385.6C628 384.7 630.9 385.1 632.7 384.3C634.5 383.5 635.5 382.3 637 381C638.5 379.7 640.1 378.2 641.6 376.7C643.1 375.2 644.3 373.5 646 372C647.7 370.5 649.4 369.1 651.7 367.8C654 366.5 656.6 365 660 364.2C663.4 363.4 670 363.1 672 362.9" fill="none" stroke="#e5733f" stroke-width="1.15"/>
<path d="M578 266.4H706.6V395H610.5V266.4M578 266.4V362.9H706.6" fill="none" stroke="#222" stroke-width="1.3"/>
<path d="M578 279.1h-2.7M578 297.8h-2.7M578 316.5h-2.7M578 335.2h-2.7M578 353.9h-2.7M614.2 395v2.4M631.8 395v2.4M649.5 395v2.4M667.1 395v2.4M684.8 395v2.4M702.4 395v2.4" stroke="#2a2a2a" stroke-width="1"/>
<text x="573.2" y="282.8" font-size="10.3" text-anchor="end" fill="#222" >0.9</text>
<text x="573.2" y="357.6" font-size="10.3" text-anchor="end" fill="#222" >0.5</text>
<text x="614.2" y="408.3" font-size="10.3" text-anchor="middle" fill="#222" >0</text>
<text x="702.4" y="408.3" font-size="10.3" text-anchor="middle" fill="#222" >1</text>
<text x="658.8" y="425.5" font-size="11.9" text-anchor="middle" fill="#222" >Δinteraction (abs)</text>
<text x="549" y="314.5" font-size="12" text-anchor="middle" fill="#222" transform="rotate(-90 549 314.5)">switch score</text>
<text x="2.2" y="451.2" font-size="12.5" fill="#000" font-weight="bold" >c</text>
<text x="34.2" y="469" font-size="9.6" text-anchor="middle" fill="#222" >Candidate</text>
<text x="34.2" y="480.4" font-size="9.6" text-anchor="middle" fill="#222" >AD SNPs</text>
<text x="34.2" y="496.5" font-size="9.6" text-anchor="middle" fill="#1e9a46" >Used by</text>
<text x="34.2" y="507.8" font-size="9.6" text-anchor="middle" fill="#1e9a46" >Grubman et al.</text>
<line x1="76" y1="485.3" x2="697" y2="485.3" stroke="#111" stroke-width="1.1" />
<path d="M241.3 469.5v4.2M279.2 469.5v4.2M322.1 469.5v4.2M361.5 469.5v4.2M364.9 469.5v4.2M373.7 469.5v4.2M388 469.5v4.2M399.1 469.5v4.2M419.6 469.5v4.2M444.6 469.5v4.2M459.4 469.5v4.2M460.6 469.5v4.2M467.1 469.5v4.2M478.8 469.5v4.2M486.1 469.5v4.2M510.7 469.5v4.2M527 469.5v4.2M529.8 469.5v4.2M535.6 469.5v4.2M537 469.5v4.2M543.8 469.5v4.2M549 469.5v4.2M550.6 469.5v4.2M560.3 469.5v4.2M580.1 469.5v4.2M585 469.5v4.2M619.3 469.5v4.2M621.7 469.5v4.2M624 469.5v4.2M626.4 469.5v4.2M628.7 469.5v4.2M631 469.5v4.2M633.4 469.5v4.2M643.5 469.5v4.2M652 469.5v4.2M662 469.5v4.2M663 469.5v4.2" stroke="#222" stroke-width="0.9"/>
<path d="M241.3 495.6v8M399.2 495.6v8M621.5 495.6v8M632 495.6v8M642.8 495.6v8M652 495.6v8M662.4 495.6v8" stroke="#1a9a3c" stroke-width="1.9"/>
<line x1="405.5" y1="498.9" x2="414" y2="498.9" stroke="#888" stroke-width="0.7" />
<path d="M404.8 498.9l2.6-1.8M404.8 498.9l2.6 1.8" stroke="#888" stroke-width="0.7" fill="none"/>
<text x="416.7" y="502.4" font-size="9.5" fill="#333" >rs10207628</text>
<line x1="76" y1="513" x2="697.3" y2="513" stroke="#111" stroke-width="1.2" />
<line x1="76.5" y1="513" x2="76.5" y2="515.6" stroke="#111" stroke-width="1" />
<text x="76.5" y="524" font-size="8.1" text-anchor="middle" fill="#333" >127.80</text>
<line x1="200.7" y1="513" x2="200.7" y2="515.6" stroke="#111" stroke-width="1" />
<text x="200.7" y="524" font-size="8.1" text-anchor="middle" fill="#333" >127.82</text>
<line x1="324.8" y1="513" x2="324.8" y2="515.6" stroke="#111" stroke-width="1" />
<text x="324.8" y="524" font-size="8.1" text-anchor="middle" fill="#333" >127.84</text>
<line x1="449" y1="513" x2="449" y2="515.6" stroke="#111" stroke-width="1" />
<text x="449" y="524" font-size="8.1" text-anchor="middle" fill="#333" >127.86</text>
<line x1="573.1" y1="513" x2="573.1" y2="515.6" stroke="#111" stroke-width="1" />
<text x="573.1" y="524" font-size="8.1" text-anchor="middle" fill="#333" >127.88</text>
<line x1="697.2" y1="513" x2="697.2" y2="515.6" stroke="#111" stroke-width="1" />
<text x="697.2" y="524" font-size="8.1" text-anchor="middle" fill="#333" >127.90</text>
<text x="701.2" y="534.6" font-size="9.1" text-anchor="middle" fill="#333" >Mb</text>
<line x1="398.7" y1="514" x2="398.7" y2="969" stroke="#aaa" stroke-width="1" stroke-dasharray="3.8 4.6"/>
<line x1="478.3" y1="651" x2="478.3" y2="969" stroke="#aaa" stroke-width="1" stroke-dasharray="3.8 4.6"/>
<text x="3.8" y="594.6" font-size="14" fill="#2a2a2a" >Transcript</text>
<text x="107.4" y="532.6" font-size="6.3" text-anchor="end" fill="#ebc69e" >BIN1-013</text>
<text x="122" y="541.1" font-size="6.3" text-anchor="end" fill="#ebc69e" >BIN1-016</text>
<text x="122" y="549.6" font-size="6.3" text-anchor="end" fill="#ebc69e" >BIN1-014</text>
<text x="107.4" y="558.1" font-size="6.3" text-anchor="end" fill="#ebc69e" >BIN1-012</text>
<text x="107.4" y="566.6" font-size="6.3" text-anchor="end" fill="#ebc69e" >BIN1-011</text>
<text x="107.4" y="575.1" font-size="6.3" text-anchor="end" fill="#ebc69e" >BIN1-002</text>
<text x="107.4" y="583.6" font-size="6.3" text-anchor="end" fill="#ebc69e" >BIN1-006</text>
<text x="107.4" y="592.1" font-size="6.3" text-anchor="end" fill="#ebc69e" >BIN1-010</text>
<text x="107.4" y="600.6" font-size="6.3" text-anchor="end" fill="#ebc69e" >BIN1-004</text>
<text x="107.4" y="609.1" font-size="6.3" text-anchor="end" fill="#ebc69e" >BIN1-005</text>
<text x="107.4" y="617.6" font-size="6.3" text-anchor="end" fill="#ebc69e" >BIN1-007</text>
<text x="107.4" y="626.1" font-size="6.3" text-anchor="end" fill="#ebc69e" >BIN1-003</text>
<text x="107.4" y="634.6" font-size="6.3" text-anchor="end" fill="#ebc69e" >BIN1-008</text>
<text x="107.4" y="643.1" font-size="6.3" text-anchor="end" fill="#ebc69e" >BIN1-001</text>
<path d="M114.5 530.6H137.6M125.7 539.1H215M125.7 547.6H215M114.5 556.1H477M114.5 564.6H477M114.5 573.1H477M114.5 581.6H477M114.5 590.1H477M114.5 598.6H477M114.5 607.1H477M114.5 615.6H477M114.5 624.1H477M114.5 632.6H477M114.5 641.1H477" stroke="#ebc69e" stroke-width="1.2" fill="none"/>
<path d="M126.2 527.4v6.4M128.5 527.4v6.4M130.8 527.4v6.4M126.2 535.9v6.4M128.5 535.9v6.4M130.8 535.9v6.4M170 535.9v6.4M179.7 535.9v6.4M198.4 535.9v6.4M207.7 535.9v6.4M210.1 535.9v6.4M215 535.9v6.4M126.2 544.4v6.4M128.5 544.4v6.4M130.8 544.4v6.4M179.7 544.4v6.4M198.4 544.4v6.4M207.7 544.4v6.4M210.1 544.4v6.4M215 544.4v6.4M126.2 552.9v6.4M128.5 552.9v6.4M179.7 552.9v6.4M198.4 552.9v6.4M207.7 552.9v6.4M210.1 552.9v6.4M241.1 552.9v6.4M247.5 552.9v6.4M250.8 552.9v6.4M252.4 552.9v6.4M288.5 552.9v6.4M189.2 552.9v6.4M476.4 552.9v6.4M126.2 561.4v6.4M128.5 561.4v6.4M130.8 561.4v6.4M179.7 561.4v6.4M198.4 561.4v6.4M207.7 561.4v6.4M210.1 561.4v6.4M241.1 561.4v6.4M247.5 561.4v6.4M250.8 561.4v6.4M252.4 561.4v6.4M288.5 561.4v6.4M126.2 569.9v6.4M128.5 569.9v6.4M130.8 569.9v6.4M179.7 569.9v6.4M198.4 569.9v6.4M207.7 569.9v6.4M210.1 569.9v6.4M241.1 569.9v6.4M247.5 569.9v6.4M250.8 569.9v6.4M252.4 569.9v6.4M288.5 569.9v6.4M137.6 569.9v6.4M144.4 569.9v6.4M148 569.9v6.4M236.3 569.9v6.4M126.2 578.4v6.4M128.5 578.4v6.4M130.8 578.4v6.4M179.7 578.4v6.4M198.4 578.4v6.4M207.7 578.4v6.4M210.1 578.4v6.4M241.1 578.4v6.4M247.5 578.4v6.4M250.8 578.4v6.4M252.4 578.4v6.4M288.5 578.4v6.4M170 578.4v6.4M126.2 586.9v6.4M128.5 586.9v6.4M179.7 586.9v6.4M198.4 586.9v6.4M207.7 586.9v6.4M210.1 586.9v6.4M241.1 586.9v6.4M247.5 586.9v6.4M250.8 586.9v6.4M252.4 586.9v6.4M288.5 586.9v6.4M126.2 595.4v6.4M128.5 595.4v6.4M130.8 595.4v6.4M179.7 595.4v6.4M198.4 595.4v6.4M207.7 595.4v6.4M210.1 595.4v6.4M241.1 595.4v6.4M247.5 595.4v6.4M250.8 595.4v6.4M252.4 595.4v6.4M288.5 595.4v6.4M170 595.4v6.4M189.2 595.4v6.4M126.2 603.9v6.4M128.5 603.9v6.4M130.8 603.9v6.4M179.7 603.9v6.4M198.4 603.9v6.4M207.7 603.9v6.4M210.1 603.9v6.4M241.1 603.9v6.4M247.5 603.9v6.4M250.8 603.9v6.4M252.4 603.9v6.4M288.5 603.9v6.4M137.6 603.9v6.4M170 603.9v6.4M126.2 612.4v6.4M128.5 612.4v6.4M130.8 612.4v6.4M179.7 612.4v6.4M198.4 612.4v6.4M207.7 612.4v6.4M210.1 612.4v6.4M241.1 612.4v6.4M247.5 612.4v6.4M250.8 612.4v6.4M252.4 612.4v6.4M288.5 612.4v6.4M137.6 612.4v6.4M126.2 620.9v6.4M128.5 620.9v6.4M130.8 620.9v6.4M179.7 620.9v6.4M198.4 620.9v6.4M207.7 620.9v6.4M210.1 620.9v6.4M241.1 620.9v6.4M247.5 620.9v6.4M250.8 620.9v6.4M252.4 620.9v6.4M288.5 620.9v6.4M137.6 620.9v6.4M236.3 620.9v6.4M126.2 629.4v6.4M128.5 629.4v6.4M130.8 629.4v6.4M179.7 629.4v6.4M198.4 629.4v6.4M207.7 629.4v6.4M210.1 629.4v6.4M241.1 629.4v6.4M247.5 629.4v6.4M250.8 629.4v6.4M252.4 629.4v6.4M288.5 629.4v6.4M189.2 629.4v6.4M126.2 637.9v6.4M128.5 637.9v6.4M130.8 637.9v6.4M179.7 637.9v6.4M198.4 637.9v6.4M207.7 637.9v6.4M210.1 637.9v6.4M241.1 637.9v6.4M247.5 637.9v6.4M250.8 637.9v6.4M252.4 637.9v6.4M288.5 637.9v6.4M137.6 637.9v6.4M144.4 637.9v6.4M148 637.9v6.4M170 637.9v6.4M236.3 637.9v6.4" stroke="#ebc69e" stroke-width="0.9"/>
<path d="M111 527.3h3.6v6.6h-3.6zM137.6 526.9h26v7.4h-26zM111 552.8h3.6v6.6h-3.6zM111 561.3h3.6v6.6h-3.6zM475.9 561.3h2.7v6.6h-2.7zM111 569.8h3.6v6.6h-3.6zM475.9 569.8h2.7v6.6h-2.7zM111 578.3h3.6v6.6h-3.6zM475.9 578.3h2.7v6.6h-2.7zM111 586.8h3.6v6.6h-3.6zM475.9 586.8h2.7v6.6h-2.7zM111 595.3h3.6v6.6h-3.6zM475.9 595.3h2.7v6.6h-2.7zM111 603.8h3.6v6.6h-3.6zM475.9 603.8h2.7v6.6h-2.7zM111 612.3h3.6v6.6h-3.6zM475.9 612.3h2.7v6.6h-2.7zM111 620.8h3.6v6.6h-3.6zM475.9 620.8h2.7v6.6h-2.7zM111 629.3h3.6v6.6h-3.6zM475.9 629.3h2.7v6.6h-2.7zM111 637.8h3.6v6.6h-3.6zM475.9 637.8h2.7v6.6h-2.7z" fill="#ebc69e"/>
<path d="M76.5 652.9V650.7H697V652.9M200.65 650.7v2.2M324.8 650.7v2.2M448.95 650.7v2.2M573.1 650.7v2.2" fill="none" stroke="#111" stroke-width="1.1"/>
<path d="M76.5 678V678H77.5V677.5H78.5V677.6H79.5V677.8H80.5V677.9H81.5V677.8H82.5V677.8H83.5V678H84.5V677.7H85.5V677.4H86.5V677.5H87.5V678H88.5V677.8H89.5V678H90.5V677.9H91.5V677.8H92.5V677.7H93.5V677.9H94.5V677.9H95.5V677.8H96.5V677.6H97.5V677.4H98.5V677.4H99.5V677.4H100.5V677.3H101.5V677.3H102.5V677.2H103.5V677.4H104.5V677.5H105.5V678H106.5V677.7H107.5V677.9H108.5V677.7H109.5V677.9H110.5V677.7H111.5V677.9H112.5V677.8H113.5V677.6H114.5V677.9H115.5V677.7H116.5V677.9H117.5V677.9H118.5V677.6H119.5V677.6H120.5V677.8H121.5V677.7H122.5V677.4H123.5V678H124.5V673.4H125.5V673.2H126.5V673.2H127.5V677.7H128.5V677.8H129.5V677.9H130.5V677.7H131.5V677.5H132.5V677.8H133.5V677.8H134.5V677.4H135.5V677.9H136.5V677.9H137.5V677.7H138.5V677.8H139.5V678H140.5V677.9H141.5V677.7H142.5V677.8H143.5V678H144.5V677.8H145.5V677.8H146.5V677.6H147.5V677.8H148.5V677.9H149.5V677.8H150.5V677.6H151.5V677.4H152.5V677.4H153.5V677.7H154.5V677.8H155.5V678H156.5V677.6H157.5V677.6H158.5V677.6H159.5V677.8H160.5V677.5H161.5V677.4H162.5V677.9H163.5V677.5H164.5V677.9H165.5V677.5H166.5V677.3H167.5V677.4H168.5V677.8H169.5V677.8H170.5V677.4H171.5V677.9H172.5V677.7H173.5V677.9H174.5V678H175.5V677.9H176.5V677.7H177.5V677.9H178.5V677.9H179.5V678H180.5V677.9H181.5V677.6H182.5V677.8H183.5V677.6H184.5V677.9H185.5V677.5H186.5V677.5H187.5V677.8H188.5V677.3H189.5V678H190.5V677.8H191.5V677.5H192.5V677.5H193.5V677.1H194.5V677.7H195.5V677.8H196.5V677.8H197.5V677.7H198.5V677.9H199.5V677.9H200.5V677.9H201.5V677.6H202.5V678H203.5V677.7H204.5V677.9H205.5V677.9H206.5V677.3H207.5V677.5H208.5V677.7H209.5V677.8H210.5V677.8H211.5V677.8H212.5V677.5H213.5V677.7H214.5V677.6H215.5V678H216.5V677.8H217.5V677.7H218.5V677.8H219.5V677.6H220.5V677.8H221.5V678H222.5V677.9H223.5V677.9H224.5V677.3H225.5V678H226.5V677.9H227.5V677.6H228.5V677.8H229.5V677.8H230.5V677.7H231.5V677.3H232.5V677.7H233.5V677.4H234.5V674.1H235.5V674.6H236.5V674.2H237.5V677.8H238.5V677.8H239.5V677.8H240.5V677.9H241.5V677.9H242.5V677.5H243.5V677.9H244.5V677.7H245.5V678H246.5V677.8H247.5V677.8H248.5V677.7H249.5V677.9H250.5V677.9H251.5V678H252.5V677.8H253.5V677.9H254.5V677.8H255.5V677.9H256.5V678H257.5V677.8H258.5V677.5H259.5V677.7H260.5V677.7H261.5V677.7H262.5V677.9H263.5V677.8H264.5V677.9H265.5V677.8H266.5V677.6H267.5V677.7H268.5V677.5H269.5V678H270.5V677.6H271.5V678H272.5V677.5H273.5V677.4H274.5V677.5H275.5V677.8H276.5V677.8H277.5V677.5H278.5V677.9H279.5V677.7H280.5V677.8H281.5V677.9H282.5V677.7H283.5V677.9H284.5V677.9H285.5V678H286.5V677.8H287.5V677.7H288.5V677.7H289.5V677.8H290.5V677.6H291.5V677.9H292.5V677.4H293.5V677.7H294.5V677.8H295.5V677.8H296.5V677.8H297.5V678H298.5V678H299.5V677.2H300.5V677.9H301.5V677.6H302.5V677.8H303.5V677.5H304.5V677.5H305.5V677.7H306.5V677.7H307.5V677.4H308.5V678H309.5V677.6H310.5V677.9H311.5V677.3H312.5V677.9H313.5V677.8H314.5V677.8H315.5V677.9H316.5V677.8H317.5V677.7H318.5V677.5H319.5V677.9H320.5V677.9H321.5V677.9H322.5V677.7H323.5V677.4H324.5V677.9H325.5V677.8H326.5V677.7H327.5V677.8H328.5V677.6H329.5V677.9H330.5V677.7H331.5V677.3H332.5V677.7H333.5V677.8H334.5V673.9H335.5V673.5H336.5V673.9H337.5V677.8H338.5V677.5H339.5V677.6H340.5V677.8H341.5V678H342.5V677.6H343.5V677.6H344.5V677.9H345.5V677.6H346.5V677.8H347.5V677.8H348.5V677.3H349.5V677.8H350.5V677.9H351.5V677.8H352.5V677.9H353.5V678H354.5V677.8H355.5V677.9H356.5V677.6H357.5V677.9H358.5V677.9H359.5V677.8H360.5V677.6H361.5V677.8H362.5V677.5H363.5V677.9H364.5V677.9H365.5V677.9H366.5V677.8H367.5V677.9H368.5V677.8H369.5V677.9H370.5V677.4H371.5V677.5H372.5V677.8H373.5V677.4H374.5V677.9H375.5V677.9H376.5V677.9H377.5V677.6H378.5V677.9H379.5V676.7H380.5V677.6H381.5V677.9H382.5V677.9H383.5V677.9H384.5V677.4H385.5V677.6H386.5V677.8H387.5V678H388.5V677.4H389.5V677.8H390.5V677.9H391.5V677H392.5V677.7H393.5V677.7H394.5V678H395.5V678H396.5V677.7H397.5V674H398.5V671.5H399.5V668H400.5V666.5H401.5V668.3H402.5V671H403.5V674H404.5V673.1H405.5V675H406.5V677.9H407.5V677.3H408.5V677.7H409.5V677.7H410.5V676.3H411.5V674H412.5V672.1H413.5V669.7H414.5V671.5H415.5V673.9H416.5V676.1H417.5V677.9H418.5V678H419.5V677.7H420.5V677.8H421.5V677.8H422.5V677H423.5V677.6H424.5V677.8H425.5V677.9H426.5V677.6H427.5V677.8H428.5V677.9H429.5V677.1H430.5V677.9H431.5V677.8H432.5V677.4H433.5V677.4H434.5V677.5H435.5V677.6H436.5V677.2H437.5V677.8H438.5V678H439.5V677.7H440.5V678H441.5V677.9H442.5V677.5H443.5V677.8H444.5V677.8H445.5V677.9H446.5V677.8H447.5V677.3H448.5V677H449.5V677.2H450.5V677H451.5V677H452.5V676.7H453.5V676.7H454.5V676.6H455.5V676.2H456.5V676.3H457.5V676.2H458.5V676.2H459.5V675.9H460.5V676H461.5V675.7H462.5V675.5H463.5V675.6H464.5V675.6H465.5V675.7H466.5V675H467.5V675.1H468.5V674.9H469.5V675.4H470.5V675.1H471.5V674.5H472.5V675.1H473.5V674.4H474.5V674.6H475.5V670.5H476.5V665.6H477.5V661.6H478.5V663.4H479.5V666.3H480.5V669.6H481.5V674.8H482.5V675.3H483.5V675.5H484.5V675.1H485.5V675.2H486.5V677.5H487.5V677.7H488.5V677.6H489.5V677.8H490.5V678H491.5V677.9H492.5V677.9H493.5V677.7H494.5V678H495.5V677.5H496.5V678H497.5V677.5H498.5V677.9H499.5V677.6H500.5V677.6H501.5V678H502.5V678H503.5V677.4H504.5V677.7H505.5V677.2H506.5V677.5H507.5V677.4H508.5V677.8H509.5V677.8H510.5V677.9H511.5V677.5H512.5V677.5H513.5V677.8H514.5V677.7H515.5V677.9H516.5V677.5H517.5V677.9H518.5V677.7H519.5V677.4H520.5V677.8H521.5V677.9H522.5V677.6H523.5V677.5H524.5V677.8H525.5V677.7H526.5V677.8H527.5V677.9H528.5V677.9H529.5V677.6H530.5V677.4H531.5V677.9H532.5V677.9H533.5V677.8H534.5V677.3H535.5V678H536.5V677.6H537.5V677.2H538.5V677.7H539.5V678H540.5V677.9H541.5V677.1H542.5V677.8H543.5V677.4H544.5V677.7H545.5V677.8H546.5V677.7H547.5V677.5H548.5V677.7H549.5V677.5H550.5V677.9H551.5V678H552.5V677.7H553.5V677.5H554.5V678H555.5V677.6H556.5V677.6H557.5V677.7H558.5V677.9H559.5V677.3H560.5V678H561.5V677.7H562.5V677.9H563.5V677.6H564.5V677.6H565.5V677.7H566.5V677.9H567.5V677.8H568.5V677.9H569.5V677.6H570.5V677.9H571.5V677.9H572.5V677.6H573.5V677.6H574.5V677.7H575.5V677.9H576.5V677.9H577.5V677.6H578.5V677.6H579.5V677.7H580.5V677.9H581.5V677.9H582.5V677.7H583.5V677.7H584.5V677.7H585.5V677.9H586.5V677.6H587.5V677.9H588.5V678H589.5V677.8H590.5V678H591.5V677.7H592.5V677.6H593.5V677.5H594.5V677.7H595.5V677.9H596.5V677.5H597.5V677.8H598.5V677.6H599.5V677.6H600.5V677.7H601.5V677.5H602.5V677.7H603.5V677.8H604.5V677.7H605.5V677.6H606.5V677.9H607.5V678H608.5V677.8H609.5V677.7H610.5V677.7H611.5V677.7H612.5V677.8H613.5V677.9H614.5V677.8H615.5V677.6H616.5V677.5H617.5V677.8H618.5V677.9H619.5V677.5H620.5V677.8H621.5V677.6H622.5V677.6H623.5V677.6H624.5V678H625.5V677.9H626.5V677.6H627.5V677.9H628.5V677.9H629.5V677.5H630.5V677.9H631.5V677.8H632.5V678H633.5V677.8H634.5V677.8H635.5V677.9H636.5V677.8H637.5V677.4H638.5V677.7H639.5V677.9H640.5V677.7H641.5V677.5H642.5V677.6H643.5V677.7H644.5V677.9H645.5V677.6H646.5V677.9H647.5V677.4H648.5V677.9H649.5V677.6H650.5V677.9H651.5V677.6H652.5V677.9H653.5V677.7H654.5V677.7H655.5V677.6H656.5V677.5H657.5V677.8H658.5V677.3H659.5V677.7H660.5V677.5H661.5V677.7H662.5V677.7H663.5V677.4H664.5V677.9H665.5V677.4H666.5V677.8H667.5V677.4H668.5V677.1H669.5V677.9H670.5V677.2H671.5V677.8H672.5V677.7H673.5V678H674.5V677.9H675.5V677.8H676.5V677.4H677.5V677.6H678.5V677.8H679.5V677.9H680.5V677.5H681.5V677.4H682.5V677.3H683.5V677.7H684.5V677.4H685.5V678H686.5V677.9H687.5V677.5H688.5V677.9H689.5V677.9H690.5V677.5H691.5V677.5H692.5V677.7H693.5V677.5H694.5V677.4H695.5V677.6H696.5V677.7H697.5V678Z" fill="#5cc0cb"/>
<path d="M74.4 658.9H76.6V678M74.4 678H697" fill="none" stroke="#222" stroke-width="1.2"/>
<text x="71" y="661.1" font-size="5.4" text-anchor="end" fill="#333" >592.84</text>
<text x="71" y="680.1" font-size="5.4" text-anchor="end" fill="#333" >0.24</text>
<text x="45.6" y="671.2" font-size="9.5" text-anchor="middle" fill="#222" >ATAC</text>
<path d="M76.5 703.4V703.2H77.5V702.9H78.5V702.9H79.5V703.3H80.5V702.9H81.5V703.2H82.5V703.2H83.5V703.1H84.5V703.4H85.5V703H86.5V702.9H87.5V703H88.5V702.9H89.5V703.3H90.5V703.2H91.5V703.3H92.5V702.7H93.5V703.1H94.5V702.8H95.5V703.4H96.5V703.4H97.5V703.3H98.5V703.2H99.5V702.9H100.5V703.1H101.5V703.1H102.5V703.3H103.5V703.2H104.5V703.1H105.5V703.1H106.5V703.3H107.5V703.2H108.5V703.1H109.5V703.2H110.5V703.1H111.5V703.4H112.5V703.3H113.5V703.3H114.5V703.3H115.5V703.3H116.5V702.8H117.5V702.8H118.5V703.1H119.5V703.2H120.5V702.9H121.5V703.3H122.5V703.4H123.5V703.2H124.5V702.9H125.5V703.3H126.5V703H127.5V703.1H128.5V702.9H129.5V703H130.5V703.1H131.5V703.2H132.5V703.4H133.5V703.2H134.5V703.1H135.5V703H136.5V702.7H137.5V703H138.5V703H139.5V702.9H140.5V703.3H141.5V703.2H142.5V702.7H143.5V702.5H144.5V703.1H145.5V703H146.5V703H147.5V703H148.5V703H149.5V702.9H150.5V703H151.5V703H152.5V703.3H153.5V703.1H154.5V703.4H155.5V703H156.5V702.9H157.5V703.3H158.5V702.9H159.5V702.6H160.5V702.8H161.5V703.1H162.5V703.4H163.5V703.2H164.5V702.7H165.5V703.3H166.5V702.9H167.5V702.9H168.5V703.2H169.5V703.3H170.5V703.2H171.5V703.2H172.5V703.3H173.5V703.1H174.5V703.2H175.5V703.4H176.5V703H177.5V703.1H178.5V702.4H179.5V703.2H180.5V702.6H181.5V703.2H182.5V703.3H183.5V703.1H184.5V703.2H185.5V703.2H186.5V703.2H187.5V703.4H188.5V703.3H189.5V703.2H190.5V703H191.5V703.4H192.5V703.1H193.5V703.2H194.5V703.2H195.5V703.2H196.5V702.5H197.5V703.3H198.5V703H199.5V702.7H200.5V703.4H201.5V703.3H202.5V703H203.5V702.8H204.5V703.3H205.5V703.3H206.5V703.4H207.5V703H208.5V703H209.5V703.3H210.5V702.8H211.5V703.3H212.5V702.8H213.5V703H214.5V703.4H215.5V703.1H216.5V703H217.5V702.9H218.5V703.3H219.5V703.2H220.5V702.9H221.5V703.1H222.5V703.3H223.5V703.4H224.5V703.4H225.5V703H226.5V703.2H227.5V703.2H228.5V703.4H229.5V703.3H230.5V703.3H231.5V702.6H232.5V702.4H233.5V702.5H234.5V702.5H235.5V702.5H236.5V702.5H237.5V703.2H238.5V703.1H239.5V702.9H240.5V703.4H241.5V703H242.5V703.3H243.5V703H244.5V703.1H245.5V703.4H246.5V702.9H247.5V703.2H248.5V703.3H249.5V702.9H250.5V703.1H251.5V702.7H252.5V703.3H253.5V703.3H254.5V703H255.5V702.6H256.5V702.9H257.5V702.5H258.5V702.8H259.5V703.1H260.5V703.3H261.5V702.5H262.5V703.4H263.5V703.2H264.5V702.4H265.5V702.4H266.5V702.5H267.5V702.6H268.5V702.5H269.5V702.6H270.5V703H271.5V702.9H272.5V703H273.5V703.1H274.5V702.8H275.5V703.3H276.5V703.1H277.5V703.4H278.5V703.2H279.5V702.6H280.5V703H281.5V703.4H282.5V703.2H283.5V702.9H284.5V702.7H285.5V703.1H286.5V703.3H287.5V703.2H288.5V703.1H289.5V703.1H290.5V703.1H291.5V703.1H292.5V703.1H293.5V703.4H294.5V703.3H295.5V702.9H296.5V703.1H297.5V703.4H298.5V703.2H299.5V702.9H300.5V703.1H301.5V703.1H302.5V703H303.5V703.1H304.5V703H305.5V703.3H306.5V703H307.5V703.1H308.5V703.4H309.5V703.3H310.5V702.9H311.5V702.9H312.5V703.1H313.5V702.8H314.5V702.4H315.5V701.7H316.5V702H317.5V701.9H318.5V702H319.5V702.1H320.5V702.1H321.5V702.4H322.5V702.3H323.5V702.6H324.5V703.4H325.5V703.1H326.5V703.1H327.5V702.7H328.5V702.6H329.5V703.4H330.5V703.3H331.5V703H332.5V703.4H333.5V703.2H334.5V702.9H335.5V703.3H336.5V703.3H337.5V703.2H338.5V703.3H339.5V702.9H340.5V702.8H341.5V703H342.5V703.1H343.5V703.2H344.5V703.3H345.5V702.7H346.5V702.5H347.5V703.2H348.5V703.3H349.5V703.2H350.5V703.3H351.5V703.3H352.5V703H353.5V703.1H354.5V703.3H355.5V703.4H356.5V703.4H357.5V702.6H358.5V703.3H359.5V703.4H360.5V703.1H361.5V703.3H362.5V703.2H363.5V703.2H364.5V703.3H365.5V703.3H366.5V703.4H367.5V702.7H368.5V702.3H369.5V702.6H370.5V703.1H371.5V703.4H372.5V702.8H373.5V703H374.5V702.9H375.5V702.4H376.5V703.3H377.5V703.1H378.5V703.3H379.5V703.1H380.5V703.4H381.5V702.6H382.5V703H383.5V702.9H384.5V703.3H385.5V702.9H386.5V703.4H387.5V703H388.5V703.2H389.5V703H390.5V702.9H391.5V702.9H392.5V702.9H393.5V703.2H394.5V703H395.5V703H396.5V703.3H397.5V703.2H398.5V703.2H399.5V702.9H400.5V703.3H401.5V703.4H402.5V703.4H403.5V703.4H404.5V703.3H405.5V703.2H406.5V703.4H407.5V703.3H408.5V703.2H409.5V703.3H410.5V703.4H411.5V702.7H412.5V703.2H413.5V703.3H414.5V703.1H415.5V703.3H416.5V703.4H417.5V703.3H418.5V703.4H419.5V703.2H420.5V702.8H421.5V702.8H422.5V702.8H423.5V703.3H424.5V703.2H425.5V703.3H426.5V703.2H427.5V703.1H428.5V703H429.5V703.3H430.5V702.4H431.5V703H432.5V703.3H433.5V703.3H434.5V703.2H435.5V703.3H436.5V702.9H437.5V703.2H438.5V703.2H439.5V703.1H440.5V703.2H441.5V702.7H442.5V703H443.5V703.3H444.5V703.3H445.5V703.3H446.5V703.3H447.5V702.9H448.5V701.5H449.5V701.7H450.5V701.6H451.5V701.6H452.5V701.3H453.5V701.3H454.5V700.9H455.5V700.3H456.5V700.8H457.5V700H458.5V700.2H459.5V700.1H460.5V699.6H461.5V699.5H462.5V696.1H463.5V695.6H464.5V697H465.5V696.9H466.5V696.1H467.5V696.5H468.5V696.2H469.5V695.4H470.5V694.2H471.5V692.1H472.5V686.1H473.5V689.5H474.5V694.7H475.5V695.4H476.5V695.6H477.5V696.9H478.5V698.5H479.5V697.9H480.5V698.4H481.5V696.6H482.5V698.1H483.5V700.7H484.5V703.3H485.5V703H486.5V703.4H487.5V702.3H488.5V703.3H489.5V703.3H490.5V702.9H491.5V703.2H492.5V702.5H493.5V702.9H494.5V702.9H495.5V703.1H496.5V702.9H497.5V703.1H498.5V703.2H499.5V703.2H500.5V703.2H501.5V703.3H502.5V703.2H503.5V703.4H504.5V703.3H505.5V703.3H506.5V703.3H507.5V703.2H508.5V702.7H509.5V703.3H510.5V702.8H511.5V703.2H512.5V703.2H513.5V703.4H514.5V703.4H515.5V703.4H516.5V702.9H517.5V703H518.5V703.1H519.5V702.9H520.5V703.2H521.5V703.3H522.5V703.1H523.5V703.3H524.5V703.1H525.5V703H526.5V703.4H527.5V703.3H528.5V702.7H529.5V703.3H530.5V703.1H531.5V702.9H532.5V703.1H533.5V702.8H534.5V703.2H535.5V702.7H536.5V703.2H537.5V703.2H538.5V703.1H539.5V703.1H540.5V702.9H541.5V702.8H542.5V703.3H543.5V703H544.5V702.5H545.5V703.3H546.5V703.1H547.5V703.3H548.5V703.4H549.5V703.3H550.5V703.2H551.5V703.3H552.5V703.3H553.5V702.8H554.5V703.1H555.5V702.9H556.5V703.3H557.5V703.2H558.5V703.3H559.5V703H560.5V703H561.5V703.3H562.5V703H563.5V702.5H564.5V703.3H565.5V703.2H566.5V703.2H567.5V703H568.5V702.5H569.5V703.3H570.5V703.3H571.5V702.9H572.5V703.4H573.5V703H574.5V703.4H575.5V703.3H576.5V703.2H577.5V703.3H578.5V703.2H579.5V703.1H580.5V703.2H581.5V703.3H582.5V703.2H583.5V703.3H584.5V702.9H585.5V703.2H586.5V703H587.5V703.1H588.5V703H589.5V703.1H590.5V703.3H591.5V702.6H592.5V703.1H593.5V702.7H594.5V702.8H595.5V703.2H596.5V703.4H597.5V703.2H598.5V703.1H599.5V703.4H600.5V703H601.5V703.1H602.5V703.2H603.5V702.9H604.5V703.3H605.5V703.3H606.5V703.4H607.5V703.2H608.5V703.1H609.5V703.2H610.5V703.4H611.5V702.9H612.5V703.2H613.5V702.9H614.5V702.7H615.5V703.4H616.5V703.4H617.5V702.9H618.5V702.9H619.5V703.3H620.5V703.2H621.5V703.1H622.5V703.2H623.5V703.1H624.5V703.3H625.5V703.4H626.5V703.2H627.5V702.7H628.5V703.1H629.5V703.3H630.5V703.4H631.5V703.3H632.5V703.3H633.5V703.2H634.5V703.1H635.5V703.1H636.5V703.4H637.5V703.3H638.5V703.1H639.5V702.9H640.5V703.4H641.5V703.1H642.5V702.7H643.5V703.4H644.5V703.3H645.5V703.3H646.5V702.7H647.5V703.1H648.5V703.3H649.5V703.1H650.5V703.4H651.5V703.4H652.5V703H653.5V702.9H654.5V703.4H655.5V702.8H656.5V703.2H657.5V703.3H658.5V703.1H659.5V702.5H660.5V703.4H661.5V703H662.5V703.2H663.5V702.7H664.5V703.3H665.5V703.4H666.5V703.1H667.5V703.1H668.5V703.3H669.5V703.3H670.5V702.8H671.5V703H672.5V703.3H673.5V703H674.5V703H675.5V703.3H676.5V703.3H677.5V703.1H678.5V702.7H679.5V703.3H680.5V703.4H681.5V703H682.5V703.2H683.5V703.4H684.5V703.2H685.5V703.1H686.5V702.8H687.5V703.1H688.5V703.2H689.5V703.4H690.5V703.2H691.5V703.3H692.5V703.3H693.5V703.2H694.5V702.7H695.5V703.1H696.5V702.9H697.5V703.4Z" fill="#5cc0cb"/>
<path d="M74.4 684.3H76.6V703.4M74.4 703.4H697" fill="none" stroke="#222" stroke-width="1.2"/>
<text x="71" y="686.5" font-size="5.4" text-anchor="end" fill="#333" >120.59</text>
<text x="71" y="705.5" font-size="5.4" text-anchor="end" fill="#333" >0.00</text>
<text x="45.6" y="696.5" font-size="9.5" text-anchor="middle" fill="#222" >H3K4me3</text>
<path d="M76.5 729V728.6H77.5V728.9H78.5V728.8H79.5V728.5H80.5V728.9H81.5V728.5H82.5V728.6H83.5V728.8H84.5V728.4H85.5V728.7H86.5V728.8H87.5V728.2H88.5V728.5H89.5V728.7H90.5V728.4H91.5V728.6H92.5V728.9H93.5V728.9H94.5V727.9H95.5V727.7H96.5V727.3H97.5V726.6H98.5V727.5H99.5V727.9H100.5V727.6H101.5V727.5H102.5V728.8H103.5V728.9H104.5V728.7H105.5V728.5H106.5V728.9H107.5V729H108.5V728.7H109.5V728.8H110.5V728.3H111.5V728.9H112.5V728.9H113.5V728.9H114.5V728.7H115.5V728.6H116.5V728.9H117.5V728.9H118.5V728.5H119.5V728.8H120.5V728.6H121.5V723.8H122.5V724.1H123.5V724H124.5V723.3H125.5V723.6H126.5V724H127.5V724H128.5V728.8H129.5V726.1H130.5V724.2H131.5V723H132.5V724.9H133.5V724.7H134.5V722.1H135.5V720H136.5V722.1H137.5V723.3H138.5V722.9H139.5V723.2H140.5V724.9H141.5V726.5H142.5V728.8H143.5V728.2H144.5V728H145.5V727.5H146.5V727.2H147.5V726.7H148.5V726.6H149.5V727.2H150.5V726.8H151.5V726H152.5V726.1H153.5V727H154.5V727.3H155.5V726.7H156.5V725.9H157.5V725.5H158.5V725.8H159.5V726.1H160.5V726.1H161.5V726.4H162.5V726.3H163.5V726.8H164.5V727.5H165.5V727.5H166.5V727.5H167.5V727.1H168.5V727.1H169.5V727.7H170.5V728.7H171.5V729H172.5V727.6H173.5V727.4H174.5V726.2H175.5V725.6H176.5V725.5H177.5V725H178.5V726.6H179.5V726.9H180.5V725.8H181.5V726.3H182.5V727.3H183.5V727.9H184.5V728.9H185.5V728.4H186.5V727.9H187.5V727.7H188.5V727.8H189.5V728H190.5V727.8H191.5V727.4H192.5V727.6H193.5V727.9H194.5V727.9H195.5V728H196.5V727.8H197.5V727.5H198.5V727.7H199.5V727.6H200.5V727.4H201.5V727.4H202.5V727.8H203.5V728.1H204.5V728.1H205.5V728.1H206.5V728H207.5V728.3H208.5V728.5H209.5V728.9H210.5V728H211.5V727.5H212.5V726.5H213.5V727.1H214.5V726.3H215.5V725.9H216.5V726.1H217.5V726.2H218.5V726.6H219.5V726.8H220.5V727.3H221.5V727.1H222.5V727.3H223.5V726.6H224.5V726.1H225.5V727H226.5V727H227.5V727.3H228.5V727.7H229.5V725.4H230.5V723.1H231.5V720.4H232.5V718.2H233.5V718.6H234.5V721.5H235.5V723.1H236.5V725.7H237.5V726H238.5V726.7H239.5V725.5H240.5V725.8H241.5V726.2H242.5V725.1H243.5V724H244.5V723H245.5V723.7H246.5V723.6H247.5V724.6H248.5V725.7H249.5V724.6H250.5V726.2H251.5V726.4H252.5V725.3H253.5V726.6H254.5V721.8H255.5V719.5H256.5V718.8H257.5V717.2H258.5V718.9H259.5V721.5H260.5V721.6H261.5V720.1H262.5V716H263.5V716.3H264.5V716.8H265.5V718.1H266.5V721.7H267.5V722.1H268.5V720.9H269.5V721.4H270.5V724.6H271.5V724.7H272.5V724.6H273.5V725.6H274.5V725.1H275.5V723.1H276.5V723.7H277.5V725H278.5V724.2H279.5V725H280.5V724.1H281.5V724.3H282.5V724.9H283.5V725H284.5V726.2H285.5V726.8H286.5V726.2H287.5V724.3H288.5V724.1H289.5V725.5H290.5V726.1H291.5V725.4H292.5V723.8H293.5V723H294.5V723H295.5V723.9H296.5V723.7H297.5V723.7H298.5V724.4H299.5V725.7H300.5V726.3H301.5V726.4H302.5V727.1H303.5V727.4H304.5V726H305.5V726.1H306.5V726.5H307.5V725.9H308.5V724.3H309.5V724H310.5V724.9H311.5V725.6H312.5V725.6H313.5V724H314.5V724.2H315.5V723.6H316.5V722H317.5V723.7H318.5V725.1H319.5V725.1H320.5V723.4H321.5V724.5H322.5V726.1H323.5V726.3H324.5V726H325.5V725H326.5V726.2H327.5V728.3H328.5V728H329.5V727.6H330.5V726.9H331.5V726.7H332.5V727.2H333.5V726.6H334.5V726.1H335.5V726.5H336.5V726.1H337.5V726H338.5V726.8H339.5V726.5H340.5V726.7H341.5V727.6H342.5V727.2H343.5V726.9H344.5V727.5H345.5V727.6H346.5V727.6H347.5V727.2H348.5V727.1H349.5V727.5H350.5V728H351.5V727.9H352.5V728H353.5V727.9H354.5V727.9H355.5V728.3H356.5V728.3H357.5V728.2H358.5V728.4H359.5V728.6H360.5V728.6H361.5V728.6H362.5V728.4H363.5V728.5H364.5V728.4H365.5V728.3H366.5V728.2H367.5V728.2H368.5V728.4H369.5V728.3H370.5V728.1H371.5V728.1H372.5V728.2H373.5V728.1H374.5V728H375.5V728.1H376.5V728.3H377.5V728.1H378.5V727.8H379.5V727.9H380.5V728.2H381.5V728H382.5V727.8H383.5V727.9H384.5V728.1H385.5V728H386.5V727.9H387.5V727.8H388.5V727.8H389.5V728.3H390.5V728.2H391.5V727.9H392.5V727.6H393.5V727.5H394.5V727.8H395.5V728H396.5V728H397.5V728.2H398.5V728.2H399.5V728H400.5V727.5H401.5V727.5H402.5V727.7H403.5V727.5H404.5V727.7H405.5V727.9H406.5V727.6H407.5V727.8H408.5V727.9H409.5V728H410.5V728.1H411.5V728.1H412.5V728.1H413.5V728.1H414.5V728.2H415.5V728.1H416.5V728H417.5V727.8H418.5V728H419.5V728.1H420.5V728.1H421.5V728.2H422.5V728.2H423.5V728H424.5V727.7H425.5V728H426.5V728.2H427.5V728.1H428.5V728H429.5V728.1H430.5V727.9H431.5V727.8H432.5V728H433.5V728.3H434.5V728.1H435.5V728H436.5V728.4H437.5V728.3H438.5V728H439.5V728.2H440.5V726.7H441.5V726.3H442.5V725.9H443.5V725.4H444.5V724.7H445.5V723.5H446.5V724.2H447.5V725.6H448.5V725.4H449.5V724.3H450.5V724.4H451.5V725.2H452.5V725.2H453.5V723.7H454.5V722.5H455.5V724.2H456.5V725H457.5V724.7H458.5V725.1H459.5V724H460.5V723.7H461.5V724.4H462.5V724.3H463.5V725.4H464.5V726H465.5V725.2H466.5V724.3H467.5V725H468.5V726H469.5V726.5H470.5V726.5H471.5V727.2H472.5V723.2H473.5V718.2H474.5V714.1H475.5V719.7H476.5V723.1H477.5V723.8H478.5V721H479.5V722.6H480.5V723.4H481.5V722.4H482.5V721.7H483.5V718H484.5V720.5H485.5V722.1H486.5V719.7H487.5V721.3H488.5V719.4H489.5V720.6H490.5V722H491.5V722.3H492.5V723.2H493.5V721.9H494.5V722.3H495.5V722.8H496.5V723.8H497.5V724.7H498.5V724.8H499.5V724.9H500.5V725.6H501.5V726.4H502.5V726.3H503.5V727.1H504.5V727.3H505.5V727.4H506.5V727.9H507.5V728.3H508.5V728.5H509.5V729H510.5V728.6H511.5V728.9H512.5V728.9H513.5V728.8H514.5V728.9H515.5V728.7H516.5V728.9H517.5V728.6H518.5V728.8H519.5V728.7H520.5V728.7H521.5V728.8H522.5V728.9H523.5V728.5H524.5V728.9H525.5V728.2H526.5V728H527.5V728.2H528.5V728H529.5V727.9H530.5V727.6H531.5V727.5H532.5V727.9H533.5V727.7H534.5V727.2H535.5V727.4H536.5V727.6H537.5V723.8H538.5V724.3H539.5V723.2H540.5V721.8H541.5V721.8H542.5V719.5H543.5V721.3H544.5V713.1H545.5V711.3H546.5V714.3H547.5V711.3H548.5V710.8H549.5V723.4H550.5V724H551.5V723.2H552.5V728.4H553.5V728.5H554.5V728.9H555.5V728.7H556.5V728.9H557.5V728.9H558.5V728.6H559.5V729H560.5V728.6H561.5V728.5H562.5V728.3H563.5V728.2H564.5V727.9H565.5V727.7H566.5V727.7H567.5V727.3H568.5V727H569.5V727.7H570.5V727.8H571.5V727.3H572.5V727.3H573.5V727.7H574.5V727.9H575.5V728.1H576.5V728.1H577.5V728.8H578.5V728.8H579.5V728.5H580.5V728.3H581.5V728.6H582.5V728.9H583.5V728.6H584.5V728.1H585.5V728.5H586.5V728.5H587.5V728.2H588.5V728.9H589.5V728.6H590.5V728.4H591.5V728.8H592.5V728.9H593.5V729H594.5V729H595.5V728.8H596.5V728.6H597.5V729H598.5V728.7H599.5V728.3H600.5V728.6H601.5V728.6H602.5V728.6H603.5V728.3H604.5V728.4H605.5V728.2H606.5V728.2H607.5V728.4H608.5V728.4H609.5V728.3H610.5V728.2H611.5V728.1H612.5V728.2H613.5V728.3H614.5V728.4H615.5V728.4H616.5V728.4H617.5V728.5H618.5V728H619.5V728.6H620.5V728.8H621.5V728.9H622.5V728.7H623.5V728.9H624.5V728.7H625.5V728.9H626.5V728.9H627.5V728.9H628.5V729H629.5V728.4H630.5V728.2H631.5V728.9H632.5V728.4H633.5V728.6H634.5V729H635.5V728.9H636.5V728.7H637.5V728.7H638.5V728H639.5V729H640.5V728.9H641.5V728.6H642.5V728.8H643.5V729H644.5V728.8H645.5V728.9H646.5V729H647.5V728.9H648.5V728.7H649.5V728.4H650.5V728.7H651.5V728.9H652.5V728.9H653.5V728.8H654.5V728.8H655.5V728.6H656.5V728.4H657.5V728.8H658.5V728.9H659.5V728.7H660.5V728.5H661.5V728.9H662.5V728.8H663.5V728.8H664.5V728.6H665.5V728.5H666.5V728.4H667.5V728.9H668.5V728.5H669.5V728.6H670.5V729H671.5V728.5H672.5V729H673.5V728.5H674.5V728.9H675.5V728.8H676.5V728.6H677.5V728.9H678.5V724.9H679.5V724.9H680.5V724.4H681.5V724.5H682.5V724.9H683.5V724.7H684.5V724H685.5V723.3H686.5V724H687.5V723.8H688.5V723.5H689.5V722.2H690.5V722H691.5V722.4H692.5V723.3H693.5V720.9H694.5V720.9H695.5V722.1H696.5V722.8H697.5V729Z" fill="#5cc0cb"/>
<path d="M74.4 709.8H76.6V729M74.4 729H697" fill="none" stroke="#222" stroke-width="1.2"/>
<text x="71" y="712" font-size="5.4" text-anchor="end" fill="#333" >98.53</text>
<text x="71" y="731.1" font-size="5.4" text-anchor="end" fill="#333" >0.03</text>
<text x="45.6" y="722.4" font-size="9.5" text-anchor="middle" fill="#222" >H3K27ac</text>
<path d="M76.5 754.5V754H77.5V754.2H78.5V748.4H79.5V748.4H80.5V753.4H81.5V750H82.5V750H83.5V753.7H84.5V753.7H85.5V748.4H86.5V753.5H87.5V749.7H88.5V752.9H89.5V752.9H90.5V750.4H91.5V752.6H92.5V750.1H93.5V750.1H94.5V753.8H95.5V754.2H96.5V754.2H97.5V754.1H98.5V754.2H99.5V753.5H100.5V748.6H101.5V748.7H102.5V748.6H103.5V749.6H104.5V748.9H105.5V754.2H106.5V753.3H107.5V753.6H108.5V754.2H109.5V754.2H110.5V754.2H111.5V753.1H112.5V754H113.5V754.2H114.5V754.2H115.5V752.7H116.5V753.7H117.5V752.1H118.5V753.9H119.5V753.9H120.5V751.6H121.5V751.6H122.5V754H123.5V753.2H124.5V752.6H125.5V752.6H126.5V754.1H127.5V751.5H128.5V751.5H129.5V754H130.5V754.2H131.5V754.2H132.5V754.2H133.5V754.1H134.5V753.8H135.5V754.2H136.5V754.2H137.5V750.1H138.5V750.1H139.5V749.6H140.5V749.5H141.5V750.5H142.5V750.5H143.5V754.1H144.5V754.1H145.5V753.1H146.5V753.9H147.5V753.1H148.5V754.2H149.5V754.2H150.5V754.2H151.5V754.2H152.5V753.7H153.5V754.1H154.5V754.2H155.5V753.1H156.5V754.2H157.5V753.1H158.5V751.3H159.5V751.3H160.5V753.3H161.5V753.3H162.5V750H163.5V753.6H164.5V753.6H165.5V749.9H166.5V753.7H167.5V750.7H168.5V750.7H169.5V752.6H170.5V752.6H171.5V750H172.5V752.7H173.5V751.1H174.5V753.5H175.5V753.5H176.5V750H177.5V752.5H178.5V750.4H179.5V750.4H180.5V754.1H181.5V753.5H182.5V754.2H183.5V749H184.5V753.9H185.5V748.8H186.5V753.4H187.5V753.4H188.5V749.3H189.5V749.3H190.5V752.7H191.5V752.7H192.5V749.9H193.5V753.5H194.5V753.5H195.5V751.2H196.5V751.2H197.5V752.9H198.5V751.3H199.5V753.7H200.5V753.7H201.5V750.9H202.5V753.5H203.5V750.5H204.5V750.5H205.5V753.3H206.5V753.4H207.5V753.4H208.5V754.2H209.5V754.2H210.5V753.9H211.5V754.1H212.5V751.5H213.5V751.5H214.5V751.6H215.5V754.2H216.5V753.1H217.5V754.2H218.5V754.2H219.5V753.7H220.5V748.1H221.5V752.4H222.5V749H223.5V749H224.5V752.7H225.5V752.7H226.5V748.4H227.5V752.4H228.5V752.4H229.5V749H230.5V754.1H231.5V754.2H232.5V754.2H233.5V754.2H234.5V754.2H235.5V754.2H236.5V754.2H237.5V754.2H238.5V754.2H239.5V754.2H240.5V753.8H241.5V754.1H242.5V754.2H243.5V754.2H244.5V753.3H245.5V753.3H246.5V754.2H247.5V754H248.5V754.2H249.5V753.5H250.5V749.1H251.5V753.2H252.5V751.1H253.5V753.2H254.5V753.7H255.5V749.9H256.5V753.4H257.5V753.4H258.5V749.2H259.5V749.2H260.5V753H261.5V753H262.5V751H263.5V753.7H264.5V753.7H265.5V750.9H266.5V753H267.5V749.4H268.5V749.4H269.5V753.6H270.5V753.6H271.5V750.1H272.5V752.8H273.5V751H274.5V751H275.5V753.3H276.5V750.5H277.5V750.5H278.5V754.1H279.5V752.1H280.5V752.1H281.5V753.8H282.5V753.7H283.5V752.9H284.5V752.9H285.5V753.9H286.5V753.2H287.5V754.1H288.5V752.6H289.5V752.6H290.5V753.6H291.5V752.6H292.5V754.2H293.5V753.3H294.5V752.3H295.5V753.9H296.5V753.1H297.5V753H298.5V754.2H299.5V754.2H300.5V754.2H301.5V754.1H302.5V754.1H303.5V754.2H304.5V753.4H305.5V753.8H306.5V754H307.5V750.9H308.5V750.8H309.5V750.8H310.5V750.8H311.5V750.7H312.5V753.9H313.5V754.2H314.5V753.2H315.5V754.2H316.5V754.2H317.5V754.2H318.5V753.4H319.5V753.9H320.5V754.2H321.5V754.2H322.5V753.2H323.5V754.2H324.5V754.2H325.5V754.2H326.5V753.9H327.5V754.2H328.5V753.3H329.5V754.2H330.5V754.1H331.5V753.7H332.5V754H333.5V753.9H334.5V753.4H335.5V751.8H336.5V751.8H337.5V753.5H338.5V750.1H339.5V750.1H340.5V753.3H341.5V753.5H342.5V750.1H343.5V753H344.5V753H345.5V750.8H346.5V750.8H347.5V753.1H348.5V753.1H349.5V751.3H350.5V751.3H351.5V752.8H352.5V752.8H353.5V750.3H354.5V750.3H355.5V753.8H356.5V751.8H357.5V753.2H358.5V750.8H359.5V753.1H360.5V751.5H361.5V753.5H362.5V753.2H363.5V753H364.5V754H365.5V754.2H366.5V754.2H367.5V753.6H368.5V754.2H369.5V754.1H370.5V754.2H371.5V752H372.5V751.7H373.5V751.8H374.5V751.6H375.5V753.5H376.5V754.2H377.5V753.9H378.5V753.3H379.5V754H380.5V753.7H381.5V754.2H382.5V753.5H383.5V750.8H384.5V750.9H385.5V751.1H386.5V750.6H387.5V754.2H388.5V753.4H389.5V754H390.5V754.2H391.5V754.2H392.5V749.3H393.5V748.7H394.5V748.9H395.5V749H396.5V754.2H397.5V754.2H398.5V754.2H399.5V754.2H400.5V754.2H401.5V754.2H402.5V754.1H403.5V753.7H404.5V754.2H405.5V754.2H406.5V754.2H407.5V753.7H408.5V751.5H409.5V751.7H410.5V751.7H411.5V751.7H412.5V754.1H413.5V754H414.5V754.2H415.5V754.2H416.5V754.2H417.5V752.8H418.5V752.7H419.5V752.9H420.5V752.8H421.5V754.2H422.5V754.2H423.5V754H424.5V754.2H425.5V753.5H426.5V754.2H427.5V753.5H428.5V754H429.5V754.1H430.5V753.3H431.5V753.6H432.5V753.6H433.5V754.2H434.5V754.2H435.5V754.2H436.5V753H437.5V753.7H438.5V753.4H439.5V754.2H440.5V754.2H441.5V754.2H442.5V754.1H443.5V750.6H444.5V750.6H445.5V753.6H446.5V751H447.5V751H448.5V752.8H449.5V751.7H450.5V751.7H451.5V752.9H452.5V750.3H453.5V753.9H454.5V750.5H455.5V753.1H456.5V750.8H457.5V750.8H458.5V753.7H459.5V753.9H460.5V753.8H461.5V754.2H462.5V751.6H463.5V752H464.5V751.8H465.5V754.2H466.5V754.2H467.5V754.2H468.5V754.2H469.5V754H470.5V754.2H471.5V753.3H472.5V754.1H473.5V754.2H474.5V753.2H475.5V749.6H476.5V750.3H477.5V749.8H478.5V754.2H479.5V754.2H480.5V754.2H481.5V754.2H482.5V754.1H483.5V753.9H484.5V754.2H485.5V754.1H486.5V754H487.5V754.2H488.5V754H489.5V750.8H490.5V753.2H491.5V751.6H492.5V753.3H493.5V751.8H494.5V753.2H495.5V753.2H496.5V752H497.5V753.7H498.5V753.7H499.5V751.5H500.5V753.1H501.5V750.6H502.5V750.6H503.5V753.1H504.5V751.9H505.5V753.7H506.5V752.1H507.5V753.6H508.5V752.3H509.5V753.5H510.5V750.6H511.5V753.2H512.5V751.5H513.5V753.2H514.5V754.2H515.5V754.2H516.5V754.2H517.5V754.1H518.5V754.2H519.5V753.8H520.5V754.1H521.5V754.2H522.5V749.9H523.5V749.6H524.5V749.5H525.5V749.6H526.5V754.2H527.5V754.2H528.5V751.7H529.5V751.9H530.5V752H531.5V752H532.5V754H533.5V754.2H534.5V753.8H535.5V751.9H536.5V752H537.5V751.9H538.5V751.5H539.5V754H540.5V753.8H541.5V754.1H542.5V754.1H543.5V753.9H544.5V754.2H545.5V754.2H546.5V754.2H547.5V753.2H548.5V754.2H549.5V753.2H550.5V753.8H551.5V754.2H552.5V754.2H553.5V754.2H554.5V754.2H555.5V754.2H556.5V754.2H557.5V753.7H558.5V754.2H559.5V754H560.5V754.2H561.5V754.2H562.5V753.8H563.5V751.1H564.5V751.1H565.5V753.9H566.5V753.8H567.5V751.5H568.5V751.5H569.5V753.2H570.5V753.2H571.5V751.9H572.5V751.9H573.5V753.5H574.5V753.6H575.5V751.5H576.5V751.5H577.5V753.5H578.5V750.6H579.5V753.7H580.5V753.1H581.5V754.2H582.5V754.2H583.5V753.9H584.5V750.3H585.5V750.3H586.5V752.9H587.5V752.9H588.5V749.3H589.5V753.4H590.5V753.4H591.5V750.8H592.5V753.7H593.5V750.7H594.5V754.2H595.5V754.2H596.5V737.8H597.5V738.2H598.5V736.9H599.5V738.7H600.5V749.8H601.5V753.4H602.5V753.3H603.5V751.8H604.5V753.7H605.5V753.7H606.5V750.8H607.5V753.5H608.5V751.4H609.5V754H610.5V749.7H611.5V749.7H612.5V753.8H613.5V753.8H614.5V751.1H615.5V751.1H616.5V753.1H617.5V753.1H618.5V750.1H619.5V750.1H620.5V752.8H621.5V754H622.5V754.2H623.5V754.2H624.5V754.2H625.5V754.2H626.5V754.2H627.5V754.2H628.5V753.9H629.5V753H630.5V754.2H631.5V748.9H632.5V753.3H633.5V751H634.5V751H635.5V753.6H636.5V753.6H637.5V750.9H638.5V752.7H639.5V750.5H640.5V753H641.5V748.6H642.5V748.6H643.5V753.1H644.5V754.2H645.5V753.9H646.5V753H647.5V751.4H648.5V751.4H649.5V753.2H650.5V749.9H651.5V749.9H652.5V737H653.5V738.8H654.5V737H655.5V737H656.5V751.5H657.5V753.5H658.5V753.7H659.5V749.8H660.5V753.7H661.5V754H662.5V754.2H663.5V749.6H664.5V749.9H665.5V750.4H666.5V750.2H667.5V753.1H668.5V754.2H669.5V754.2H670.5V753.9H671.5V754.2H672.5V745.8H673.5V745.2H674.5V745.8H675.5V754.2H676.5V753.8H677.5V754.2H678.5V754H679.5V754.2H680.5V745.5H681.5V745.8H682.5V745.3H683.5V746.2H684.5V754.2H685.5V753.9H686.5V753.7H687.5V753.9H688.5V754.2H689.5V754.2H690.5V753.9H691.5V750.7H692.5V753.8H693.5V750.9H694.5V750.9H695.5V753.4H696.5V752.4H697.5V754.5Z" fill="#5cc0cb"/>
<path d="M74.4 735H76.6V754.5M74.4 754.5H697" fill="none" stroke="#222" stroke-width="1.2"/>
<text x="71" y="737.2" font-size="5.4" text-anchor="end" fill="#333" >1.28</text>
<text x="71" y="756.6" font-size="5.4" text-anchor="end" fill="#333" >0.00</text>
<text x="45.6" y="748" font-size="9.5" text-anchor="middle" fill="#222" >H3K27me3</text>
<path d="M76.5 786.3V786.2H77.5V786.1H78.5V786.2H79.5V786.3H80.5V785.3H81.5V786.2H82.5V786H83.5V786.2H84.5V786.1H85.5V785.9H86.5V785.5H87.5V785.9H88.5V786H89.5V786.1H90.5V786.3H91.5V786H92.5V785.8H93.5V786.2H94.5V785.9H95.5V785.8H96.5V786.1H97.5V786H98.5V786.2H99.5V786.1H100.5V785.9H101.5V786.1H102.5V785.5H103.5V786.2H104.5V786H105.5V786H106.5V785.9H107.5V785.8H108.5V786.3H109.5V785.5H110.5V786.3H111.5V786.2H112.5V786.1H113.5V786.1H114.5V785.8H115.5V786.2H116.5V785.8H117.5V786.1H118.5V786.1H119.5V786.3H120.5V786H121.5V786H122.5V786H123.5V785.9H124.5V780.9H125.5V780.6H126.5V786H127.5V786.3H128.5V786.2H129.5V786H130.5V785.6H131.5V785.7H132.5V786.2H133.5V786.2H134.5V785.9H135.5V786H136.5V786.1H137.5V786.2H138.5V786.2H139.5V786.3H140.5V785.4H141.5V786.3H142.5V786.2H143.5V786.3H144.5V785.9H145.5V786.3H146.5V786.1H147.5V785.7H148.5V785.9H149.5V786.1H150.5V786.3H151.5V785.8H152.5V786.1H153.5V785.8H154.5V786.3H155.5V785.9H156.5V785.9H157.5V786H158.5V786.3H159.5V785.9H160.5V786.2H161.5V785.6H162.5V786.2H163.5V786.3H164.5V785.7H165.5V786.1H166.5V785.4H167.5V786.1H168.5V785.9H169.5V786.1H170.5V785.8H171.5V786.2H172.5V786H173.5V785.7H174.5V786H175.5V786.1H176.5V785.8H177.5V786.2H178.5V785.9H179.5V786H180.5V786.2H181.5V785.6H182.5V786H183.5V786H184.5V785.9H185.5V785.8H186.5V785.8H187.5V786.2H188.5V785.7H189.5V786.3H190.5V786.1H191.5V785.7H192.5V786.2H193.5V785.7H194.5V786.1H195.5V786.2H196.5V786.1H197.5V785.8H198.5V785.8H199.5V786H200.5V786.3H201.5V786H202.5V786.2H203.5V786.2H204.5V786.2H205.5V785.6H206.5V785.9H207.5V786.3H208.5V785.9H209.5V786H210.5V785.9H211.5V785.8H212.5V786.2H213.5V786.3H214.5V786H215.5V786.2H216.5V786.2H217.5V786.2H218.5V786.2H219.5V786.3H220.5V786.1H221.5V785.8H222.5V786.2H223.5V785.8H224.5V786.3H225.5V786.1H226.5V786.1H227.5V785.8H228.5V785.9H229.5V786H230.5V786.2H231.5V785.8H232.5V786H233.5V786.1H234.5V783.7H235.5V783.5H236.5V783.4H237.5V786.1H238.5V786.2H239.5V786.1H240.5V785.7H241.5V786H242.5V786.2H243.5V785.9H244.5V786.2H245.5V785.8H246.5V786.2H247.5V786.2H248.5V786H249.5V786.2H250.5V785.9H251.5V786.1H252.5V786H253.5V785.9H254.5V786H255.5V786.3H256.5V785.7H257.5V785.9H258.5V786H259.5V786H260.5V785.7H261.5V786.2H262.5V786.2H263.5V785.9H264.5V785.6H265.5V786.2H266.5V786.2H267.5V786.2H268.5V786.2H269.5V785.8H270.5V786H271.5V786.3H272.5V785.7H273.5V785.8H274.5V785.9H275.5V786.1H276.5V786H277.5V785.9H278.5V786.3H279.5V786H280.5V786.2H281.5V786H282.5V786.3H283.5V786.3H284.5V786.2H285.5V786.3H286.5V786.2H287.5V785.9H288.5V786.2H289.5V786.2H290.5V786H291.5V786H292.5V786.3H293.5V785.8H294.5V786.3H295.5V785.8H296.5V786.2H297.5V786.1H298.5V786.3H299.5V786.1H300.5V786.2H301.5V786.2H302.5V786H303.5V786.1H304.5V786.2H305.5V786H306.5V785.2H307.5V786.2H308.5V785.8H309.5V785.9H310.5V786.1H311.5V785.9H312.5V785.9H313.5V785.9H314.5V786.3H315.5V786.1H316.5V786.2H317.5V786.2H318.5V786H319.5V786.2H320.5V786.2H321.5V785.8H322.5V785.8H323.5V786.2H324.5V785.7H325.5V786H326.5V785.9H327.5V786.1H328.5V786.1H329.5V786.2H330.5V785.7H331.5V786.3H332.5V786.2H333.5V786.1H334.5V781.2H335.5V781.1H336.5V780.8H337.5V786.2H338.5V786.2H339.5V785.9H340.5V786H341.5V785.6H342.5V786.1H343.5V786.2H344.5V785.5H345.5V786.3H346.5V786H347.5V786.2H348.5V786H349.5V786H350.5V786.3H351.5V786.2H352.5V786.1H353.5V785.9H354.5V786.3H355.5V786.2H356.5V786.1H357.5V786.2H358.5V786.1H359.5V786H360.5V786H361.5V786.1H362.5V786.1H363.5V786.2H364.5V786H365.5V785.7H366.5V786.2H367.5V785.9H368.5V786.2H369.5V785.9H370.5V786.2H371.5V785.4H372.5V785.7H373.5V785.8H374.5V785.9H375.5V785.9H376.5V786H377.5V785.8H378.5V785.9H379.5V785.8H380.5V786.2H381.5V786.2H382.5V785.8H383.5V786.2H384.5V786.2H385.5V786H386.5V786.2H387.5V785.8H388.5V786.1H389.5V786.2H390.5V785.8H391.5V786.1H392.5V785.9H393.5V786.2H394.5V785.9H395.5V786.1H396.5V786H397.5V781.4H398.5V778.2H399.5V775.2H400.5V771.8H401.5V772.1H402.5V775.7H403.5V778.9H404.5V783.5H405.5V784.1H406.5V785.8H407.5V786.2H408.5V785.7H409.5V786.3H410.5V786H411.5V781.9H412.5V778.9H413.5V777H414.5V779.9H415.5V783.6H416.5V786.1H417.5V785.9H418.5V785.3H419.5V786.2H420.5V786H421.5V786H422.5V785.9H423.5V786H424.5V786.2H425.5V786.1H426.5V786.2H427.5V785.7H428.5V785.9H429.5V785.9H430.5V786.1H431.5V786.2H432.5V785.9H433.5V786.1H434.5V786.3H435.5V785.9H436.5V786.1H437.5V785.6H438.5V786.3H439.5V785.8H440.5V785.9H441.5V786.3H442.5V786H443.5V786.3H444.5V786H445.5V786.2H446.5V785.9H447.5V785.9H448.5V786.2H449.5V785.6H450.5V786.1H451.5V786.3H452.5V786.1H453.5V786.2H454.5V786.1H455.5V786.3H456.5V785.9H457.5V785.3H458.5V785.3H459.5V785.2H460.5V784.7H461.5V784.9H462.5V784.6H463.5V784.5H464.5V783.9H465.5V783.6H466.5V784H467.5V783.4H468.5V783.8H469.5V782.9H470.5V783.3H471.5V783H472.5V782.5H473.5V782.4H474.5V781.7H475.5V782H476.5V776H477.5V770.3H478.5V771.9H479.5V777.9H480.5V786.1H481.5V786H482.5V786.2H483.5V785.8H484.5V786.1H485.5V786.2H486.5V786.3H487.5V786.1H488.5V786.1H489.5V785.8H490.5V785.9H491.5V785.9H492.5V786.3H493.5V785.9H494.5V786.2H495.5V785.6H496.5V785.9H497.5V786.1H498.5V786.2H499.5V786H500.5V785.9H501.5V786.2H502.5V786H503.5V786.2H504.5V785.9H505.5V786.1H506.5V786.2H507.5V786.1H508.5V785.9H509.5V786.1H510.5V785.4H511.5V786.1H512.5V786.2H513.5V786.2H514.5V785.3H515.5V785.8H516.5V786.2H517.5V786.2H518.5V786.1H519.5V786H520.5V786.2H521.5V786.1H522.5V786.1H523.5V785.8H524.5V786H525.5V786H526.5V786.3H527.5V785.5H528.5V786.3H529.5V786.3H530.5V786.1H531.5V785.7H532.5V786H533.5V785.7H534.5V786.3H535.5V786.2H536.5V786H537.5V786.3H538.5V785.7H539.5V786H540.5V786.2H541.5V785.6H542.5V786.3H543.5V786.2H544.5V785.9H545.5V786.3H546.5V786.1H547.5V786.3H548.5V786.3H549.5V785.9H550.5V786H551.5V785.5H552.5V785.3H553.5V786H554.5V786.3H555.5V785.4H556.5V785.9H557.5V786H558.5V786.2H559.5V786.1H560.5V786.2H561.5V786H562.5V786.2H563.5V785.8H564.5V786.1H565.5V785.7H566.5V786.3H567.5V785.9H568.5V786.3H569.5V786.3H570.5V785.5H571.5V786.2H572.5V785.7H573.5V786.2H574.5V785.9H575.5V785.6H576.5V786H577.5V785.7H578.5V786.2H579.5V785.9H580.5V786.2H581.5V785.8H582.5V786H583.5V786H584.5V786.3H585.5V785.8H586.5V785.6H587.5V785.8H588.5V786.1H589.5V786.2H590.5V786.1H591.5V786.1H592.5V786.1H593.5V786.2H594.5V785.7H595.5V785.8H596.5V786H597.5V785.7H598.5V785.6H599.5V786.2H600.5V786.2H601.5V785.6H602.5V786.2H603.5V786.1H604.5V786.2H605.5V785.7H606.5V786.2H607.5V786.2H608.5V786.2H609.5V786.2H610.5V786.1H611.5V785.8H612.5V786.2H613.5V785.3H614.5V786.2H615.5V786.2H616.5V786H617.5V786.3H618.5V786.2H619.5V785.8H620.5V785.6H621.5V785.7H622.5V785.5H623.5V786H624.5V786.1H625.5V786.2H626.5V786.2H627.5V786H628.5V786.2H629.5V786H630.5V785.9H631.5V786H632.5V786.2H633.5V786.1H634.5V786.3H635.5V785.9H636.5V785.7H637.5V786H638.5V786.3H639.5V786.1H640.5V785.8H641.5V785.9H642.5V786H643.5V786H644.5V786.2H645.5V785.8H646.5V785.9H647.5V785.9H648.5V785.9H649.5V786H650.5V786H651.5V786H652.5V785.4H653.5V785.7H654.5V786.2H655.5V786H656.5V786.1H657.5V786.3H658.5V786H659.5V786.1H660.5V785.9H661.5V786.1H662.5V786.2H663.5V785.9H664.5V785.6H665.5V785.2H666.5V786.2H667.5V786.2H668.5V785.6H669.5V786H670.5V786.3H671.5V786.2H672.5V786H673.5V786H674.5V786.1H675.5V785.9H676.5V786.1H677.5V786.3H678.5V785.7H679.5V786H680.5V785.8H681.5V786H682.5V786.2H683.5V785.7H684.5V786.2H685.5V786H686.5V786.1H687.5V786.2H688.5V785.9H689.5V785.7H690.5V786.3H691.5V785.7H692.5V786.1H693.5V785.9H694.5V785.9H695.5V785.9H696.5V785.7H697.5V786.3Z" fill="#5cc0cb"/>
<path d="M74.4 766.9H76.6V786.3M74.4 786.3H697" fill="none" stroke="#222" stroke-width="1.2"/>
<text x="71" y="769.1" font-size="5.4" text-anchor="end" fill="#333" >708.18</text>
<text x="71" y="788.4" font-size="5.4" text-anchor="end" fill="#333" >0.00</text>
<text x="45.6" y="779.6" font-size="9.5" text-anchor="middle" fill="#222" >ATAC</text>
<path d="M76.5 812V811.8H77.5V811.7H78.5V811.8H79.5V811.7H80.5V811.4H81.5V812H82.5V811.8H83.5V811.5H84.5V811.3H85.5V812H86.5V811.6H87.5V811.3H88.5V811.9H89.5V811.5H90.5V811H91.5V811.2H92.5V811.9H93.5V812H94.5V811.9H95.5V811.6H96.5V811.7H97.5V811.8H98.5V811.9H99.5V811.8H100.5V811.6H101.5V811.9H102.5V811.7H103.5V811.9H104.5V811.9H105.5V811.8H106.5V811.7H107.5V811.5H108.5V812H109.5V811.7H110.5V811.1H111.5V811.4H112.5V811.9H113.5V812H114.5V811.5H115.5V812H116.5V811.4H117.5V811.6H118.5V812H119.5V812H120.5V811.8H121.5V811.8H122.5V811.4H123.5V811.5H124.5V811.8H125.5V811.8H126.5V812H127.5V811.6H128.5V811.4H129.5V811.4H130.5V811.7H131.5V811.8H132.5V811.4H133.5V811.5H134.5V811.5H135.5V811.9H136.5V811.7H137.5V811.6H138.5V811.8H139.5V811.8H140.5V811.5H141.5V812H142.5V811.8H143.5V811.9H144.5V811.9H145.5V811.8H146.5V811.9H147.5V811H148.5V811.9H149.5V811.9H150.5V811.9H151.5V811.8H152.5V811.6H153.5V811.8H154.5V811.9H155.5V811.9H156.5V811.8H157.5V812H158.5V811.7H159.5V811.8H160.5V811.8H161.5V812H162.5V811.7H163.5V812H164.5V811.5H165.5V812H166.5V811.5H167.5V811.9H168.5V812H169.5V811.7H170.5V811.7H171.5V811.8H172.5V812H173.5V811.8H174.5V811.9H175.5V811.7H176.5V811.6H177.5V811.7H178.5V811.9H179.5V811.4H180.5V811.3H181.5V811.7H182.5V811.7H183.5V811.8H184.5V811.9H185.5V811.8H186.5V811.1H187.5V811.7H188.5V811.8H189.5V812H190.5V811.9H191.5V811.6H192.5V811.6H193.5V811.9H194.5V811.9H195.5V811.8H196.5V811.7H197.5V811.2H198.5V811.7H199.5V811.8H200.5V811.7H201.5V811.9H202.5V811.1H203.5V811.9H204.5V812H205.5V811.8H206.5V811.7H207.5V811.9H208.5V811.4H209.5V811.9H210.5V811.7H211.5V812H212.5V811.9H213.5V811.8H214.5V811.7H215.5V812H216.5V811.6H217.5V811.9H218.5V811.7H219.5V811.9H220.5V811.7H221.5V812H222.5V811.6H223.5V811.8H224.5V812H225.5V811.7H226.5V811.9H227.5V811.6H228.5V811.7H229.5V811.5H230.5V811.5H231.5V811.7H232.5V811.4H233.5V811.9H234.5V811.7H235.5V811.8H236.5V811.8H237.5V811.2H238.5V811.9H239.5V811.9H240.5V811.6H241.5V811.9H242.5V811.8H243.5V811.6H244.5V811.7H245.5V811.2H246.5V811.2H247.5V811.9H248.5V811.5H249.5V811.9H250.5V811.6H251.5V811.7H252.5V811.5H253.5V811.2H254.5V811.5H255.5V811.7H256.5V811.4H257.5V811.9H258.5V811.9H259.5V811.5H260.5V811.9H261.5V811.2H262.5V811.7H263.5V811.8H264.5V811.6H265.5V811.8H266.5V812H267.5V811.7H268.5V811.6H269.5V811.7H270.5V811.6H271.5V811.6H272.5V812H273.5V811.7H274.5V811.7H275.5V811.7H276.5V811.8H277.5V811.7H278.5V811.7H279.5V811.9H280.5V811.9H281.5V811.9H282.5V811.6H283.5V811.8H284.5V811.2H285.5V811.9H286.5V811.6H287.5V811.9H288.5V811.6H289.5V812H290.5V811.8H291.5V812H292.5V811.8H293.5V811.9H294.5V811.7H295.5V811.3H296.5V811.7H297.5V811.2H298.5V811.7H299.5V811.5H300.5V811.8H301.5V811.9H302.5V811.7H303.5V811.6H304.5V811.7H305.5V811.8H306.5V811.8H307.5V811.7H308.5V811.8H309.5V811.3H310.5V811.8H311.5V811.9H312.5V811.6H313.5V811.5H314.5V811.6H315.5V811.8H316.5V811.7H317.5V811.5H318.5V811.4H319.5V811.4H320.5V811.2H321.5V811.3H322.5V811.3H323.5V811.4H324.5V811.3H325.5V811.1H326.5V811.2H327.5V811.3H328.5V811.3H329.5V811.3H330.5V811.4H331.5V811.3H332.5V811.2H333.5V811.5H334.5V811.4H335.5V811.4H336.5V811.3H337.5V811.1H338.5V811.2H339.5V811.5H340.5V811.5H341.5V811.5H342.5V811.6H343.5V811.5H344.5V811.7H345.5V811.4H346.5V811.4H347.5V811.7H348.5V811.7H349.5V811.8H350.5V811.6H351.5V811.8H352.5V811.8H353.5V811.9H354.5V811.7H355.5V811.7H356.5V811.5H357.5V812H358.5V811.9H359.5V811.6H360.5V811.7H361.5V811.9H362.5V811.6H363.5V811.6H364.5V811.9H365.5V811.9H366.5V811.6H367.5V811.8H368.5V811.8H369.5V811.8H370.5V811.6H371.5V811.6H372.5V811.9H373.5V811.7H374.5V811.6H375.5V811.2H376.5V811.8H377.5V811.4H378.5V811.7H379.5V812H380.5V811.9H381.5V811.9H382.5V811.7H383.5V811.7H384.5V811.9H385.5V811.3H386.5V811.7H387.5V812H388.5V812H389.5V811.8H390.5V811.9H391.5V812H392.5V811.3H393.5V811.9H394.5V811.9H395.5V811.9H396.5V811.8H397.5V811.7H398.5V811.3H399.5V811.6H400.5V811.4H401.5V811.9H402.5V812H403.5V811.8H404.5V811.8H405.5V811.6H406.5V811.2H407.5V811.6H408.5V812H409.5V811.8H410.5V811.7H411.5V811.6H412.5V811.7H413.5V811.5H414.5V811.7H415.5V811.5H416.5V811.8H417.5V811.7H418.5V811.6H419.5V812H420.5V811.9H421.5V812H422.5V811.6H423.5V812H424.5V811.7H425.5V812H426.5V811H427.5V812H428.5V811.9H429.5V811.7H430.5V811.9H431.5V811.8H432.5V811.9H433.5V811.9H434.5V811.7H435.5V811.9H436.5V811.9H437.5V812H438.5V811.8H439.5V811.9H440.5V811.8H441.5V811.3H442.5V811.9H443.5V811.7H444.5V811.8H445.5V810.1H446.5V809.9H447.5V810.3H448.5V809.5H449.5V809.7H450.5V809.7H451.5V809.5H452.5V809.7H453.5V809.2H454.5V808.9H455.5V808.9H456.5V809.3H457.5V808.3H458.5V808.5H459.5V808.7H460.5V807.7H461.5V807.9H462.5V804.4H463.5V804.6H464.5V805H465.5V804.3H466.5V804.8H467.5V805.3H468.5V805.4H469.5V802.8H470.5V799.6H471.5V801H472.5V803H473.5V802.9H474.5V798.1H475.5V799.7H476.5V811.8H477.5V802.2H478.5V802.4H479.5V802.2H480.5V803.4H481.5V802H482.5V802.1H483.5V802.7H484.5V802.4H485.5V811.8H486.5V811.4H487.5V811.9H488.5V811.8H489.5V811.9H490.5V811.4H491.5V811.7H492.5V811.8H493.5V811.1H494.5V811.8H495.5V811.8H496.5V811.8H497.5V811.4H498.5V811.8H499.5V811.5H500.5V811.8H501.5V811.7H502.5V811.9H503.5V811.4H504.5V811H505.5V811.6H506.5V811.3H507.5V811.6H508.5V811.9H509.5V811.9H510.5V811.4H511.5V811.8H512.5V811.9H513.5V811.7H514.5V811.5H515.5V811.6H516.5V811.9H517.5V811.7H518.5V812H519.5V811.9H520.5V811.8H521.5V811.1H522.5V811.5H523.5V811.9H524.5V811.6H525.5V811.6H526.5V811.4H527.5V811.7H528.5V812H529.5V811.7H530.5V811.8H531.5V811.9H532.5V811.9H533.5V811.6H534.5V811.4H535.5V811.6H536.5V811.9H537.5V811.8H538.5V811.9H539.5V811.2H540.5V811.4H541.5V811.6H542.5V811.8H543.5V811.9H544.5V811.5H545.5V811.9H546.5V811.7H547.5V811.5H548.5V811.8H549.5V811.3H550.5V811.6H551.5V811.9H552.5V811.9H553.5V811.7H554.5V811.9H555.5V811.7H556.5V811.6H557.5V811.9H558.5V811.8H559.5V811.8H560.5V811.7H561.5V811.9H562.5V811.8H563.5V811.8H564.5V811.8H565.5V811.6H566.5V811.8H567.5V811.9H568.5V811.4H569.5V811.6H570.5V811.6H571.5V812H572.5V811.9H573.5V812H574.5V811.7H575.5V811.7H576.5V811.5H577.5V811.6H578.5V811.9H579.5V811.9H580.5V811.8H581.5V811.4H582.5V811.7H583.5V812H584.5V811.8H585.5V811.6H586.5V811.9H587.5V811.6H588.5V811.6H589.5V811.7H590.5V811.8H591.5V811.8H592.5V811.5H593.5V811.8H594.5V811.4H595.5V811.9H596.5V811.8H597.5V811.5H598.5V811.7H599.5V812H600.5V811.8H601.5V811.6H602.5V811.9H603.5V811.5H604.5V811.8H605.5V811.9H606.5V811.7H607.5V811.6H608.5V811.9H609.5V811.4H610.5V811.9H611.5V811.6H612.5V812H613.5V811.9H614.5V811.8H615.5V811.8H616.5V811.8H617.5V811.5H618.5V811.7H619.5V811.6H620.5V811.8H621.5V811.6H622.5V812H623.5V811.8H624.5V811.7H625.5V812H626.5V811.7H627.5V811.8H628.5V811.8H629.5V812H630.5V811.9H631.5V811.8H632.5V811.9H633.5V811.5H634.5V811.9H635.5V811.6H636.5V811.9H637.5V811.9H638.5V811.7H639.5V811.8H640.5V812H641.5V811.9H642.5V811.8H643.5V811.7H644.5V811.8H645.5V811.8H646.5V811.9H647.5V811.3H648.5V811.4H649.5V810.9H650.5V811.9H651.5V811.9H652.5V811.8H653.5V811.8H654.5V811.9H655.5V811.8H656.5V812H657.5V812H658.5V811.7H659.5V811.5H660.5V811.7H661.5V811.8H662.5V811.3H663.5V811.2H664.5V811.6H665.5V811.6H666.5V811.8H667.5V811.9H668.5V811.4H669.5V811.8H670.5V811.7H671.5V811.8H672.5V811.4H673.5V811.4H674.5V811.3H675.5V811.5H676.5V811.5H677.5V811.7H678.5V811.7H679.5V811.9H680.5V811.8H681.5V811.5H682.5V811.8H683.5V811.9H684.5V811.5H685.5V812H686.5V811.7H687.5V811.8H688.5V811.7H689.5V812H690.5V812H691.5V811.9H692.5V811.7H693.5V811.5H694.5V811.6H695.5V811.4H696.5V811.8H697.5V812Z" fill="#5cc0cb"/>
<path d="M74.4 792.6H76.6V812M74.4 812H697" fill="none" stroke="#222" stroke-width="1.2"/>
<text x="71" y="794.8" font-size="5.4" text-anchor="end" fill="#333" >92.15</text>
<text x="71" y="814.1" font-size="5.4" text-anchor="end" fill="#333" >0.00</text>
<text x="45.6" y="805" font-size="9.5" text-anchor="middle" fill="#222" >H3K4me3</text>
<path d="M76.5 837.5V837.3H77.5V837.4H78.5V837.2H79.5V837.3H80.5V837.3H81.5V837.5H82.5V837.2H83.5V837.3H84.5V837.4H85.5V836.9H86.5V837.3H87.5V837.3H88.5V836.9H89.5V837H90.5V837H91.5V837.1H92.5V837.3H93.5V835.9H94.5V835.6H95.5V835.6H96.5V835.9H97.5V835.8H98.5V835.6H99.5V835.9H100.5V837.3H101.5V837.2H102.5V837.3H103.5V837.3H104.5V837.2H105.5V837.5H106.5V837.4H107.5V836.9H108.5V837.2H109.5V837.1H110.5V837.3H111.5V837.2H112.5V837.2H113.5V837.3H114.5V837.3H115.5V837H116.5V837.3H117.5V837.1H118.5V837H119.5V837.2H120.5V837.1H121.5V835.6H122.5V835H123.5V834.6H124.5V834.8H125.5V834.4H126.5V833.2H127.5V832.7H128.5V832.8H129.5V832.8H130.5V832.7H131.5V833.4H132.5V833.7H133.5V832.9H134.5V828.3H135.5V828.7H136.5V832.7H137.5V834.9H138.5V834.8H139.5V835.3H140.5V835.3H141.5V836.8H142.5V836.8H143.5V836.3H144.5V836.1H145.5V836.2H146.5V835.9H147.5V835.9H148.5V835.7H149.5V835.3H150.5V835.8H151.5V835.9H152.5V835.1H153.5V835H154.5V835.7H155.5V836H156.5V835.5H157.5V835.1H158.5V835.7H159.5V835.9H160.5V835.9H161.5V835.8H162.5V836.1H163.5V836.6H164.5V836.2H165.5V836.3H166.5V836.9H167.5V837.5H168.5V837.1H169.5V837.4H170.5V837.4H171.5V837.2H172.5V837.4H173.5V837.3H174.5V837.4H175.5V837.1H176.5V837.4H177.5V836H178.5V835.8H179.5V834.8H180.5V833.5H181.5V834.3H182.5V835.6H183.5V836H184.5V837.2H185.5V837.4H186.5V836.5H187.5V837.4H188.5V837.4H189.5V837.2H190.5V837.4H191.5V837.3H192.5V836.9H193.5V837.5H194.5V837H195.5V836.7H196.5V837.4H197.5V837.2H198.5V837.1H199.5V837.5H200.5V837.3H201.5V837.3H202.5V837.5H203.5V837.5H204.5V837.3H205.5V837.5H206.5V834.1H207.5V834.2H208.5V834.2H209.5V834.3H210.5V833.9H211.5V834.2H212.5V833.5H213.5V830.9H214.5V829.1H215.5V831.6H216.5V833H217.5V835.9H218.5V835.8H219.5V835.8H220.5V834.8H221.5V834.9H222.5V834.8H223.5V834.7H224.5V835.3H225.5V835.4H226.5V835.9H227.5V836.6H228.5V837.5H229.5V835.6H230.5V831.1H231.5V828H232.5V823.3H233.5V827H234.5V830.4H235.5V834.2H236.5V835.9H237.5V835.8H238.5V835.7H239.5V835.1H240.5V835.7H241.5V835.9H242.5V836H243.5V835.8H244.5V835.5H245.5V835.5H246.5V835.3H247.5V835.8H248.5V836.3H249.5V836.5H250.5V837.1H251.5V834.4H252.5V833.1H253.5V832.6H254.5V830.5H255.5V829.6H256.5V831.9H257.5V833.6H258.5V832.2H259.5V829.2H260.5V825.9H261.5V823H262.5V827.4H263.5V829.4H264.5V831.2H265.5V826.5H266.5V822.9H267.5V821.8H268.5V825.6H269.5V830.8H270.5V833.2H271.5V827.1H272.5V835H273.5V826.7H274.5V826.7H275.5V834.7H276.5V835H277.5V834H278.5V835.1H279.5V835.6H280.5V835.4H281.5V834.3H282.5V833.9H283.5V834.1H284.5V833.9H285.5V834.3H286.5V835.2H287.5V836H288.5V835.8H289.5V835.5H290.5V834.4H291.5V832.9H292.5V831.8H293.5V832.5H294.5V834H295.5V832.4H296.5V832H297.5V833.4H298.5V833.6H299.5V835.2H300.5V837.2H301.5V837.5H302.5V837.5H303.5V837.4H304.5V837.2H305.5V837.5H306.5V836.9H307.5V837.5H308.5V837.1H309.5V837.4H310.5V837.4H311.5V837.5H312.5V837.1H313.5V837.5H314.5V837.3H315.5V836.9H316.5V836.3H317.5V835.7H318.5V835.2H319.5V833.9H320.5V834.3H321.5V835.3H322.5V834.2H323.5V832.8H324.5V833.9H325.5V833.7H326.5V833.3H327.5V834.8H328.5V835H329.5V833.9H330.5V834.1H331.5V834.3H332.5V834.7H333.5V834.6H334.5V834.7H335.5V835.5H336.5V835H337.5V835.5H338.5V836.3H339.5V836.8H340.5V836.6H341.5V836.4H342.5V835.8H343.5V835.6H344.5V836.1H345.5V835.7H346.5V834.9H347.5V835H348.5V834.9H349.5V834.8H350.5V835.4H351.5V836H352.5V835.9H353.5V835.9H354.5V836H355.5V835.2H356.5V835.7H357.5V836H358.5V835.8H359.5V836.1H360.5V837.1H361.5V836.8H362.5V836.9H363.5V836.7H364.5V836.8H365.5V836.7H366.5V836.7H367.5V836.6H368.5V836.4H369.5V836.6H370.5V836.7H371.5V836.3H372.5V836.2H373.5V836.1H374.5V836.3H375.5V836.6H376.5V836.6H377.5V836.6H378.5V836.5H379.5V836.4H380.5V836.3H381.5V835.9H382.5V836.1H383.5V836.2H384.5V836.2H385.5V836.1H386.5V835.7H387.5V835.9H388.5V836.1H389.5V836.4H390.5V836.2H391.5V836.2H392.5V836.2H393.5V835.9H394.5V835.9H395.5V835.9H396.5V836.3H397.5V836.1H398.5V835.9H399.5V835.9H400.5V836.3H401.5V836.5H402.5V836.3H403.5V836.2H404.5V836.1H405.5V835.7H406.5V835.7H407.5V836H408.5V836.3H409.5V836.4H410.5V836H411.5V835.7H412.5V832.8H413.5V833.3H414.5V833H415.5V833.3H416.5V832.9H417.5V836.2H418.5V836.4H419.5V836.4H420.5V836.4H421.5V836.3H422.5V836.3H423.5V836.1H424.5V836.1H425.5V836.5H426.5V836.2H427.5V835.9H428.5V836.1H429.5V836.1H430.5V836.4H431.5V836.6H432.5V836.5H433.5V836.4H434.5V836.3H435.5V836.2H436.5V836.2H437.5V836.3H438.5V836.2H439.5V836.2H440.5V836.6H441.5V836.6H442.5V836.5H443.5V836.6H444.5V836.7H445.5V835.8H446.5V835.6H447.5V835.4H448.5V835.4H449.5V835.2H450.5V835H451.5V833.7H452.5V832.6H453.5V833.7H454.5V834.3H455.5V834.3H456.5V834.9H457.5V834.7H458.5V834H459.5V833.7H460.5V834.3H461.5V833.4H462.5V830.5H463.5V829.3H464.5V829.8H465.5V830.4H466.5V829.8H467.5V829.2H468.5V829.2H469.5V827.1H470.5V824.3H471.5V823.3H472.5V827.3H473.5V832H474.5V832.4H475.5V828.4H476.5V825.7H477.5V825.8H478.5V829H479.5V832.8H480.5V831.7H481.5V830H482.5V831.1H483.5V831.1H484.5V830.7H485.5V829.2H486.5V825.4H487.5V829H488.5V832.2H489.5V833.8H490.5V833.7H491.5V833.9H492.5V834H493.5V833.3H494.5V833.2H495.5V834.3H496.5V834.1H497.5V835H498.5V834.4H499.5V834.9H500.5V834.7H501.5V835H502.5V835.8H503.5V835.9H504.5V835.9H505.5V836.3H506.5V836.3H507.5V836.5H508.5V837.4H509.5V836.8H510.5V837.2H511.5V837.5H512.5V837.1H513.5V837.5H514.5V837.2H515.5V837.3H516.5V836.9H517.5V837H518.5V837.5H519.5V837.2H520.5V837.1H521.5V837.5H522.5V837.5H523.5V837.4H524.5V837.4H525.5V837.3H526.5V837.3H527.5V837.3H528.5V835.7H529.5V835.4H530.5V835.3H531.5V835.7H532.5V836H533.5V835.6H534.5V835.1H535.5V835.6H536.5V836H537.5V832.3H538.5V832.2H539.5V830.6H540.5V830.9H541.5V829.2H542.5V829H543.5V819H544.5V819.6H545.5V820.1H546.5V819H547.5V821.5H548.5V832.4H549.5V831.8H550.5V832H551.5V837.4H552.5V837.5H553.5V837.4H554.5V837.1H555.5V837.3H556.5V837.1H557.5V837.1H558.5V837H559.5V837.1H560.5V837.2H561.5V836.9H562.5V836.5H563.5V836H564.5V835.7H565.5V836.1H566.5V836.3H567.5V836.3H568.5V836.5H569.5V836.5H570.5V836.3H571.5V836H572.5V836.3H573.5V836.7H574.5V836.9H575.5V837.5H576.5V837.1H577.5V837.3H578.5V837.3H579.5V837.1H580.5V836.8H581.5V836.9H582.5V837.3H583.5V837.4H584.5V837.4H585.5V837.3H586.5V837.2H587.5V837.1H588.5V837.5H589.5V837.2H590.5V837.1H591.5V837.3H592.5V837.4H593.5V837.4H594.5V836.9H595.5V836.6H596.5V836.5H597.5V836.3H598.5V836.3H599.5V836.1H600.5V836.1H601.5V835.8H602.5V835.8H603.5V836.2H604.5V836H605.5V836.1H606.5V836.4H607.5V836.3H608.5V836.3H609.5V836.6H610.5V836.6H611.5V836.6H612.5V836.8H613.5V836.8H614.5V837.1H615.5V837.4H616.5V836.6H617.5V837.2H618.5V837.4H619.5V837.4H620.5V837.5H621.5V837.4H622.5V837.1H623.5V837.5H624.5V836.9H625.5V837.2H626.5V836.9H627.5V837.1H628.5V837.2H629.5V837.2H630.5V837.3H631.5V837.1H632.5V837.5H633.5V837.2H634.5V837.1H635.5V837.1H636.5V837.3H637.5V837.3H638.5V837H639.5V836.8H640.5V836.8H641.5V836.6H642.5V836.5H643.5V836.6H644.5V836.5H645.5V836.1H646.5V836.2H647.5V836.4H648.5V835.8H649.5V835.5H650.5V836.1H651.5V836.4H652.5V836.5H653.5V836.2H654.5V836.2H655.5V836.3H656.5V835.8H657.5V835.8H658.5V835.8H659.5V836H660.5V836.5H661.5V836.7H662.5V836.4H663.5V836.5H664.5V836.8H665.5V836.8H666.5V836.9H667.5V837.2H668.5V837H669.5V837.4H670.5V837H671.5V836.8H672.5V836.8H673.5V837.3H674.5V837.1H675.5V837.4H676.5V837.4H677.5V837.4H678.5V834.1H679.5V833.1H680.5V833.3H681.5V832.5H682.5V831.7H683.5V831.6H684.5V831.5H685.5V831H686.5V829.2H687.5V829.3H688.5V830.7H689.5V829.4H690.5V828.2H691.5V827H692.5V828.8H693.5V826.7H694.5V826.5H695.5V828.5H696.5V828.4H697.5V837.5Z" fill="#5cc0cb"/>
<path d="M74.4 818.4H76.6V837.5M74.4 837.5H697" fill="none" stroke="#222" stroke-width="1.2"/>
<text x="71" y="820.6" font-size="5.4" text-anchor="end" fill="#333" >59.77</text>
<text x="71" y="839.6" font-size="5.4" text-anchor="end" fill="#333" >0.01</text>
<text x="45.6" y="830.8" font-size="9.5" text-anchor="middle" fill="#222" >H3K27ac</text>
<path d="M76.5 862.9V862H77.5V861.9H78.5V861.9H79.5V861.5H80.5V861.4H81.5V861.2H82.5V861.9H83.5V861.4H84.5V862.6H85.5V862.6H86.5V862.6H87.5V861.2H88.5V862.6H89.5V862.6H90.5V860.5H91.5V862.6H92.5V862.6H93.5V860.4H94.5V862.5H95.5V862.6H96.5V857.2H97.5V856.7H98.5V857.1H99.5V856.4H100.5V860.2H101.5V862.4H102.5V862.4H103.5V861.4H104.5V861.4H105.5V862.1H106.5V861.1H107.5V861.1H108.5V862.4H109.5V861.1H110.5V861.1H111.5V862.2H112.5V862.2H113.5V860H114.5V860H115.5V862.6H116.5V862.6H117.5V862.6H118.5V862.6H119.5V862.6H120.5V862.6H121.5V860.7H122.5V862.6H123.5V862.6H124.5V860.6H125.5V862.6H126.5V862.6H127.5V860.5H128.5V862.5H129.5V862.6H130.5V860.3H131.5V861.7H132.5V862.6H133.5V862.5H134.5V862.6H135.5V862.6H136.5V860.5H137.5V860.4H138.5V859.9H139.5V860.3H140.5V862.4H141.5V862.6H142.5V862.6H143.5V862.6H144.5V862.6H145.5V861.7H146.5V862.4H147.5V862.6H148.5V862.5H149.5V861.4H150.5V862.6H151.5V862.6H152.5V862.6H153.5V862.6H154.5V861.2H155.5V862.6H156.5V861.8H157.5V862.6H158.5V862.6H159.5V862.5H160.5V862.6H161.5V862.6H162.5V862.2H163.5V861.3H164.5V862.4H165.5V860.7H166.5V859H167.5V859.6H168.5V859.5H169.5V862.6H170.5V862.6H171.5V862.6H172.5V862.6H173.5V862.4H174.5V862.6H175.5V862.6H176.5V862.3H177.5V862.1H178.5V862.6H179.5V860.8H180.5V862.6H181.5V862.6H182.5V861.4H183.5V862H184.5V862.6H185.5V862.4H186.5V862.6H187.5V861.2H188.5V862.6H189.5V862.6H190.5V861.8H191.5V861.8H192.5V862.6H193.5V862.6H194.5V862.6H195.5V862.6H196.5V860.6H197.5V862.6H198.5V862.6H199.5V861.5H200.5V862.6H201.5V862.6H202.5V862.6H203.5V861.1H204.5V862.6H205.5V861.3H206.5V861.1H207.5V862.4H208.5V862.6H209.5V861.3H210.5V862.6H211.5V862.2H212.5V860.6H213.5V862.6H214.5V861H215.5V860.7H216.5V861H217.5V861.1H218.5V861.3H219.5V861H220.5V861H221.5V860.5H222.5V862.6H223.5V860.3H224.5V862.6H225.5V862.6H226.5V862.6H227.5V862.6H228.5V862.6H229.5V860.7H230.5V862H231.5V862.6H232.5V862.6H233.5V862.5H234.5V862.4H235.5V862.5H236.5V862.3H237.5V862.6H238.5V862.6H239.5V861.1H240.5V862.6H241.5V861.7H242.5V862.5H243.5V862.6H244.5V862.2H245.5V861.6H246.5V862.6H247.5V862.6H248.5V861.6H249.5V862.6H250.5V862.6H251.5V860.4H252.5V862.6H253.5V862.3H254.5V861.7H255.5V861.7H256.5V862.6H257.5V862.6H258.5V862.6H259.5V862.6H260.5V861.4H261.5V862.6H262.5V860.3H263.5V860H264.5V860.5H265.5V862.3H266.5V861.1H267.5V862.6H268.5V860.5H269.5V862.6H270.5V861H271.5V862.6H272.5V861H273.5V862.6H274.5V861.2H275.5V862.4H276.5V862.6H277.5V862.6H278.5V861.8H279.5V862.6H280.5V862.3H281.5V862.6H282.5V860.4H283.5V860.4H284.5V861.2H285.5V860.3H286.5V862.6H287.5V862.6H288.5V860.5H289.5V862H290.5V862.6H291.5V862.6H292.5V862.6H293.5V862.3H294.5V861.3H295.5V862.6H296.5V862.6H297.5V862.4H298.5V860.7H299.5V862.3H300.5V862.5H301.5V861.4H302.5V862.6H303.5V860.8H304.5V862.3H305.5V860.8H306.5V862.3H307.5V862.6H308.5V862.4H309.5V862.5H310.5V862.4H311.5V862.6H312.5V862.6H313.5V862.6H314.5V860.8H315.5V862.5H316.5V862.6H317.5V861.2H318.5V862.5H319.5V861.3H320.5V862.6H321.5V862.3H322.5V862.6H323.5V862.6H324.5V862.6H325.5V860.6H326.5V862.6H327.5V862.5H328.5V861H329.5V862.3H330.5V862.6H331.5V862.6H332.5V862.6H333.5V862.6H334.5V862.6H335.5V862.6H336.5V862.6H337.5V861.7H338.5V862.5H339.5V862.5H340.5V862.6H341.5V862.6H342.5V862.5H343.5V861.3H344.5V862.5H345.5V862.5H346.5V862.4H347.5V862.6H348.5V861.8H349.5V862.5H350.5V860.6H351.5V862.6H352.5V862.6H353.5V861.5H354.5V862.5H355.5V862.6H356.5V862.6H357.5V862.6H358.5V862.5H359.5V862.6H360.5V862.6H361.5V862.6H362.5V861.7H363.5V860.5H364.5V862.6H365.5V862.6H366.5V862.6H367.5V862.6H368.5V862.5H369.5V862.6H370.5V862.6H371.5V862.6H372.5V862.6H373.5V860.9H374.5V862.6H375.5V862.6H376.5V862.6H377.5V862.6H378.5V862.6H379.5V860.6H380.5V862.6H381.5V862.6H382.5V862.6H383.5V862.3H384.5V861.2H385.5V862.3H386.5V862.5H387.5V862.5H388.5V862.6H389.5V862.5H390.5V860.8H391.5V860.6H392.5V862.6H393.5V861.9H394.5V862.6H395.5V860.5H396.5V862.6H397.5V860.6H398.5V862.4H399.5V862.6H400.5V862.5H401.5V862.5H402.5V862.6H403.5V861.8H404.5V862.6H405.5V862.6H406.5V862.2H407.5V862.6H408.5V862.6H409.5V862.6H410.5V862.6H411.5V862.4H412.5V860.7H413.5V861.4H414.5V862.6H415.5V862.6H416.5V862.4H417.5V860.6H418.5V862.6H419.5V862.6H420.5V862.6H421.5V862.6H422.5V862.6H423.5V862.6H424.5V862.5H425.5V862.6H426.5V862.6H427.5V862.6H428.5V862.6H429.5V862.3H430.5V862.4H431.5V862.3H432.5V860.7H433.5V862.4H434.5V861.3H435.5V862.6H436.5V862.6H437.5V862.6H438.5V862.3H439.5V862.6H440.5V862.6H441.5V862.5H442.5V862.6H443.5V861.6H444.5V862.6H445.5V862.6H446.5V862.6H447.5V861.6H448.5V862.6H449.5V862.6H450.5V862.6H451.5V860.7H452.5V862.1H453.5V862.6H454.5V860.5H455.5V862.6H456.5V861.8H457.5V860.9H458.5V862.6H459.5V861.7H460.5V862.6H461.5V862.6H462.5V862.6H463.5V862.6H464.5V860.4H465.5V861.3H466.5V862.6H467.5V862.6H468.5V861.8H469.5V860.5H470.5V860.7H471.5V862.6H472.5V862.6H473.5V862.6H474.5V861.3H475.5V862.6H476.5V862.6H477.5V860.3H478.5V862.4H479.5V860.6H480.5V862.6H481.5V862.4H482.5V862.6H483.5V862.4H484.5V862.6H485.5V862.4H486.5V862.6H487.5V862.6H488.5V862.6H489.5V860.4H490.5V862.6H491.5V860.8H492.5V862.6H493.5V862.6H494.5V861.9H495.5V862.6H496.5V862.1H497.5V862.6H498.5V862.6H499.5V862.5H500.5V862.6H501.5V862.5H502.5V862.6H503.5V862.6H504.5V862.6H505.5V862.6H506.5V862.6H507.5V861.7H508.5V862.6H509.5V862.4H510.5V862.6H511.5V862.4H512.5V862.6H513.5V862.5H514.5V862.4H515.5V853.4H516.5V853.6H517.5V854H518.5V862.6H519.5V862.6H520.5V862.1H521.5V862.3H522.5V860.7H523.5V860.6H524.5V862.6H525.5V862.6H526.5V861H527.5V860.2H528.5V860.1H529.5V860H530.5V862.6H531.5V862.6H532.5V862.6H533.5V860.4H534.5V862.6H535.5V862.3H536.5V862.6H537.5V862.6H538.5V862.6H539.5V862.5H540.5V862.6H541.5V862.6H542.5V862.6H543.5V855.4H544.5V855H545.5V855.1H546.5V862.6H547.5V862.6H548.5V862.4H549.5V862.6H550.5V862.6H551.5V860.9H552.5V862.6H553.5V862.6H554.5V862.6H555.5V862.6H556.5V862.6H557.5V861.2H558.5V862.2H559.5V862.6H560.5V862.6H561.5V862.4H562.5V862.6H563.5V860.8H564.5V860.5H565.5V862.6H566.5V862.6H567.5V860.8H568.5V862.6H569.5V861.8H570.5V862.5H571.5V860.7H572.5V862.1H573.5V862.5H574.5V858.1H575.5V858H576.5V858.8H577.5V861.8H578.5V862.6H579.5V862.6H580.5V862.6H581.5V862.5H582.5V860.8H583.5V860.6H584.5V861.5H585.5V862.6H586.5V862.6H587.5V862.6H588.5V862.6H589.5V862.6H590.5V862.6H591.5V862.5H592.5V862.6H593.5V862.3H594.5V859H595.5V861.2H596.5V861.2H597.5V858.7H598.5V845.9H599.5V845.1H600.5V844.8H601.5V844.3H602.5V858.7H603.5V862.6H604.5V862.3H605.5V862.8H606.5V862.7H607.5V862.6H608.5V860.1H609.5V861.6H610.5V860.6H611.5V862.4H612.5V860.6H613.5V862.1H614.5V862.1H615.5V860.1H616.5V860.1H617.5V862.1H618.5V859.4H619.5V861.6H620.5V861.6H621.5V859H622.5V862.5H623.5V862.5H624.5V860.9H625.5V860.9H626.5V862.2H627.5V862.5H628.5V862.6H629.5V862.8H630.5V853.9H631.5V853H632.5V854.3H633.5V854.7H634.5V862.7H635.5V862.6H636.5V862.4H637.5V862.2H638.5V862.7H639.5V862.7H640.5V858.7H641.5V858.8H642.5V858.7H643.5V858.7H644.5V858.7H645.5V862.9H646.5V858.2H647.5V861.5H648.5V855.3H649.5V855.3H650.5V860.3H651.5V854.6H652.5V860.1H653.5V862.5H654.5V862.3H655.5V848.4H656.5V846.4H657.5V848.3H658.5V847H659.5V862.6H660.5V862.6H661.5V862.7H662.5V862.6H663.5V862.6H664.5V862.7H665.5V862.4H666.5V854H667.5V853.8H668.5V853.2H669.5V854.6H670.5V862.6H671.5V860.5H672.5V862.5H673.5V862.5H674.5V860H675.5V860H676.5V862.1H677.5V861.3H678.5V861.3H679.5V862H680.5V860.8H681.5V860.8H682.5V862.2H683.5V861.1H684.5V862.2H685.5V861H686.5V862H687.5V862H688.5V861.2H689.5V861.2H690.5V862.1H691.5V862.5H692.5V857.7H693.5V857.4H694.5V857.2H695.5V858.1H696.5V862.5H697.5V862.9Z" fill="#5cc0cb"/>
<path d="M74.4 843.8H76.6V862.9M74.4 862.9H697" fill="none" stroke="#222" stroke-width="1.2"/>
<text x="71" y="846" font-size="5.4" text-anchor="end" fill="#333" >2.07</text>
<text x="71" y="865" font-size="5.4" text-anchor="end" fill="#333" >0.00</text>
<text x="45.6" y="856" font-size="9.5" text-anchor="middle" fill="#222" >H3K27me3</text>
<line x1="18.9" y1="664.4" x2="18.9" y2="747.2" stroke="#aaa" stroke-width="1" />
<line x1="18.9" y1="772.8" x2="18.9" y2="856.5" stroke="#aaa" stroke-width="1" />
<text x="13.6" y="705.4" font-size="12.2" text-anchor="middle" fill="#222" transform="rotate(-90 13.6 705.4)">Control</text>
<text x="13.6" y="814.6" font-size="12.2" text-anchor="middle" fill="#222" transform="rotate(-90 13.6 814.6)">AD</text>
<text x="30.2" y="927" font-size="12" text-anchor="middle" fill="#222" transform="rotate(-90 30.2 927)">Primary Interactions</text>
<text x="44.3" y="927" font-size="12" text-anchor="middle" fill="#222" transform="rotate(-90 44.3 927)">predicted by SEE</text>
<path d="M76 915.9h62M138 921.4h62M200 915.9h62M262 921.4h62M324 915.9h62M386 921.4h62M448 915.9h62M510 921.4h62" stroke="#111" stroke-width="2.2"/>
<path d="M76 966.1h62M138 972.3h62M200 966.1h62M262 972.3h62M324 966.1h62M386 972.3h62M448 966.1h62M510 972.3h62" stroke="#111" stroke-width="2.2"/>
<path d="M109.6 915Q323.9 845.8 538.3 920.5" fill="none" stroke="#9e3a8e" stroke-width="1.3"/>
<path d="M231.8 915Q355 859 478.2 915" fill="none" stroke="#9e3a8e" stroke-width="1.3"/>
<path d="M169.7 920.5Q200.8 871.8 231.8 915" fill="none" stroke="#c0336a" stroke-width="1.3"/>
<path d="M231.8 915Q262.1 871.8 292.5 920.5" fill="none" stroke="#c0336a" stroke-width="1.3"/>
<path d="M355.2 915Q385.9 871.8 416.7 920.5" fill="none" stroke="#c0336a" stroke-width="1.3"/>
<path d="M416.7 920.5Q447.4 871.8 478.2 915" fill="none" stroke="#c0336a" stroke-width="1.3"/>
<path d="M109.6 965.2Q323.9 896.3 538.3 971.4" fill="none" stroke="#e07a64" stroke-width="1.3"/>
<path d="M231.8 965.2Q355 909.2 478.2 965.2" fill="none" stroke="#d0e2ee" stroke-width="1.3"/>
<path d="M169.7 971.4Q200.8 924.3 231.8 965.2" fill="none" stroke="#3f8cc4" stroke-width="1.3"/>
<path d="M231.8 965.2Q262.1 924.3 292.5 971.4" fill="none" stroke="#8ec0de" stroke-width="1.3"/>
<path d="M355.2 965.2Q385.9 924.3 416.7 971.4" fill="none" stroke="#ececec" stroke-width="1.3"/>
<path d="M416.7 971.4Q447.4 924.3 478.2 965.2" fill="none" stroke="#94c4e0" stroke-width="1.3"/>
<text x="645" y="894" font-size="12" text-anchor="middle" fill="#222" >dynamic index</text>
<text x="659.7" y="903.2" font-size="6.3" text-anchor="middle" fill="#222" >5%</text>
<line x1="649.2" y1="904.8" x2="669.4" y2="904.8" stroke="#e04848" stroke-width="1.2" />
<defs><linearGradient id="magma" x1="0" x2="1" y1="0" y2="0">
<stop offset="0" stop-color="#000004"/><stop offset="0.125" stop-color="#1c1044"/><stop offset="0.25" stop-color="#4f127b"/>
<stop offset="0.375" stop-color="#812581"/><stop offset="0.5" stop-color="#b5367a"/><stop offset="0.625" stop-color="#e55064"/>
<stop offset="0.75" stop-color="#fb8761"/><stop offset="0.875" stop-color="#fec287"/><stop offset="1" stop-color="#fcfdbf"/></linearGradient>
<linearGradient id="rdbu" x1="0" x2="1" y1="0" y2="0">
<stop offset="0" stop-color="#2a5a9c"/><stop offset="0.15" stop-color="#3a78b8"/><stop offset="0.3" stop-color="#92c5de"/><stop offset="0.5" stop-color="#f7f7f7"/>
<stop offset="0.7" stop-color="#f4a582"/><stop offset="0.85" stop-color="#c84a4a"/><stop offset="1" stop-color="#7a0f22"/></linearGradient></defs>
<rect x="620" y="907" width="49.8" height="8.5" fill="url(#magma)" stroke="#333" stroke-width="0.5"/>
<text x="616.7" y="914.5" font-size="9.5" text-anchor="end" fill="#222" >low</text>
<text x="673.2" y="914.5" font-size="9.5" fill="#222" >high</text>
<text x="652.2" y="945.5" font-size="12" text-anchor="middle" fill="#222" >Δinteraction</text>
<rect x="626.3" y="957.4" width="51.9" height="8.5" fill="url(#rdbu)" stroke="#333" stroke-width="0.5"/>
<text x="622.1" y="964.5" font-size="9.5" text-anchor="end" fill="#222" >down</text>
<text x="683" y="964.5" font-size="9.5" fill="#222" >up</text>
</svg></body></html>
